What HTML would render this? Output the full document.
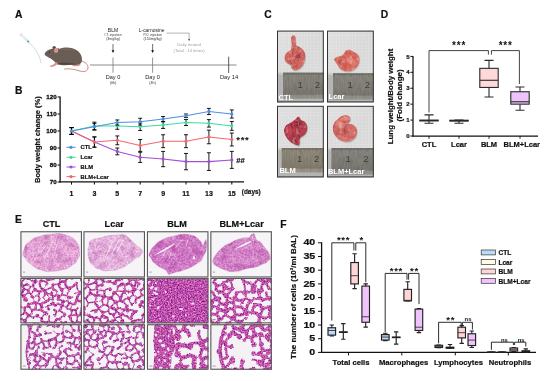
<!DOCTYPE html>
<html><head><meta charset="utf-8"><title>Figure</title>
<style>
html,body{margin:0;padding:0;background:#fff;}
svg{display:block;}
text{font-family:"Liberation Sans",Arial,sans-serif;}
.b{font-weight:bold;stroke:#111;stroke-width:.2px;}
.w{font-weight:bold;}
</style></head><body>
<svg width="550" height="381" viewBox="0 0 550 381">
<rect width="550" height="381" fill="#fff"/>

<text class="b" x="15.0" y="18.1" font-size="10.3" fill="#111" stroke="#111" stroke-width="0.3">A</text>
<text class="b" x="14.9" y="93.9" font-size="10.3" fill="#111" stroke="#111" stroke-width="0.3">B</text>
<text class="b" x="264.3" y="18.2" font-size="10.3" fill="#111" stroke="#111" stroke-width="0.3">C</text>
<text class="b" x="380.8" y="18.2" font-size="10.3" fill="#111" stroke="#111" stroke-width="0.3">D</text>
<text class="b" x="15.0" y="222.8" font-size="10.3" fill="#111" stroke="#111" stroke-width="0.3">E</text>
<text class="b" x="280.3" y="227.5" font-size="10.3" fill="#111" stroke="#111" stroke-width="0.3">F</text>
<g id="panelA">
<line x1="90" y1="65" x2="236.6" y2="65" stroke="#808080" stroke-width="0.9"/>
<line x1="113" y1="57.5" x2="113" y2="72.8" stroke="#7a7a7a" stroke-width="0.8"/>
<line x1="152.6" y1="57.5" x2="152.6" y2="72.8" stroke="#7a7a7a" stroke-width="0.8"/>
<line x1="228.7" y1="56.7" x2="228.7" y2="73" stroke="#333" stroke-width="0.8"/>
<line x1="113" y1="44" x2="113" y2="51" stroke="#111" stroke-width="0.6"/>
<path d="M111.6 50.2 L114.4 50.2 L113 53 Z" fill="#111"/>
<line x1="152.6" y1="44" x2="152.6" y2="51" stroke="#111" stroke-width="0.6"/>
<path d="M151.2 50.2 L154.0 50.2 L152.6 53 Z" fill="#111"/>
<text x="113" y="31.8" font-size="5.0" text-anchor="middle" fill="#222">BLM</text>
<text x="113" y="35.9" font-size="3.2" text-anchor="middle" fill="#333">I.T. injection</text>
<text x="113" y="39.8" font-size="3.45" text-anchor="middle" fill="#333">(3mg/kg)</text>
<text x="151.6" y="31.8" font-size="4.9" text-anchor="middle" fill="#222">L-carnosine</text>
<text x="152.6" y="35.9" font-size="3.15" text-anchor="middle" fill="#333">P.O. injection</text>
<text x="152.6" y="39.8" font-size="3.6" text-anchor="middle" fill="#333">(150mg/kg)</text>
<path d="M166.5 33.1 H189.1 V39.5" fill="none" stroke="#666" stroke-width="0.5"/>
<path d="M188 39 L190.2 39 L189.1 41.2 Z" fill="#555"/>
<text x="189.1" y="46.4" font-size="4.2" text-anchor="middle" fill="#a0a0a0">Daily treated</text>
<text x="189.1" y="51.7" font-size="4.2" text-anchor="middle" fill="#a0a0a0">(Total : 14 times)</text>
<text x="113" y="79" font-size="5.6" text-anchor="middle" fill="#222">Day 0</text>
<text x="113" y="83.8" font-size="3.7" text-anchor="middle" fill="#333">(0h)</text>
<text x="152.6" y="79" font-size="5.6" text-anchor="middle" fill="#222">Day 0</text>
<text x="152.6" y="83.8" font-size="3.7" text-anchor="middle" fill="#333">(4h)</text>
<text x="229" y="79" font-size="5.75" text-anchor="middle" fill="#222">Day 14</text>
<g transform="translate(21.4,35) rotate(44)">
<rect x="0" y="-0.85" width="10.2" height="1.7" fill="#f4f6f7" stroke="#c4cbcf" stroke-width="0.35"/>
<rect x="-1.0" y="-1.4" width="1.0" height="2.8" fill="#dfe3e6" stroke="#c0c6ca" stroke-width="0.3"/>
<rect x="1.5" y="-0.45" width="4" height="0.9" fill="#e3e8ea"/>
<rect x="5.4" y="-0.6" width="3.2" height="1.2" fill="#d4e6ee"/>
<rect x="8.5" y="-0.75" width="1.8" height="1.5" fill="#4a93b4"/>
</g>
<path d="M28.8 42.4 C33.6 46.4 39.2 53.5 41.2 63" fill="none" stroke="#bcc7cc" stroke-width="0.65"/>
<g>
<path d="M80.8 61 C85 61.2 88.2 64.6 88 68 C87.8 71.6 83.6 72.2 79 70.8 C74.6 69.4 68.6 68.2 64.6 69" fill="none" stroke="#c9827c" stroke-width="0.95" stroke-linecap="round"/>
<path d="M71.5 65.4 C74 66.6 78 66.4 80.6 65.2 L80 63.6 Z" fill="#d9908a"/>
<ellipse cx="54.2" cy="47.6" rx="1.7" ry="1.6" fill="#5a4f49"/>
<path d="M44.6 53.6 C45.6 51.4 48.6 49.4 52 48.8 C54.6 47.8 57.6 47.8 59.6 48.8 C64.6 46.6 72.6 47 77.2 50.4 C81.6 53.6 83 59.2 81.4 62.6 C80 65 75.6 65.2 71.4 64.8 C66.4 65.6 60.4 65.4 56.8 64.2 C54.8 61.6 52.2 58.8 48.6 57.4 C46.4 56.6 44.4 55.4 44.6 53.6 Z" fill="#6a5d56"/>
<path d="M60 49.6 C65 47.8 72 48.2 76.4 51.2 C72 49.8 65 49.6 60 49.6 Z" fill="#7b6e66" opacity="0.8"/>
<path d="M57 63.6 C62 65.2 70 65 76.4 64.2 C72 62.6 62 62.2 57 63.6 Z" fill="#51463f"/>
<path d="M55.6 62 C54.6 64 52.6 65.4 50 65.8 L50.4 66.9 C53.6 66.9 57 65.4 58 63 Z" fill="#d9908a"/>
<ellipse cx="56.2" cy="50.3" rx="2.0" ry="2.5" fill="#e3a29c" transform="rotate(18 56.2 50.3)"/>
<ellipse cx="56.3" cy="50.5" rx="1.1" ry="1.6" fill="#d48a84" transform="rotate(18 56.3 50.5)"/>
<circle cx="49.4" cy="52.3" r="0.55" fill="#1a1412"/>
</g>
</g>
</g>
<g id="panelB">
<line x1="60.1" y1="96.5" x2="60.1" y2="182.6" stroke="#111" stroke-width="1.3"/>
<line x1="59.5" y1="181.9" x2="244" y2="181.9" stroke="#111" stroke-width="1.3"/>
<line x1="57.6" y1="182.0" x2="60" y2="182.0" stroke="#111" stroke-width="1.05"/>
<text class="b" x="56.6" y="184.2" font-size="6.2" style="stroke-width:.3px" text-anchor="end" fill="#111">70</text>
<line x1="57.6" y1="165.0" x2="60" y2="165.0" stroke="#111" stroke-width="1.05"/>
<text class="b" x="56.6" y="167.2" font-size="6.2" style="stroke-width:.3px" text-anchor="end" fill="#111">80</text>
<line x1="57.6" y1="148.0" x2="60" y2="148.0" stroke="#111" stroke-width="1.05"/>
<text class="b" x="56.6" y="150.2" font-size="6.2" style="stroke-width:.3px" text-anchor="end" fill="#111">90</text>
<line x1="57.6" y1="131.0" x2="60" y2="131.0" stroke="#111" stroke-width="1.05"/>
<text class="b" x="56.6" y="133.2" font-size="6.2" style="stroke-width:.3px" text-anchor="end" fill="#111">100</text>
<line x1="57.6" y1="114.0" x2="60" y2="114.0" stroke="#111" stroke-width="1.05"/>
<text class="b" x="56.6" y="116.2" font-size="6.2" style="stroke-width:.3px" text-anchor="end" fill="#111">110</text>
<line x1="57.6" y1="97.0" x2="60" y2="97.0" stroke="#111" stroke-width="1.05"/>
<text class="b" x="56.6" y="99.2" font-size="6.2" style="stroke-width:.3px" text-anchor="end" fill="#111">120</text>
<line x1="71.5" y1="182.0" x2="71.5" y2="184.6" stroke="#111" stroke-width="1.05"/>
<text class="b" x="71.5" y="195.8" font-size="7" text-anchor="middle" fill="#111">1</text>
<line x1="94.4" y1="182.0" x2="94.4" y2="184.6" stroke="#111" stroke-width="1.05"/>
<text class="b" x="94.4" y="195.8" font-size="7" text-anchor="middle" fill="#111">3</text>
<line x1="117.3" y1="182.0" x2="117.3" y2="184.6" stroke="#111" stroke-width="1.05"/>
<text class="b" x="117.3" y="195.8" font-size="7" text-anchor="middle" fill="#111">5</text>
<line x1="140.2" y1="182.0" x2="140.2" y2="184.6" stroke="#111" stroke-width="1.05"/>
<text class="b" x="140.2" y="195.8" font-size="7" text-anchor="middle" fill="#111">7</text>
<line x1="163.1" y1="182.0" x2="163.1" y2="184.6" stroke="#111" stroke-width="1.05"/>
<text class="b" x="163.1" y="195.8" font-size="7" text-anchor="middle" fill="#111">9</text>
<line x1="186.0" y1="182.0" x2="186.0" y2="184.6" stroke="#111" stroke-width="1.05"/>
<text class="b" x="186.0" y="195.8" font-size="7" text-anchor="middle" fill="#111">11</text>
<line x1="208.89999999999998" y1="182.0" x2="208.89999999999998" y2="184.6" stroke="#111" stroke-width="1.05"/>
<text class="b" x="208.89999999999998" y="195.8" font-size="7" text-anchor="middle" fill="#111">13</text>
<line x1="231.79999999999998" y1="182.0" x2="231.79999999999998" y2="184.6" stroke="#111" stroke-width="1.05"/>
<text class="b" x="231.79999999999998" y="195.8" font-size="7" text-anchor="middle" fill="#111">15</text>
<text class="b" x="241.8" y="194.2" font-size="6.4" fill="#222">(days)</text>
<text class="b" transform="translate(39.8,139.6) rotate(-90)" font-size="7.5" text-anchor="middle" fill="#111">Body weight change (%)</text>
<path d="M71.5 127.60 V134.40 M69.5 127.60 H73.5 M69.5 134.40 H73.5" stroke="#000" stroke-width="0.9" fill="none"/>
<path d="M94.4 136.95 V147.15 M92.4 136.95 H96.4 M92.4 147.15 H96.4" stroke="#000" stroke-width="0.9" fill="none"/>
<path d="M117.3 148.00 V154.80 M115.3 148.00 H119.3 M115.3 154.80 H119.3" stroke="#000" stroke-width="0.9" fill="none"/>
<path d="M140.2 152.25 V162.45 M138.2 152.25 H142.2 M138.2 162.45 H142.2" stroke="#000" stroke-width="0.9" fill="none"/>
<path d="M163.1 151.40 V166.70 M161.1 151.40 H165.1 M161.1 166.70 H165.1" stroke="#000" stroke-width="0.9" fill="none"/>
<path d="M186.0 153.44 V169.76 M184.0 153.44 H188.0 M184.0 169.76 H188.0" stroke="#000" stroke-width="0.9" fill="none"/>
<path d="M208.89999999999998 152.76 V170.44 M206.89999999999998 152.76 H210.89999999999998 M206.89999999999998 170.44 H210.89999999999998" stroke="#000" stroke-width="0.9" fill="none"/>
<path d="M231.79999999999998 151.40 V168.40 M229.79999999999998 151.40 H233.79999999999998 M229.79999999999998 168.40 H233.79999999999998" stroke="#000" stroke-width="0.9" fill="none"/>
<polyline points="71.50,131.00 94.40,142.05 117.30,151.40 140.20,157.35 163.10,159.05 186.00,161.60 208.90,161.60 231.80,159.90" fill="none" stroke="#a24fd8" stroke-width="1.05"/>
<circle cx="71.50" cy="131.00" r="1.6" fill="#a24fd8"/>
<circle cx="94.40" cy="142.05" r="1.6" fill="#a24fd8"/>
<circle cx="117.30" cy="151.40" r="1.6" fill="#a24fd8"/>
<circle cx="140.20" cy="157.35" r="1.6" fill="#a24fd8"/>
<circle cx="163.10" cy="159.05" r="1.6" fill="#a24fd8"/>
<circle cx="186.00" cy="161.60" r="1.6" fill="#a24fd8"/>
<circle cx="208.90" cy="161.60" r="1.6" fill="#a24fd8"/>
<circle cx="231.80" cy="159.90" r="1.6" fill="#a24fd8"/>
<path d="M71.5 127.60 V134.40 M69.5 127.60 H73.5 M69.5 134.40 H73.5" stroke="#000" stroke-width="0.9" fill="none"/>
<path d="M94.4 136.95 V147.15 M92.4 136.95 H96.4 M92.4 147.15 H96.4" stroke="#000" stroke-width="0.9" fill="none"/>
<path d="M117.3 135.93 V144.77 M115.3 135.93 H119.3 M115.3 144.77 H119.3" stroke="#000" stroke-width="0.9" fill="none"/>
<path d="M140.2 139.50 V151.40 M138.2 139.50 H142.2 M138.2 151.40 H142.2" stroke="#000" stroke-width="0.9" fill="none"/>
<path d="M163.1 134.74 V147.66 M161.1 134.74 H165.1 M161.1 147.66 H165.1" stroke="#000" stroke-width="0.9" fill="none"/>
<path d="M186.0 134.74 V147.66 M184.0 134.74 H188.0 M184.0 147.66 H188.0" stroke="#000" stroke-width="0.9" fill="none"/>
<path d="M208.89999999999998 130.15 V143.75 M206.89999999999998 130.15 H210.89999999999998 M206.89999999999998 143.75 H210.89999999999998" stroke="#000" stroke-width="0.9" fill="none"/>
<path d="M231.79999999999998 133.04 V145.96 M229.79999999999998 133.04 H233.79999999999998 M229.79999999999998 145.96 H233.79999999999998" stroke="#000" stroke-width="0.9" fill="none"/>
<polyline points="71.50,131.00 94.40,142.05 117.30,140.35 140.20,145.45 163.10,141.20 186.00,141.20 208.90,136.95 231.80,139.50" fill="none" stroke="#f0686e" stroke-width="1.05"/>
<circle cx="71.50" cy="131.00" r="1.6" fill="#f0686e"/>
<circle cx="94.40" cy="142.05" r="1.6" fill="#f0686e"/>
<circle cx="117.30" cy="140.35" r="1.6" fill="#f0686e"/>
<circle cx="140.20" cy="145.45" r="1.6" fill="#f0686e"/>
<circle cx="163.10" cy="141.20" r="1.6" fill="#f0686e"/>
<circle cx="186.00" cy="141.20" r="1.6" fill="#f0686e"/>
<circle cx="208.90" cy="136.95" r="1.6" fill="#f0686e"/>
<circle cx="231.80" cy="139.50" r="1.6" fill="#f0686e"/>
<path d="M71.5 127.60 V134.40 M69.5 127.60 H73.5 M69.5 134.40 H73.5" stroke="#000" stroke-width="0.9" fill="none"/>
<path d="M94.4 122.16 V129.64 M92.4 122.16 H96.4 M92.4 129.64 H96.4" stroke="#000" stroke-width="0.9" fill="none"/>
<path d="M117.3 122.50 V129.30 M115.3 122.50 H119.3 M115.3 129.30 H119.3" stroke="#000" stroke-width="0.9" fill="none"/>
<path d="M140.2 123.01 V130.49 M138.2 123.01 H142.2 M138.2 130.49 H142.2" stroke="#000" stroke-width="0.9" fill="none"/>
<path d="M163.1 121.65 V128.45 M161.1 121.65 H165.1 M161.1 128.45 H165.1" stroke="#000" stroke-width="0.9" fill="none"/>
<path d="M186.0 119.44 V125.56 M184.0 119.44 H188.0 M184.0 125.56 H188.0" stroke="#000" stroke-width="0.9" fill="none"/>
<path d="M208.89999999999998 119.61 V127.09 M206.89999999999998 119.61 H210.89999999999998 M206.89999999999998 127.09 H210.89999999999998" stroke="#000" stroke-width="0.9" fill="none"/>
<path d="M231.79999999999998 121.48 V130.32 M229.79999999999998 121.48 H233.79999999999998 M229.79999999999998 130.32 H233.79999999999998" stroke="#000" stroke-width="0.9" fill="none"/>
<polyline points="71.50,131.00 94.40,125.90 117.30,125.90 140.20,126.75 163.10,125.05 186.00,122.50 208.90,123.35 231.80,125.90" fill="none" stroke="#3ddba0" stroke-width="1.05"/>
<circle cx="71.50" cy="131.00" r="1.6" fill="#3ddba0"/>
<circle cx="94.40" cy="125.90" r="1.6" fill="#3ddba0"/>
<circle cx="117.30" cy="125.90" r="1.6" fill="#3ddba0"/>
<circle cx="140.20" cy="126.75" r="1.6" fill="#3ddba0"/>
<circle cx="163.10" cy="125.05" r="1.6" fill="#3ddba0"/>
<circle cx="186.00" cy="122.50" r="1.6" fill="#3ddba0"/>
<circle cx="208.90" cy="123.35" r="1.6" fill="#3ddba0"/>
<circle cx="231.80" cy="125.90" r="1.6" fill="#3ddba0"/>
<path d="M71.5 127.60 V134.40 M69.5 127.60 H73.5 M69.5 134.40 H73.5" stroke="#000" stroke-width="0.9" fill="none"/>
<path d="M94.4 123.35 V130.15 M92.4 123.35 H96.4 M92.4 130.15 H96.4" stroke="#000" stroke-width="0.9" fill="none"/>
<path d="M117.3 119.95 V125.05 M115.3 119.95 H119.3 M115.3 125.05 H119.3" stroke="#000" stroke-width="0.9" fill="none"/>
<path d="M140.2 118.25 V125.05 M138.2 118.25 H142.2 M138.2 125.05 H142.2" stroke="#000" stroke-width="0.9" fill="none"/>
<path d="M163.1 116.55 V121.65 M161.1 116.55 H165.1 M161.1 121.65 H165.1" stroke="#000" stroke-width="0.9" fill="none"/>
<path d="M186.0 114.00 V117.40 M184.0 114.00 H188.0 M184.0 117.40 H188.0" stroke="#000" stroke-width="0.9" fill="none"/>
<path d="M208.89999999999998 108.39 V114.51 M206.89999999999998 108.39 H210.89999999999998 M206.89999999999998 114.51 H210.89999999999998" stroke="#000" stroke-width="0.9" fill="none"/>
<path d="M231.79999999999998 109.92 V118.08 M229.79999999999998 109.92 H233.79999999999998 M229.79999999999998 118.08 H233.79999999999998" stroke="#000" stroke-width="0.9" fill="none"/>
<polyline points="71.50,131.00 94.40,126.75 117.30,122.50 140.20,121.65 163.10,119.10 186.00,115.70 208.90,111.45 231.80,114.00" fill="none" stroke="#4a90e8" stroke-width="1.05"/>
<circle cx="71.50" cy="131.00" r="1.6" fill="#4a90e8"/>
<circle cx="94.40" cy="126.75" r="1.6" fill="#4a90e8"/>
<circle cx="117.30" cy="122.50" r="1.6" fill="#4a90e8"/>
<circle cx="140.20" cy="121.65" r="1.6" fill="#4a90e8"/>
<circle cx="163.10" cy="119.10" r="1.6" fill="#4a90e8"/>
<circle cx="186.00" cy="115.70" r="1.6" fill="#4a90e8"/>
<circle cx="208.90" cy="111.45" r="1.6" fill="#4a90e8"/>
<circle cx="231.80" cy="114.00" r="1.6" fill="#4a90e8"/>
<line x1="66.5" y1="147.3" x2="75.5" y2="147.3" stroke="#4a90e8" stroke-width="1.05"/>
<circle cx="71" cy="147.3" r="1.6" fill="#4a90e8"/>
<text class="b" x="80.5" y="149.4" font-size="5.8" fill="#111">CTL</text>
<line x1="66.5" y1="157.3" x2="75.5" y2="157.3" stroke="#3ddba0" stroke-width="1.05"/>
<circle cx="71" cy="157.3" r="1.6" fill="#3ddba0"/>
<text class="b" x="80.5" y="159.4" font-size="5.8" fill="#111">Lcar</text>
<line x1="66.5" y1="167" x2="75.5" y2="167" stroke="#a24fd8" stroke-width="1.05"/>
<circle cx="71" cy="167" r="1.6" fill="#a24fd8"/>
<text class="b" x="80.5" y="169.1" font-size="5.8" fill="#111">BLM</text>
<line x1="66.5" y1="176.6" x2="75.5" y2="176.6" stroke="#f0686e" stroke-width="1.05"/>
<circle cx="71" cy="176.6" r="1.6" fill="#f0686e"/>
<text class="b" x="80.5" y="178.7" font-size="5.8" fill="#111">BLM+Lcar</text>
<text class="w" x="236.3" y="142.9" font-size="9.6" letter-spacing="0.6" fill="#111">***</text>
<text class="b" x="236.2" y="162.6" font-size="7.6" fill="#111">##</text>
</g>
<g id="panelC">
<defs>
<pattern id="gridp" width="3.2" height="3.2" patternUnits="userSpaceOnUse">
<rect width="3.2" height="3.2" fill="#d9d8d8"/>
<path d="M0 0.3 H3.2 M0.3 0 V3.2" stroke="#e3e3e4" stroke-width="0.5"/>
</pattern>
<filter id="tissue" x="-5%" y="-5%" width="110%" height="110%">
<feTurbulence type="fractalNoise" baseFrequency="0.28" numOctaves="2" seed="3" result="n"/>
<feColorMatrix in="n" type="matrix" values="0 0 0 0 0.98  0 0 0 0 0.74  0 0 0 0 0.7  1.0 0 0 0 -0.54" result="hl"/>
<feComposite in="hl" in2="SourceGraphic" operator="in" result="hl2"/>
<feColorMatrix in="n" type="matrix" values="0 0 0 0 0.45  0 0 0 0 0.05  0 0 0 0 0.08  0 1.2 0 0 -0.52" result="dk"/>
<feComposite in="dk" in2="SourceGraphic" operator="in" result="dk2"/>
<feMerge><feMergeNode in="SourceGraphic"/><feMergeNode in="dk2"/><feMergeNode in="hl2"/></feMerge>
<feGaussianBlur stdDeviation="0.3"/>
</filter>
<filter id="metal" x="0" y="0" width="100%" height="100%">
<feTurbulence type="fractalNoise" baseFrequency="0.7 0.12" numOctaves="2" seed="5" result="n"/>
<feColorMatrix in="n" type="matrix" values="0 0 0 0 0  0 0 0 0 0  0 0 0 0 0  0.45 0 0 0 -0.12" result="d"/>
<feComposite in="d" in2="SourceGraphic" operator="in" result="d2"/>
<feMerge><feMergeNode in="SourceGraphic"/><feMergeNode in="d2"/></feMerge>
</filter>
<filter id="soft" x="-20%" y="-20%" width="140%" height="140%"><feGaussianBlur stdDeviation="0.7"/></filter>
<filter id="soft03c" x="-20%" y="-20%" width="140%" height="140%"><feGaussianBlur stdDeviation="0.3"/></filter>
<filter id="soft2" x="-20%" y="-20%" width="140%" height="140%"><feGaussianBlur stdDeviation="1.1"/></filter>
<linearGradient id="rul" x1="0" y1="0" x2="0" y2="1"><stop offset="0" stop-color="#000" stop-opacity="0.10"/><stop offset="0.12" stop-color="#fff" stop-opacity="0.04"/><stop offset="0.8" stop-color="#000" stop-opacity="0.06"/><stop offset="0.88" stop-color="#fff" stop-opacity="0.12"/><stop offset="1" stop-color="#fff" stop-opacity="0.16"/></linearGradient>
<linearGradient id="pshade" x1="0" y1="0" x2="1" y2="1"><stop offset="0" stop-color="#fff" stop-opacity="0.18"/><stop offset="0.5" stop-color="#fff" stop-opacity="0"/><stop offset="1" stop-color="#fff" stop-opacity="0.12"/></linearGradient>
</defs>
<clipPath id="clip277_30"><rect x="277" y="30.6" width="46.8" height="71.8"/></clipPath>
<clipPath id="lc277_30"><path d="M291.4 36.6 C292.2 34.8 294.8 34.6 295.4 36.6 C296 39 295.4 42.6 296.2 45.4 C297.6 45.8 299.6 46.4 301 47.8 C303.6 49.4 305.4 52.6 305.4 56.2 C305.4 60.4 303.8 64.6 301 67.6 C298.8 70 295.6 71 293.4 70 C291.4 69 290.6 66.6 290.2 64.6 C287.8 64.2 285.4 62.4 284.6 59.8 C283.8 57 284.8 54.2 286.8 52.4 C288.2 51.2 290 50.8 291 49.6 C291.6 46 291.4 42.8 291 40 C290.6 38.8 290.8 37.6 291.4 36.6 Z"/></clipPath>
<g clip-path="url(#clip277_30)">
<rect x="277" y="30.6" width="46.8" height="71.8" fill="url(#gridp)"/>
<rect x="277" y="30.6" width="46.8" height="71.8" fill="url(#pshade)"/>
<rect x="277" y="73.6" width="7.0" height="29.80000000000001" fill="#9a9a9a" opacity="0.6" filter="url(#soft2)"/>
<rect x="277" y="98.3" width="46.8" height="4.6000000000000085" fill="#b4b4b4"/>
<path d="M291.4 36.6 C292.2 34.8 294.8 34.6 295.4 36.6 C296 39 295.4 42.6 296.2 45.4 C297.6 45.8 299.6 46.4 301 47.8 C303.6 49.4 305.4 52.6 305.4 56.2 C305.4 60.4 303.8 64.6 301 67.6 C298.8 70 295.6 71 293.4 70 C291.4 69 290.6 66.6 290.2 64.6 C287.8 64.2 285.4 62.4 284.6 59.8 C283.8 57 284.8 54.2 286.8 52.4 C288.2 51.2 290 50.8 291 49.6 C291.6 46 291.4 42.8 291 40 C290.6 38.8 290.8 37.6 291.4 36.6 Z" fill="#8a8080" opacity="0.4" transform="translate(0.6,1.0)" filter="url(#soft)"/>
<g filter="url(#tissue)"><g clip-path="url(#lc277_30)">
<path d="M291.4 36.6 C292.2 34.8 294.8 34.6 295.4 36.6 C296 39 295.4 42.6 296.2 45.4 C297.6 45.8 299.6 46.4 301 47.8 C303.6 49.4 305.4 52.6 305.4 56.2 C305.4 60.4 303.8 64.6 301 67.6 C298.8 70 295.6 71 293.4 70 C291.4 69 290.6 66.6 290.2 64.6 C287.8 64.2 285.4 62.4 284.6 59.8 C283.8 57 284.8 54.2 286.8 52.4 C288.2 51.2 290 50.8 291 49.6 C291.6 46 291.4 42.8 291 40 C290.6 38.8 290.8 37.6 291.4 36.6 Z" fill="#cf6a62"/>
<ellipse cx="298" cy="56.5" rx="2.2" ry="2.8" fill="#8c2a2a" opacity="0.8" filter="url(#soft2)"/>
<ellipse cx="288.5" cy="57" rx="2.6" ry="3.2" fill="#e8726a" opacity="0.7" filter="url(#soft2)"/>
<ellipse cx="301.5" cy="62" rx="2.2" ry="3.5" fill="#e87a70" opacity="0.6" filter="url(#soft2)"/>
<ellipse cx="293.4" cy="40" rx="1.2" ry="4" fill="#e06a60" opacity="0.6" filter="url(#soft2)"/>
<ellipse cx="295" cy="66" rx="2.5" ry="2.5" fill="#b84040" opacity="0.5" filter="url(#soft2)"/>
<path d="M293.6 46.5 C292 52 292.5 58 295 62.5 M297 51.5 C300 54 300.4 58 298 61.5 M290 55 C288.6 58 289.6 61.6 291.4 63.4" fill="none" stroke="#8a2a2a" stroke-width="0.7" opacity="0.55" stroke-linecap="round" filter="url(#soft03c)"/>
</g></g>
<g filter="url(#metal)"><rect x="283.0" y="72.6" width="41.80000000000001" height="26.200000000000003" fill="#85837a"/></g>
<rect x="283.0" y="72.6" width="41.80000000000001" height="26.200000000000003" fill="url(#rul)"/>
<path d="M284.20 72.89999999999999 v3.4 M285.92 72.89999999999999 v1.6 M287.64 72.89999999999999 v1.6 M289.36 72.89999999999999 v1.6 M291.08 72.89999999999999 v1.6 M292.80 72.89999999999999 v2.5 M294.52 72.89999999999999 v1.6 M296.24 72.89999999999999 v1.6 M297.96 72.89999999999999 v1.6 M299.68 72.89999999999999 v1.6 M301.40 72.89999999999999 v3.4 M303.12 72.89999999999999 v1.6 M304.84 72.89999999999999 v1.6 M306.56 72.89999999999999 v1.6 M308.28 72.89999999999999 v1.6 M310.00 72.89999999999999 v2.5 M311.72 72.89999999999999 v1.6 M313.44 72.89999999999999 v1.6 M315.16 72.89999999999999 v1.6 M316.88 72.89999999999999 v1.6 M318.60 72.89999999999999 v3.4 M320.32 72.89999999999999 v1.6 M322.04 72.89999999999999 v1.6 M323.76 72.89999999999999 v1.6" stroke="#35332e" stroke-width="0.4" opacity="0.65"/>
<text x="300.2" y="87.5" font-size="9.6" text-anchor="middle" fill="#35332e" opacity="0.85">1</text>
<text x="317.4" y="87.5" font-size="9.6" text-anchor="middle" fill="#35332e" opacity="0.85">2</text>
</g>
<rect x="277.5" y="31.1" width="45.8" height="70.8" fill="none" stroke="#333" stroke-width="1"/>
<text class="w" x="278.6" y="99.6" font-size="7.5" fill="#fff">CTL</text>
<clipPath id="clip327_30"><rect x="327" y="30.6" width="46.8" height="71.8"/></clipPath>
<clipPath id="lc327_30"><path d="M334.2 58.8 C335.4 56.8 338.6 56.6 341.2 55.6 C342.6 55 343.6 53.6 344.6 52.2 C346 50 348.6 48.8 350.6 50 C352.4 51 354 52 355.8 52.8 C358.6 54.2 360 57.4 359.6 60.8 C359.2 64.6 357 67.8 353.8 69.8 C350.4 72 346.2 72 343 70.6 C340.6 69.6 338.8 67.6 337.6 65.4 C336.6 63.4 335.6 62.2 334.6 61 C334 60.4 333.8 59.6 334.2 58.8 Z"/></clipPath>
<g clip-path="url(#clip327_30)">
<rect x="327" y="30.6" width="46.8" height="71.8" fill="url(#gridp)"/>
<rect x="327" y="30.6" width="46.8" height="71.8" fill="url(#pshade)"/>
<rect x="327" y="74.2" width="7.0" height="29.200000000000003" fill="#9a9a9a" opacity="0.6" filter="url(#soft2)"/>
<rect x="327" y="99.1" width="46.8" height="3.8000000000000114" fill="#b4b4b4"/>
<path d="M334.2 58.8 C335.4 56.8 338.6 56.6 341.2 55.6 C342.6 55 343.6 53.6 344.6 52.2 C346 50 348.6 48.8 350.6 50 C352.4 51 354 52 355.8 52.8 C358.6 54.2 360 57.4 359.6 60.8 C359.2 64.6 357 67.8 353.8 69.8 C350.4 72 346.2 72 343 70.6 C340.6 69.6 338.8 67.6 337.6 65.4 C336.6 63.4 335.6 62.2 334.6 61 C334 60.4 333.8 59.6 334.2 58.8 Z" fill="#8a8080" opacity="0.4" transform="translate(0.6,1.0)" filter="url(#soft)"/>
<g filter="url(#tissue)"><g clip-path="url(#lc327_30)">
<path d="M334.2 58.8 C335.4 56.8 338.6 56.6 341.2 55.6 C342.6 55 343.6 53.6 344.6 52.2 C346 50 348.6 48.8 350.6 50 C352.4 51 354 52 355.8 52.8 C358.6 54.2 360 57.4 359.6 60.8 C359.2 64.6 357 67.8 353.8 69.8 C350.4 72 346.2 72 343 70.6 C340.6 69.6 338.8 67.6 337.6 65.4 C336.6 63.4 335.6 62.2 334.6 61 C334 60.4 333.8 59.6 334.2 58.8 Z" fill="#d96f60"/>
<ellipse cx="350" cy="60" rx="3" ry="3" fill="#f2958c" opacity="0.8" filter="url(#soft2)"/>
<ellipse cx="341" cy="62" rx="3" ry="2.5" fill="#c84848" opacity="0.5" filter="url(#soft2)"/>
<ellipse cx="354" cy="63" rx="2.5" ry="4" fill="#ec857c" opacity="0.6" filter="url(#soft2)"/>
<ellipse cx="347" cy="54" rx="2" ry="3" fill="#d05050" opacity="0.5" filter="url(#soft2)"/>
<ellipse cx="347" cy="68" rx="4" ry="2" fill="#d85850" opacity="0.5" filter="url(#soft2)"/>
<path d="M342.6 56 C346 58 347 62.6 345 67.6 M350 52.6 C351 57 354 59.4 357.4 58 M338 60 C340 62 340.6 65 340 67" fill="none" stroke="#9a3030" stroke-width="0.7" opacity="0.55" stroke-linecap="round" filter="url(#soft03c)"/>
</g></g>
<g filter="url(#metal)"><rect x="333.0" y="73.2" width="41.80000000000001" height="26.39999999999999" fill="#86847c"/></g>
<rect x="333.0" y="73.2" width="41.80000000000001" height="26.39999999999999" fill="url(#rul)"/>
<path d="M334.20 73.5 v3.4 M335.92 73.5 v1.6 M337.64 73.5 v1.6 M339.36 73.5 v1.6 M341.08 73.5 v1.6 M342.80 73.5 v2.5 M344.52 73.5 v1.6 M346.24 73.5 v1.6 M347.96 73.5 v1.6 M349.68 73.5 v1.6 M351.40 73.5 v3.4 M353.12 73.5 v1.6 M354.84 73.5 v1.6 M356.56 73.5 v1.6 M358.28 73.5 v1.6 M360.00 73.5 v2.5 M361.72 73.5 v1.6 M363.44 73.5 v1.6 M365.16 73.5 v1.6 M366.88 73.5 v1.6 M368.60 73.5 v3.4 M370.32 73.5 v1.6 M372.04 73.5 v1.6 M373.76 73.5 v1.6" stroke="#35332e" stroke-width="0.4" opacity="0.65"/>
<text x="350.2" y="87.5" font-size="9.6" text-anchor="middle" fill="#35332e" opacity="0.85">1</text>
<text x="367.4" y="87.5" font-size="9.6" text-anchor="middle" fill="#35332e" opacity="0.85">2</text>
</g>
<rect x="327.5" y="31.1" width="45.8" height="70.8" fill="none" stroke="#333" stroke-width="1"/>
<text class="w" x="328.6" y="99.4" font-size="7.5" fill="#fff">Lcar</text>
<clipPath id="clip277_105"><rect x="277" y="105.8" width="46.8" height="71.6"/></clipPath>
<clipPath id="lc277_105"><path d="M297.2 117 C298.4 115.8 299.8 117 300.2 118.6 C300.6 119.8 301.4 120.4 302.6 120.6 C305.2 121.2 307 123.6 307.4 126.6 C307.8 130 306.6 133.4 304 135.4 C302.4 136.6 300.6 137 300 138.6 C299.6 140.6 300.2 143.2 299.4 145 C298.6 146.2 296.8 145.6 295.2 144.8 C291.6 143.2 288.4 140.6 286.2 137.2 C284.2 134.2 283.2 130.4 284.6 127.4 C286 124.4 289.4 123.2 292.2 121.6 C294.2 120.4 295.8 118.6 297.2 117 Z"/></clipPath>
<g clip-path="url(#clip277_105)">
<rect x="277" y="105.8" width="46.8" height="71.6" fill="url(#gridp)"/>
<rect x="277" y="105.8" width="46.8" height="71.6" fill="url(#pshade)"/>
<rect x="277" y="149" width="5.600000000000023" height="29.399999999999977" fill="#9a9a9a" opacity="0.6" filter="url(#soft2)"/>
<rect x="277" y="171.9" width="46.8" height="5.999999999999972" fill="#b4b4b4"/>
<path d="M297.2 117 C298.4 115.8 299.8 117 300.2 118.6 C300.6 119.8 301.4 120.4 302.6 120.6 C305.2 121.2 307 123.6 307.4 126.6 C307.8 130 306.6 133.4 304 135.4 C302.4 136.6 300.6 137 300 138.6 C299.6 140.6 300.2 143.2 299.4 145 C298.6 146.2 296.8 145.6 295.2 144.8 C291.6 143.2 288.4 140.6 286.2 137.2 C284.2 134.2 283.2 130.4 284.6 127.4 C286 124.4 289.4 123.2 292.2 121.6 C294.2 120.4 295.8 118.6 297.2 117 Z" fill="#8a8080" opacity="0.4" transform="translate(0.6,1.0)" filter="url(#soft)"/>
<g filter="url(#tissue)"><g clip-path="url(#lc277_105)">
<path d="M297.2 117 C298.4 115.8 299.8 117 300.2 118.6 C300.6 119.8 301.4 120.4 302.6 120.6 C305.2 121.2 307 123.6 307.4 126.6 C307.8 130 306.6 133.4 304 135.4 C302.4 136.6 300.6 137 300 138.6 C299.6 140.6 300.2 143.2 299.4 145 C298.6 146.2 296.8 145.6 295.2 144.8 C291.6 143.2 288.4 140.6 286.2 137.2 C284.2 134.2 283.2 130.4 284.6 127.4 C286 124.4 289.4 123.2 292.2 121.6 C294.2 120.4 295.8 118.6 297.2 117 Z" fill="#ad3c4c"/>
<ellipse cx="298" cy="124" rx="4" ry="3" fill="#8a2034" opacity="0.7" filter="url(#soft2)"/>
<ellipse cx="290" cy="131" rx="3.5" ry="4" fill="#cc4c5a" opacity="0.7" filter="url(#soft2)"/>
<ellipse cx="302" cy="130" rx="3" ry="3.5" fill="#c84656" opacity="0.6" filter="url(#soft2)"/>
<ellipse cx="294" cy="140" rx="3" ry="3" fill="#a02c3c" opacity="0.6" filter="url(#soft2)"/>
<ellipse cx="297.6" cy="119" rx="1.2" ry="2" fill="#d8606a" opacity="0.6" filter="url(#soft2)"/>
<path d="M297.4 119 C296 124 298 128 302.6 129 M291 124 C293.4 130 292 137 296.4 142.6 M300 131 C298 134 298.6 137 300 138.6" fill="none" stroke="#5e1020" stroke-width="0.7" opacity="0.55" stroke-linecap="round" filter="url(#soft03c)"/>
</g></g>
<g filter="url(#metal)"><rect x="281.6" y="148" width="43.19999999999999" height="24.400000000000006" fill="#8e8777"/></g>
<rect x="281.6" y="148" width="43.19999999999999" height="24.400000000000006" fill="url(#rul)"/>
<path d="M282.80 148.3 v3.4 M284.52 148.3 v1.6 M286.24 148.3 v1.6 M287.96 148.3 v1.6 M289.68 148.3 v1.6 M291.40 148.3 v2.5 M293.12 148.3 v1.6 M294.84 148.3 v1.6 M296.56 148.3 v1.6 M298.28 148.3 v1.6 M300.00 148.3 v3.4 M301.72 148.3 v1.6 M303.44 148.3 v1.6 M305.16 148.3 v1.6 M306.88 148.3 v1.6 M308.60 148.3 v2.5 M310.32 148.3 v1.6 M312.04 148.3 v1.6 M313.76 148.3 v1.6 M315.48 148.3 v1.6 M317.20 148.3 v3.4 M318.92 148.3 v1.6 M320.64 148.3 v1.6 M322.36 148.3 v1.6" stroke="#35332e" stroke-width="0.4" opacity="0.65"/>
<text x="299.6" y="161.5" font-size="9.6" text-anchor="middle" fill="#35332e" opacity="0.85">1</text>
<text x="316.6" y="161.5" font-size="9.6" text-anchor="middle" fill="#35332e" opacity="0.85">2</text>
</g>
<rect x="277.5" y="106.3" width="45.8" height="70.6" fill="none" stroke="#333" stroke-width="1"/>
<text class="w" x="279.4" y="173.2" font-size="7.5" fill="#fff">BLM</text>
<clipPath id="clip327_105"><rect x="327" y="105.8" width="46.8" height="71.6"/></clipPath>
<clipPath id="lc327_105"><path d="M339 117.8 C341.4 115.4 345.4 114.4 348.2 115.6 C350.4 116.6 351 118.8 350 120.8 C349.4 122 348.4 123 348.4 124 C350.4 123.4 353 124 354.8 125.8 C357.4 128.4 357.8 132.8 356 136.2 C354 140 349.8 142.2 345.6 141.8 C341.2 141.4 337 138.8 334.6 135 C332.4 131.4 332 126.8 333.8 123.2 C335 120.8 337.2 119.4 339 117.8 Z"/></clipPath>
<g clip-path="url(#clip327_105)">
<rect x="327" y="105.8" width="46.8" height="71.6" fill="url(#gridp)"/>
<rect x="327" y="105.8" width="46.8" height="71.6" fill="url(#pshade)"/>
<rect x="327" y="149" width="5.399999999999977" height="29.399999999999977" fill="#9a9a9a" opacity="0.6" filter="url(#soft2)"/>
<rect x="327" y="174.1" width="46.8" height="3.799999999999983" fill="#b4b4b4"/>
<path d="M339 117.8 C341.4 115.4 345.4 114.4 348.2 115.6 C350.4 116.6 351 118.8 350 120.8 C349.4 122 348.4 123 348.4 124 C350.4 123.4 353 124 354.8 125.8 C357.4 128.4 357.8 132.8 356 136.2 C354 140 349.8 142.2 345.6 141.8 C341.2 141.4 337 138.8 334.6 135 C332.4 131.4 332 126.8 333.8 123.2 C335 120.8 337.2 119.4 339 117.8 Z" fill="#8a8080" opacity="0.4" transform="translate(0.6,1.0)" filter="url(#soft)"/>
<g filter="url(#tissue)"><g clip-path="url(#lc327_105)">
<path d="M339 117.8 C341.4 115.4 345.4 114.4 348.2 115.6 C350.4 116.6 351 118.8 350 120.8 C349.4 122 348.4 123 348.4 124 C350.4 123.4 353 124 354.8 125.8 C357.4 128.4 357.8 132.8 356 136.2 C354 140 349.8 142.2 345.6 141.8 C341.2 141.4 337 138.8 334.6 135 C332.4 131.4 332 126.8 333.8 123.2 C335 120.8 337.2 119.4 339 117.8 Z" fill="#d2706a"/>
<ellipse cx="340" cy="124" rx="3.5" ry="4" fill="#ee968e" opacity="0.8" filter="url(#soft2)"/>
<ellipse cx="346" cy="118" rx="2.5" ry="2" fill="#f4b0a8" opacity="0.7" filter="url(#soft2)"/>
<ellipse cx="352" cy="132" rx="3" ry="4" fill="#e4766e" opacity="0.6" filter="url(#soft2)"/>
<ellipse cx="345" cy="131" rx="2" ry="3" fill="#a83838" opacity="0.6" filter="url(#soft2)"/>
<ellipse cx="344" cy="138" rx="4" ry="2.5" fill="#e88078" opacity="0.6" filter="url(#soft2)"/>
<ellipse cx="337" cy="132" rx="2" ry="3" fill="#c85050" opacity="0.5" filter="url(#soft2)"/>
<path d="M348.6 124 C345 126 343 130 345.4 134.6 M339.6 120 C342 123 346 122.4 349.4 121 M338 128 C339 132 342 136 346 137" fill="none" stroke="#943434" stroke-width="0.7" opacity="0.55" stroke-linecap="round" filter="url(#soft03c)"/>
</g></g>
<g filter="url(#metal)"><rect x="331.4" y="148" width="43.400000000000034" height="26.599999999999994" fill="#84827b"/></g>
<rect x="331.4" y="148" width="43.400000000000034" height="26.599999999999994" fill="url(#rul)"/>
<path d="M332.60 148.3 v3.4 M334.32 148.3 v1.6 M336.04 148.3 v1.6 M337.76 148.3 v1.6 M339.48 148.3 v1.6 M341.20 148.3 v2.5 M342.92 148.3 v1.6 M344.64 148.3 v1.6 M346.36 148.3 v1.6 M348.08 148.3 v1.6 M349.80 148.3 v3.4 M351.52 148.3 v1.6 M353.24 148.3 v1.6 M354.96 148.3 v1.6 M356.68 148.3 v1.6 M358.40 148.3 v2.5 M360.12 148.3 v1.6 M361.84 148.3 v1.6 M363.56 148.3 v1.6 M365.28 148.3 v1.6 M367.00 148.3 v3.4 M368.72 148.3 v1.6 M370.44 148.3 v1.6 M372.16 148.3 v1.6" stroke="#35332e" stroke-width="0.4" opacity="0.65"/>
<text x="348.2" y="162.1" font-size="9.6" text-anchor="middle" fill="#35332e" opacity="0.85">1</text>
<text x="366" y="162.1" font-size="9.6" text-anchor="middle" fill="#35332e" opacity="0.85">2</text>
</g>
<rect x="327.5" y="106.3" width="45.8" height="70.6" fill="none" stroke="#333" stroke-width="1"/>
<text class="w" x="327.9" y="173.6" font-size="7.5" fill="#fff">BLM+Lcar</text>
</g>
<g id="panelD">
<line x1="413" y1="55.900000000000006" x2="413" y2="136.6" stroke="#111" stroke-width="1.25"/>
<line x1="412.4" y1="136.0" x2="538" y2="136.0" stroke="#111" stroke-width="1.25"/>
<line x1="429" y1="136.0" x2="429" y2="138.8" stroke="#111" stroke-width="0.9"/>
<line x1="459" y1="136.0" x2="459" y2="138.8" stroke="#111" stroke-width="0.9"/>
<line x1="489" y1="136.0" x2="489" y2="138.8" stroke="#111" stroke-width="0.9"/>
<line x1="520" y1="136.0" x2="520" y2="138.8" stroke="#111" stroke-width="0.9"/>
<line x1="410.4" y1="136.00" x2="413" y2="136.00" stroke="#111" stroke-width="1"/>
<text class="b" x="409.6" y="138.10" font-size="6" text-anchor="end" fill="#111">0</text>
<line x1="410.4" y1="120.08" x2="413" y2="120.08" stroke="#111" stroke-width="1"/>
<text class="b" x="409.6" y="122.18" font-size="6" text-anchor="end" fill="#111">1</text>
<line x1="410.4" y1="104.16" x2="413" y2="104.16" stroke="#111" stroke-width="1"/>
<text class="b" x="409.6" y="106.26" font-size="6" text-anchor="end" fill="#111">2</text>
<line x1="410.4" y1="88.24" x2="413" y2="88.24" stroke="#111" stroke-width="1"/>
<text class="b" x="409.6" y="90.34" font-size="6" text-anchor="end" fill="#111">3</text>
<line x1="410.4" y1="72.32" x2="413" y2="72.32" stroke="#111" stroke-width="1"/>
<text class="b" x="409.6" y="74.42" font-size="6" text-anchor="end" fill="#111">4</text>
<line x1="410.4" y1="56.40" x2="413" y2="56.40" stroke="#111" stroke-width="1"/>
<text class="b" x="409.6" y="58.50" font-size="6" text-anchor="end" fill="#111">5</text>
<text class="b" transform="translate(393.0,96.5) rotate(-90)" font-size="7.9" text-anchor="middle" fill="#111">Lung weight/Body weight</text>
<text class="b" transform="translate(401.8,95.4) rotate(-90)" font-size="7.95" text-anchor="middle" fill="#111">(Fold change)</text>
<path d="M429 114.83 V120.08 M429 120.88 V123.26 M424.5 114.83 H433.5 M424.5 123.26 H433.5" stroke="#2a2a2a" stroke-width="1.1" fill="none"/>
<rect x="419.8" y="120.08" width="18.4" height="0.80" fill="#cfe2ff" stroke="#2a2a2a" stroke-width="1.1"/>
<line x1="419.8" y1="120.56" x2="438.2" y2="120.56" stroke="#2a2a2a" stroke-width="1.1"/>
<text class="b" x="429" y="147.2" font-size="7.5" text-anchor="middle" fill="#111">CTL</text>
<path d="M459 120.08 V120.24 M459 121.04 V123.26 M454.5 120.08 H463.5 M454.5 123.26 H463.5" stroke="#2a2a2a" stroke-width="1.1" fill="none"/>
<rect x="449.8" y="120.24" width="18.4" height="0.80" fill="#ffffe0" stroke="#2a2a2a" stroke-width="1.1"/>
<line x1="449.8" y1="120.72" x2="468.2" y2="120.72" stroke="#2a2a2a" stroke-width="1.1"/>
<text class="b" x="459" y="147.2" font-size="7.5" text-anchor="middle" fill="#111">Lcar</text>
<path d="M489 60.38 V68.34 M489 87.44 V97.00 M484.5 60.38 H493.5 M484.5 97.00 H493.5" stroke="#2a2a2a" stroke-width="1.1" fill="none"/>
<rect x="479.8" y="68.34" width="18.4" height="19.10" fill="#ffd9d9" stroke="#2a2a2a" stroke-width="1.1"/>
<line x1="479.8" y1="80.28" x2="498.2" y2="80.28" stroke="#2a2a2a" stroke-width="1.1"/>
<text class="b" x="489" y="147.2" font-size="7.5" text-anchor="middle" fill="#111">BLM</text>
<path d="M520 86.97 V91.74 M520 104.16 V110.21 M515.5 86.97 H524.5 M515.5 110.21 H524.5" stroke="#2a2a2a" stroke-width="1.1" fill="none"/>
<rect x="510.8" y="91.74" width="18.4" height="12.42" fill="#ecc4fb" stroke="#2a2a2a" stroke-width="1.1"/>
<line x1="510.8" y1="101.77" x2="529.2" y2="101.77" stroke="#2a2a2a" stroke-width="1.1"/>
<text class="b" x="521.8" y="147.2" font-size="7.5" text-anchor="middle" fill="#111">BLM+Lcar</text>
<path d="M429 112.5 V50.6 H488.4 V54.6" fill="none" stroke="#222" stroke-width="0.85"/>
<path d="M491.4 54.6 V50.6 H519.4 V84" fill="none" stroke="#222" stroke-width="0.85"/>
<text class="w" x="459.1" y="48.7" font-size="10" letter-spacing="0.8" text-anchor="middle" fill="#111">***</text>
<text class="w" x="505.7" y="48.7" font-size="10" letter-spacing="0.8" text-anchor="middle" fill="#111">***</text>
</g>
<g id="panelE">
<text class="b" x="51.6" y="227.2" font-size="9.1" text-anchor="middle" fill="#111">CTL</text>
<text class="b" x="114.2" y="227.2" font-size="9.1" text-anchor="middle" fill="#111">Lcar</text>
<text class="b" x="177" y="227.2" font-size="9.1" text-anchor="middle" fill="#111">BLM</text>
<text class="b" x="241.6" y="227.2" font-size="9.1" text-anchor="middle" fill="#111">BLM+Lcar</text>
<defs>
<filter id="soft03" x="-10%" y="-10%" width="120%" height="120%"><feGaussianBlur stdDeviation="0.35"/></filter>
<filter id="sec1" x="-2%" y="-2%" width="104%" height="104%" color-interpolation-filters="sRGB">
<feTurbulence type="fractalNoise" baseFrequency="0.55" numOctaves="2" seed="3" result="n"/>
<feColorMatrix in="n" type="matrix" values="-0.179 0 0 0 0.984  -0.527 0 0 0 0.910  -0.246 0 0 0 0.962  0 0 0 0 1" result="c"/>
<feTurbulence type="fractalNoise" baseFrequency="0.14" numOctaves="2" seed="43" result="lo"/>
<feColorMatrix in="lo" type="matrix" values="0 0 0 0 0.6  0 0 0 0 0.15  0 0 0 0 0.55  1.1 0 0 0 -0.5" result="dk"/>
<feColorMatrix in="lo" type="matrix" values="0 0 0 0 1  0 0 0 0 0.92  0 0 0 0 0.98  0 0.77 0 0 -0.36" result="lt"/>
<feMerge result="m"><feMergeNode in="c"/><feMergeNode in="dk"/><feMergeNode in="lt"/></feMerge>
<feComposite in="m" in2="SourceGraphic" operator="in" result="t"/>
<feGaussianBlur in="t" stdDeviation="0.45"/>
</filter>
<filter id="sec2" x="-2%" y="-2%" width="104%" height="104%" color-interpolation-filters="sRGB">
<feTurbulence type="fractalNoise" baseFrequency="0.55" numOctaves="2" seed="5" result="n"/>
<feColorMatrix in="n" type="matrix" values="-0.174 0 0 0 0.987  -0.459 0 0 0 0.932  -0.213 0 0 0 0.973  0 0 0 0 1" result="c"/>
<feTurbulence type="fractalNoise" baseFrequency="0.14" numOctaves="2" seed="45" result="lo"/>
<feColorMatrix in="lo" type="matrix" values="0 0 0 0 0.6  0 0 0 0 0.15  0 0 0 0 0.55  1.1 0 0 0 -0.5" result="dk"/>
<feColorMatrix in="lo" type="matrix" values="0 0 0 0 1  0 0 0 0 0.92  0 0 0 0 0.98  0 0.77 0 0 -0.36" result="lt"/>
<feMerge result="m"><feMergeNode in="c"/><feMergeNode in="dk"/><feMergeNode in="lt"/></feMerge>
<feComposite in="m" in2="SourceGraphic" operator="in" result="t"/>
<feGaussianBlur in="t" stdDeviation="0.45"/>
</filter>
<filter id="sec3" x="-2%" y="-2%" width="104%" height="104%" color-interpolation-filters="sRGB">
<feTurbulence type="fractalNoise" baseFrequency="0.55" numOctaves="2" seed="7" result="n"/>
<feColorMatrix in="n" type="matrix" values="-0.280 0 0 0 0.952  -0.504 0 0 0 0.719  -0.291 0 0 0 0.914  0 0 0 0 1" result="c"/>
<feTurbulence type="fractalNoise" baseFrequency="0.14" numOctaves="2" seed="47" result="lo"/>
<feColorMatrix in="lo" type="matrix" values="0 0 0 0 0.6  0 0 0 0 0.15  0 0 0 0 0.55  1.1 0 0 0 -0.5" result="dk"/>
<feColorMatrix in="lo" type="matrix" values="0 0 0 0 1  0 0 0 0 0.92  0 0 0 0 0.98  0 0.77 0 0 -0.36" result="lt"/>
<feMerge result="m"><feMergeNode in="c"/><feMergeNode in="dk"/><feMergeNode in="lt"/></feMerge>
<feComposite in="m" in2="SourceGraphic" operator="in" result="t"/>
<feGaussianBlur in="t" stdDeviation="0.45"/>
</filter>
<filter id="sec4" x="-2%" y="-2%" width="104%" height="104%" color-interpolation-filters="sRGB">
<feTurbulence type="fractalNoise" baseFrequency="0.55" numOctaves="2" seed="8" result="n"/>
<feColorMatrix in="n" type="matrix" values="-0.258 0 0 0 0.956  -0.482 0 0 0 0.755  -0.280 0 0 0 0.920  0 0 0 0 1" result="c"/>
<feTurbulence type="fractalNoise" baseFrequency="0.14" numOctaves="2" seed="48" result="lo"/>
<feColorMatrix in="lo" type="matrix" values="0 0 0 0 0.6  0 0 0 0 0.15  0 0 0 0 0.55  1.1 0 0 0 -0.5" result="dk"/>
<feColorMatrix in="lo" type="matrix" values="0 0 0 0 1  0 0 0 0 0.92  0 0 0 0 0.98  0 0.77 0 0 -0.36" result="lt"/>
<feMerge result="m"><feMergeNode in="c"/><feMergeNode in="dk"/><feMergeNode in="lt"/></feMerge>
<feComposite in="m" in2="SourceGraphic" operator="in" result="t"/>
<feGaussianBlur in="t" stdDeviation="0.45"/>
</filter>
</defs>
<rect x="20.4" y="231.2" width="61.6" height="46.3" fill="#f6f4f6"/>
<path d="M22.6 254.6 C22.4 253.5 23.4 251.3 23.8 250.0 C24.3 248.8 25.1 245.8 25.9 244.7 C26.7 243.6 29.1 242.0 30.1 241.2 C31.1 240.4 32.6 238.8 33.7 238.2 C34.8 237.6 37.6 236.9 38.9 236.5 C40.3 236.1 42.8 235.1 44.2 234.9 C45.6 234.7 48.8 234.7 50.3 234.6 C51.8 234.4 54.9 233.7 56.1 233.6 C57.3 233.5 58.6 233.3 59.6 233.4 C60.5 233.5 62.7 233.9 63.9 234.2 C65.1 234.5 67.7 235.6 68.9 236.1 C70.0 236.6 72.2 237.5 73.1 238.2 C74.0 238.9 75.6 240.6 76.3 241.6 C77.1 242.6 78.6 244.9 79.0 246.1 C79.4 247.3 79.2 249.8 79.3 250.9 C79.4 252.0 79.9 254.1 79.7 255.2 C79.5 256.3 77.9 258.7 77.4 259.6 C76.9 260.6 76.3 262.4 75.7 263.1 C75.1 263.8 73.2 264.6 72.2 265.2 C71.3 265.9 69.2 267.8 67.9 268.4 C66.6 269.0 63.4 269.4 62.1 269.7 C60.8 270.1 58.6 270.8 57.4 271.0 C56.2 271.2 53.9 271.1 52.6 271.2 C51.3 271.3 48.3 271.9 46.9 271.7 C45.5 271.5 42.7 270.4 41.3 270.0 C40.0 269.6 37.6 269.0 36.4 268.4 C35.2 267.8 32.9 265.9 31.9 265.1 C30.9 264.4 29.3 263.3 28.5 262.5 C27.7 261.7 26.2 259.5 25.5 258.5 C24.7 257.6 22.8 255.7 22.6 254.6 Z" fill="#000" filter="url(#sec1)"/>
<path d="M22.6 254.6 C22.4 253.5 23.4 251.3 23.8 250.0 C24.3 248.8 25.1 245.8 25.9 244.7 C26.7 243.6 29.1 242.0 30.1 241.2 C31.1 240.4 32.6 238.8 33.7 238.2 C34.8 237.6 37.6 236.9 38.9 236.5 C40.3 236.1 42.8 235.1 44.2 234.9 C45.6 234.7 48.8 234.7 50.3 234.6 C51.8 234.4 54.9 233.7 56.1 233.6 C57.3 233.5 58.6 233.3 59.6 233.4 C60.5 233.5 62.7 233.9 63.9 234.2 C65.1 234.5 67.7 235.6 68.9 236.1 C70.0 236.6 72.2 237.5 73.1 238.2 C74.0 238.9 75.6 240.6 76.3 241.6 C77.1 242.6 78.6 244.9 79.0 246.1 C79.4 247.3 79.2 249.8 79.3 250.9 C79.4 252.0 79.9 254.1 79.7 255.2 C79.5 256.3 77.9 258.7 77.4 259.6 C76.9 260.6 76.3 262.4 75.7 263.1 C75.1 263.8 73.2 264.6 72.2 265.2 C71.3 265.9 69.2 267.8 67.9 268.4 C66.6 269.0 63.4 269.4 62.1 269.7 C60.8 270.1 58.6 270.8 57.4 271.0 C56.2 271.2 53.9 271.1 52.6 271.2 C51.3 271.3 48.3 271.9 46.9 271.7 C45.5 271.5 42.7 270.4 41.3 270.0 C40.0 269.6 37.6 269.0 36.4 268.4 C35.2 267.8 32.9 265.9 31.9 265.1 C30.9 264.4 29.3 263.3 28.5 262.5 C27.7 261.7 26.2 259.5 25.5 258.5 C24.7 257.6 22.8 255.7 22.6 254.6 Z" fill="none" stroke="#c58cc0" stroke-width="0.5" opacity="0.6"/>
<rect x="83.4" y="231.2" width="61.6" height="46.3" fill="#f6f4f6"/>
<path d="M87.9 248.7 C88.0 248.0 88.9 246.7 89.1 245.9 C89.2 245.1 88.9 242.8 89.2 242.1 C89.5 241.4 90.9 240.4 91.7 240.0 C92.4 239.6 94.0 239.1 95.1 238.8 C96.2 238.5 99.4 238.1 100.7 237.8 C102.0 237.4 104.3 236.5 105.6 236.2 C106.9 235.9 109.7 235.5 111.0 235.3 C112.3 235.2 115.0 235.0 116.1 234.9 C117.2 234.8 118.7 234.8 119.5 234.7 C120.3 234.6 122.0 234.1 122.7 234.2 C123.4 234.3 124.7 234.8 125.4 235.2 C126.0 235.5 127.2 236.3 127.9 236.9 C128.6 237.5 130.3 239.2 131.1 240.0 C131.9 240.8 133.7 242.7 134.5 243.4 C135.3 244.1 136.7 245.4 137.3 245.9 C138.0 246.4 139.1 246.9 139.7 247.4 C140.3 247.9 141.4 249.2 141.8 249.7 C142.3 250.3 143.1 251.5 143.0 252.0 C142.9 252.5 141.7 253.5 141.3 254.0 C140.9 254.6 140.4 256.0 139.7 256.6 C139.0 257.2 136.3 258.0 135.3 258.7 C134.3 259.3 132.8 261.1 131.9 261.8 C131.0 262.5 128.9 263.6 127.9 264.3 C126.9 264.9 125.1 266.5 124.0 267.1 C122.9 267.7 120.4 268.7 119.3 269.1 C118.1 269.5 116.0 270.1 114.8 270.3 C113.6 270.5 110.9 270.6 109.6 270.7 C108.3 270.8 105.5 271.2 104.3 271.0 C103.1 270.8 101.0 269.5 100.1 269.2 C99.1 268.9 97.3 268.9 96.4 268.4 C95.5 267.9 94.0 266.0 93.3 265.4 C92.5 264.7 91.0 263.8 90.5 263.1 C90.0 262.4 89.5 260.7 89.2 259.7 C88.9 258.7 88.0 256.2 87.9 255.2 C87.8 254.2 88.1 252.4 88.1 251.6 C88.1 250.8 87.8 249.4 87.9 248.7 Z" fill="#000" filter="url(#sec2)"/>
<path d="M87.9 248.7 C88.0 248.0 88.9 246.7 89.1 245.9 C89.2 245.1 88.9 242.8 89.2 242.1 C89.5 241.4 90.9 240.4 91.7 240.0 C92.4 239.6 94.0 239.1 95.1 238.8 C96.2 238.5 99.4 238.1 100.7 237.8 C102.0 237.4 104.3 236.5 105.6 236.2 C106.9 235.9 109.7 235.5 111.0 235.3 C112.3 235.2 115.0 235.0 116.1 234.9 C117.2 234.8 118.7 234.8 119.5 234.7 C120.3 234.6 122.0 234.1 122.7 234.2 C123.4 234.3 124.7 234.8 125.4 235.2 C126.0 235.5 127.2 236.3 127.9 236.9 C128.6 237.5 130.3 239.2 131.1 240.0 C131.9 240.8 133.7 242.7 134.5 243.4 C135.3 244.1 136.7 245.4 137.3 245.9 C138.0 246.4 139.1 246.9 139.7 247.4 C140.3 247.9 141.4 249.2 141.8 249.7 C142.3 250.3 143.1 251.5 143.0 252.0 C142.9 252.5 141.7 253.5 141.3 254.0 C140.9 254.6 140.4 256.0 139.7 256.6 C139.0 257.2 136.3 258.0 135.3 258.7 C134.3 259.3 132.8 261.1 131.9 261.8 C131.0 262.5 128.9 263.6 127.9 264.3 C126.9 264.9 125.1 266.5 124.0 267.1 C122.9 267.7 120.4 268.7 119.3 269.1 C118.1 269.5 116.0 270.1 114.8 270.3 C113.6 270.5 110.9 270.6 109.6 270.7 C108.3 270.8 105.5 271.2 104.3 271.0 C103.1 270.8 101.0 269.5 100.1 269.2 C99.1 268.9 97.3 268.9 96.4 268.4 C95.5 267.9 94.0 266.0 93.3 265.4 C92.5 264.7 91.0 263.8 90.5 263.1 C90.0 262.4 89.5 260.7 89.2 259.7 C88.9 258.7 88.0 256.2 87.9 255.2 C87.8 254.2 88.1 252.4 88.1 251.6 C88.1 250.8 87.8 249.4 87.9 248.7 Z" fill="none" stroke="#c795c6" stroke-width="0.5" opacity="0.6"/>
<rect x="146.9" y="231.2" width="61.6" height="46.3" fill="#f6f4f6"/>
<path d="M148.9 255.2 C148.7 254.4 149.7 252.8 150.0 252.0 C150.4 251.2 151.0 249.5 151.6 248.7 C152.2 247.9 153.9 246.3 154.7 245.5 C155.6 244.7 157.1 242.9 158.1 242.1 C159.1 241.3 161.7 240.0 162.8 239.5 C164.0 238.9 166.1 237.9 167.3 237.5 C168.5 237.1 170.8 236.8 172.2 236.5 C173.5 236.1 176.5 235.2 177.8 234.9 C179.1 234.6 181.1 234.4 182.2 234.3 C183.4 234.2 185.9 234.1 187.0 234.2 C188.1 234.3 190.4 234.9 191.3 235.2 C192.3 235.4 194.1 235.8 194.9 236.2 C195.7 236.6 197.1 237.9 197.8 238.5 C198.4 239.1 199.6 240.2 200.1 240.8 C200.6 241.4 201.3 242.3 201.6 242.9 C202.0 243.5 202.6 245.5 202.9 245.6 C203.2 245.7 203.7 244.4 203.9 243.9 C204.1 243.4 204.5 242.0 204.7 241.6 C204.9 241.2 205.2 241.0 205.4 240.7 C205.5 240.5 205.9 239.4 206.0 239.5 C206.1 239.6 206.4 241.1 206.5 241.8 C206.6 242.4 206.7 243.8 206.7 244.7 C206.7 245.6 206.4 247.7 206.3 248.7 C206.1 249.7 205.8 251.7 205.4 252.6 C205.0 253.5 203.7 255.2 203.2 256.2 C202.7 257.2 202.1 259.6 201.4 260.5 C200.7 261.4 198.8 262.4 197.8 263.1 C196.8 263.7 194.7 265.1 193.6 265.7 C192.5 266.3 190.3 267.5 189.2 268.0 C188.0 268.5 185.6 269.3 184.4 269.7 C183.2 270.1 181.1 271.0 180.0 271.3 C178.8 271.7 176.2 272.0 175.2 272.3 C174.2 272.6 172.6 273.3 171.8 273.5 C171.0 273.8 169.1 274.4 168.6 274.3 C168.1 274.2 167.9 273.4 167.7 273.0 C167.4 272.6 167.3 271.5 166.8 271.0 C166.3 270.5 164.3 269.2 163.4 268.7 C162.5 268.2 160.3 267.7 159.4 267.1 C158.5 266.5 156.7 264.9 155.9 264.2 C155.0 263.6 153.5 262.5 152.9 261.8 C152.3 261.1 151.8 259.3 151.3 258.4 C150.8 257.6 149.1 256.0 148.9 255.2 Z" fill="#000" filter="url(#sec3)"/>
<path d="M148.9 255.2 C148.7 254.4 149.7 252.8 150.0 252.0 C150.4 251.2 151.0 249.5 151.6 248.7 C152.2 247.9 153.9 246.3 154.7 245.5 C155.6 244.7 157.1 242.9 158.1 242.1 C159.1 241.3 161.7 240.0 162.8 239.5 C164.0 238.9 166.1 237.9 167.3 237.5 C168.5 237.1 170.8 236.8 172.2 236.5 C173.5 236.1 176.5 235.2 177.8 234.9 C179.1 234.6 181.1 234.4 182.2 234.3 C183.4 234.2 185.9 234.1 187.0 234.2 C188.1 234.3 190.4 234.9 191.3 235.2 C192.3 235.4 194.1 235.8 194.9 236.2 C195.7 236.6 197.1 237.9 197.8 238.5 C198.4 239.1 199.6 240.2 200.1 240.8 C200.6 241.4 201.3 242.3 201.6 242.9 C202.0 243.5 202.6 245.5 202.9 245.6 C203.2 245.7 203.7 244.4 203.9 243.9 C204.1 243.4 204.5 242.0 204.7 241.6 C204.9 241.2 205.2 241.0 205.4 240.7 C205.5 240.5 205.9 239.4 206.0 239.5 C206.1 239.6 206.4 241.1 206.5 241.8 C206.6 242.4 206.7 243.8 206.7 244.7 C206.7 245.6 206.4 247.7 206.3 248.7 C206.1 249.7 205.8 251.7 205.4 252.6 C205.0 253.5 203.7 255.2 203.2 256.2 C202.7 257.2 202.1 259.6 201.4 260.5 C200.7 261.4 198.8 262.4 197.8 263.1 C196.8 263.7 194.7 265.1 193.6 265.7 C192.5 266.3 190.3 267.5 189.2 268.0 C188.0 268.5 185.6 269.3 184.4 269.7 C183.2 270.1 181.1 271.0 180.0 271.3 C178.8 271.7 176.2 272.0 175.2 272.3 C174.2 272.6 172.6 273.3 171.8 273.5 C171.0 273.8 169.1 274.4 168.6 274.3 C168.1 274.2 167.9 273.4 167.7 273.0 C167.4 272.6 167.3 271.5 166.8 271.0 C166.3 270.5 164.3 269.2 163.4 268.7 C162.5 268.2 160.3 267.7 159.4 267.1 C158.5 266.5 156.7 264.9 155.9 264.2 C155.0 263.6 153.5 262.5 152.9 261.8 C152.3 261.1 151.8 259.3 151.3 258.4 C150.8 257.6 149.1 256.0 148.9 255.2 Z" fill="none" stroke="#b465b0" stroke-width="0.5" opacity="0.6"/>
<rect x="210.3" y="231.2" width="61.6" height="46.3" fill="#f6f4f6"/>
<path d="M212.6 261.8 C212.6 261.2 213.1 259.5 213.4 258.9 C213.6 258.2 214.1 257.3 214.6 256.6 C215.1 255.9 216.5 253.8 217.1 253.0 C217.8 252.2 219.1 250.7 219.8 250.0 C220.5 249.3 221.9 247.9 222.8 247.3 C223.6 246.6 225.4 245.2 226.4 244.7 C227.4 244.2 229.7 243.5 230.6 243.0 C231.6 242.5 233.2 241.3 234.2 240.8 C235.2 240.3 237.4 239.6 238.4 239.3 C239.3 239.0 241.2 238.4 242.1 238.2 C243.0 238.0 244.9 237.8 245.9 237.7 C246.8 237.6 249.0 237.8 249.6 237.5 C250.2 237.2 250.2 236.0 250.4 235.6 C250.7 235.2 251.5 234.6 251.8 234.4 C252.1 234.2 252.4 234.4 252.6 234.3 C252.9 234.2 253.6 233.5 253.9 233.6 C254.2 233.7 254.7 235.1 254.8 235.5 C255.0 235.9 255.1 236.6 255.2 236.9 C255.3 237.2 255.8 237.7 255.9 238.1 C256.1 238.4 255.9 239.3 256.2 239.7 C256.5 240.1 257.7 240.7 258.2 241.0 C258.7 241.3 259.9 241.5 260.5 242.1 C261.1 242.7 262.6 244.9 263.3 245.7 C263.9 246.5 265.1 248.0 265.7 248.7 C266.3 249.4 267.5 250.8 268.0 251.6 C268.5 252.4 269.4 254.5 269.7 255.2 C270.0 255.9 270.0 256.8 270.1 257.3 C270.2 257.8 270.6 258.8 270.3 259.2 C270.0 259.6 268.6 260.4 268.0 260.9 C267.4 261.4 266.5 262.7 265.7 263.1 C264.9 263.5 262.8 264.0 261.8 264.4 C260.8 264.8 259.0 266.0 257.9 266.4 C256.8 266.8 254.3 267.4 253.0 267.7 C251.7 267.9 248.6 268.2 247.4 268.4 C246.2 268.6 244.5 269.2 243.5 269.5 C242.5 269.9 240.5 270.8 239.5 271.0 C238.5 271.2 236.4 271.3 235.2 271.4 C234.1 271.5 231.5 271.8 230.3 271.7 C229.1 271.6 227.2 270.7 226.0 270.3 C224.9 269.9 222.1 268.9 221.1 268.4 C220.1 267.9 218.7 267.1 217.9 266.7 C217.0 266.3 215.1 265.5 214.6 265.1 C214.1 264.7 213.9 263.8 213.7 263.4 C213.4 263.0 212.6 262.4 212.6 261.8 Z" fill="#000" filter="url(#sec4)"/>
<path d="M212.6 261.8 C212.6 261.2 213.1 259.5 213.4 258.9 C213.6 258.2 214.1 257.3 214.6 256.6 C215.1 255.9 216.5 253.8 217.1 253.0 C217.8 252.2 219.1 250.7 219.8 250.0 C220.5 249.3 221.9 247.9 222.8 247.3 C223.6 246.6 225.4 245.2 226.4 244.7 C227.4 244.2 229.7 243.5 230.6 243.0 C231.6 242.5 233.2 241.3 234.2 240.8 C235.2 240.3 237.4 239.6 238.4 239.3 C239.3 239.0 241.2 238.4 242.1 238.2 C243.0 238.0 244.9 237.8 245.9 237.7 C246.8 237.6 249.0 237.8 249.6 237.5 C250.2 237.2 250.2 236.0 250.4 235.6 C250.7 235.2 251.5 234.6 251.8 234.4 C252.1 234.2 252.4 234.4 252.6 234.3 C252.9 234.2 253.6 233.5 253.9 233.6 C254.2 233.7 254.7 235.1 254.8 235.5 C255.0 235.9 255.1 236.6 255.2 236.9 C255.3 237.2 255.8 237.7 255.9 238.1 C256.1 238.4 255.9 239.3 256.2 239.7 C256.5 240.1 257.7 240.7 258.2 241.0 C258.7 241.3 259.9 241.5 260.5 242.1 C261.1 242.7 262.6 244.9 263.3 245.7 C263.9 246.5 265.1 248.0 265.7 248.7 C266.3 249.4 267.5 250.8 268.0 251.6 C268.5 252.4 269.4 254.5 269.7 255.2 C270.0 255.9 270.0 256.8 270.1 257.3 C270.2 257.8 270.6 258.8 270.3 259.2 C270.0 259.6 268.6 260.4 268.0 260.9 C267.4 261.4 266.5 262.7 265.7 263.1 C264.9 263.5 262.8 264.0 261.8 264.4 C260.8 264.8 259.0 266.0 257.9 266.4 C256.8 266.8 254.3 267.4 253.0 267.7 C251.7 267.9 248.6 268.2 247.4 268.4 C246.2 268.6 244.5 269.2 243.5 269.5 C242.5 269.9 240.5 270.8 239.5 271.0 C238.5 271.2 236.4 271.3 235.2 271.4 C234.1 271.5 231.5 271.8 230.3 271.7 C229.1 271.6 227.2 270.7 226.0 270.3 C224.9 269.9 222.1 268.9 221.1 268.4 C220.1 267.9 218.7 267.1 217.9 266.7 C217.0 266.3 215.1 265.5 214.6 265.1 C214.1 264.7 213.9 263.8 213.7 263.4 C213.4 263.0 212.6 262.4 212.6 261.8 Z" fill="none" stroke="#b870b4" stroke-width="0.5" opacity="0.6"/>
<path d="M41 252 L47 244 M49 249 L53 241 M55 250 L58 243 M44 258 L49 250" fill="none" stroke="#f6f2f6" stroke-linecap="round" stroke-width="0.7" opacity="0.85"/>
<path d="M105 258 L113 241 M112 254 L119 240 M117 252 L123 240" fill="none" stroke="#f6f2f6" stroke-linecap="round" stroke-width="0.9" opacity="0.9"/>
<path d="M154.2 255.4 C160 251 168 246.5 174.8 243.2 L173 245.6 C167 249.5 160 253.6 154.2 255.4 Z" fill="#f8f4f8"/>
<path d="M162 258 L165 252 M169 259 L171 253 M176 247 L182 240 M186 246 L188 240" fill="none" stroke="#f6f2f6" stroke-linecap="round" stroke-width="0.7" opacity="0.85"/>
<path d="M192.6 259 L194 255 L195.4 259.4 Z" fill="#f8f4f8"/>
<path d="M234.2 249.6 C240 245.5 246 242.5 251.4 240.6 L250.4 242.6 C245 245.2 239.6 248 234.2 249.6 Z" fill="#f8f4f8"/>
<path d="M252.2 236 L253.4 241" fill="none" stroke="#f6f2f6" stroke-linecap="round" stroke-width="0.8"/>
<rect x="23.0" y="271.8" width="2.2" height="0.5" fill="#555"/>
<rect x="86.0" y="271.8" width="2.2" height="0.5" fill="#555"/>
<rect x="149.5" y="271.8" width="2.2" height="0.5" fill="#555"/>
<rect x="212.9" y="271.8" width="2.2" height="0.5" fill="#555"/>
<defs>
<filter id="tMag" x="0" y="0" width="100%" height="100%" color-interpolation-filters="sRGB">
<feTurbulence type="fractalNoise" baseFrequency="0.3" numOctaves="2" seed="6" result="dn"/>
<feDisplacementMap in="SourceGraphic" in2="dn" scale="2.2" xChannelSelector="R" yChannelSelector="G" result="sd"/>
<feTurbulence type="fractalNoise" baseFrequency="0.6" numOctaves="2" seed="3" result="n2"/>
<feColorMatrix in="n2" type="matrix" values="-0.902 0 0 0 1.165  -0.627 0 0 0 0.596  -0.412 0 0 0 0.837  0 0 0 0 1" result="c"/>
<feComposite in="c" in2="sd" operator="in" result="t"/>
<feGaussianBlur in="t" stdDeviation="0.4"/>
</filter>
<filter id="tMag2" x="0" y="0" width="100%" height="100%" color-interpolation-filters="sRGB">
<feTurbulence type="fractalNoise" baseFrequency="0.3" numOctaves="2" seed="11" result="dn"/>
<feDisplacementMap in="SourceGraphic" in2="dn" scale="2.2" xChannelSelector="R" yChannelSelector="G" result="sd"/>
<feTurbulence type="fractalNoise" baseFrequency="0.6" numOctaves="2" seed="8" result="n2"/>
<feColorMatrix in="n2" type="matrix" values="-0.902 0 0 0 1.165  -0.627 0 0 0 0.596  -0.412 0 0 0 0.837  0 0 0 0 1" result="c"/>
<feComposite in="c" in2="sd" operator="in" result="t"/>
<feGaussianBlur in="t" stdDeviation="0.4"/>
</filter>
<filter id="tDns" x="0" y="0" width="100%" height="100%" color-interpolation-filters="sRGB">
<feTurbulence type="fractalNoise" baseFrequency="0.3" numOctaves="2" seed="8" result="dn"/>
<feDisplacementMap in="SourceGraphic" in2="dn" scale="2.2" xChannelSelector="R" yChannelSelector="G" result="sd"/>
<feTurbulence type="fractalNoise" baseFrequency="0.7" numOctaves="2" seed="5" result="n2"/>
<feColorMatrix in="n2" type="matrix" values="-0.963 0 0 0 1.219  -0.838 0 0 0 0.737  -0.499 0 0 0 0.924  0 0 0 0 1" result="c"/>
<feComposite in="c" in2="sd" operator="in" result="t"/>
<feGaussianBlur in="t" stdDeviation="0.35"/>
</filter>
<filter id="tPnk" x="0" y="0" width="100%" height="100%" color-interpolation-filters="sRGB">
<feTurbulence type="fractalNoise" baseFrequency="0.3" numOctaves="2" seed="18" result="dn"/>
<feDisplacementMap in="SourceGraphic" in2="dn" scale="2.4" xChannelSelector="R" yChannelSelector="G" result="sd"/>
<feTurbulence type="fractalNoise" baseFrequency="0.7" numOctaves="2" seed="15" result="n2"/>
<feColorMatrix in="n2" type="matrix" values="-0.891 0 0 0 1.183  -0.731 0 0 0 0.683  -0.410 0 0 0 0.868  0 0 0 0 1" result="c"/>
<feComposite in="c" in2="sd" operator="in" result="t"/>
<feGaussianBlur in="t" stdDeviation="0.4"/>
</filter>
<filter id="tLil" x="0" y="0" width="100%" height="100%" color-interpolation-filters="sRGB">
<feTurbulence type="fractalNoise" baseFrequency="0.3" numOctaves="2" seed="10" result="dn"/>
<feDisplacementMap in="SourceGraphic" in2="dn" scale="2.2" xChannelSelector="R" yChannelSelector="G" result="sd"/>
<feTurbulence type="fractalNoise" baseFrequency="0.6" numOctaves="2" seed="7" result="n2"/>
<feColorMatrix in="n2" type="matrix" values="-0.902 0 0 0 1.149  -0.588 0 0 0 0.600  -0.392 0 0 0 0.847  0 0 0 0 1" result="c"/>
<feComposite in="c" in2="sd" operator="in" result="t"/>
<feGaussianBlur in="t" stdDeviation="0.4"/>
</filter>
</defs>
<rect x="20.4" y="277.9" width="61.6" height="45.5" fill="#f4f2f4"/>
<clipPath id="ec01"><rect x="20.4" y="277.9" width="61.6" height="45.5"/></clipPath>
<g clip-path="url(#ec01)"><g filter="url(#tMag)"><rect x="20.4" y="277.9" width="61.6" height="45.6" fill="none"/><g fill="none" stroke="#000" stroke-linecap="round"><path stroke-width="1.0" d="M81.3 280.7Q81.5 280.5 81.5 280.2M82.0 293.0Q81.1 292.8 80.1 292.6M81.6 301.5Q83.2 303.8 83.5 306.5M79.3 292.1Q76.8 292.7 74.4 293.4M54.9 322.8Q54.8 324.1 55.3 325.4M47.4 283.6Q46.9 283.3 46.9 282.7M52.6 287.2Q52.8 286.1 52.9 285.0M47.4 283.6Q44.7 286.3 43.0 289.8M33.3 317.6Q34.9 315.7 37.4 315.7M37.4 315.7Q38.7 318.1 41.5 318.3M42.4 303.1Q42.2 304.2 41.3 304.9M41.5 307.4Q44.8 307.8 47.9 306.6M46.1 301.2Q43.9 300.0 43.7 297.5M46.1 301.2Q45.8 301.4 45.9 301.8M43.7 297.5Q41.6 297.0 39.7 298.0M72.7 304.3Q70.8 306.4 70.5 309.3M67.0 308.8Q66.9 307.9 66.3 307.2M67.7 316.8Q68.5 316.9 69.4 316.8M62.0 305.4Q64.5 305.6 66.3 307.2M67.4 287.4Q64.3 287.8 61.7 289.7M62.6 294.8Q62.6 294.9 62.4 294.9M34.5 302.7Q33.6 300.0 33.1 297.2M19.1 285.2Q17.7 287.9 15.3 289.9M56.7 291.3Q57.2 293.1 56.5 295.0M18.6 277.2Q21.4 279.6 21.1 283.3M21.1 283.3Q21.1 284.0 20.9 284.7M33.0 286.0Q34.8 287.5 35.0 289.7M26.7 284.3Q28.1 286.6 30.8 286.6"/><path stroke-width="2.0" d="M81.5 280.2Q86.6 279.0 88.4 274.1M83.3 299.4Q85.4 300.1 87.7 300.4M82.0 293.0Q82.8 293.8 83.2 294.9M19.8 306.1Q17.9 307.7 15.6 308.6M17.9 318.5Q21.7 318.9 25.0 320.8M58.4 271.0Q57.2 273.4 57.5 276.2M44.3 275.6Q45.8 277.8 47.8 279.4M55.3 325.4Q53.8 328.3 50.6 329.0M28.0 306.2Q31.0 307.4 32.2 310.3M34.4 324.3Q36.0 325.3 37.8 324.9M81.5 308.5Q80.4 311.7 80.4 315.1M76.3 300.8Q75.7 302.4 74.8 303.8M60.7 281.8Q60.5 278.7 58.2 276.6M60.7 281.8Q59.4 282.8 58.7 284.4M52.9 285.0Q53.1 284.7 53.3 284.5M44.6 290.9Q43.8 290.4 43.0 289.8M46.9 282.7Q44.5 280.2 41.1 280.9M43.0 289.8Q43.0 289.8 42.9 289.8M42.9 289.8Q39.1 286.7 39.6 281.8M32.2 310.3Q34.1 309.9 35.8 309.2M28.6 304.2Q31.6 303.6 34.5 302.7M35.1 303.0Q38.6 302.8 41.3 304.9M71.6 310.4Q73.6 309.4 75.7 310.2M75.7 310.2Q75.9 312.6 76.4 315.1M80.4 315.1Q78.9 315.1 77.6 316.0M77.6 316.0Q77.2 315.2 76.4 315.1M69.2 303.0Q71.3 302.7 72.7 304.3M69.2 303.0Q68.6 305.7 66.3 307.2M71.6 310.4Q71.2 309.8 70.5 309.3M56.7 291.3Q55.5 289.8 53.5 289.6M53.5 289.6Q53.1 288.4 52.6 287.2M62.0 305.4Q63.3 303.6 63.1 301.5M44.6 290.9Q45.5 291.7 45.6 292.8M45.6 292.8Q46.4 293.4 47.3 293.7M38.1 295.6Q39.7 293.8 39.0 291.5M36.4 281.4Q34.5 278.4 36.0 275.1M65.3 281.4Q65.7 279.4 67.3 278.1M77.0 321.7Q75.6 322.9 73.8 323.1M77.0 321.7Q79.2 321.6 80.7 323.1M45.5 313.5Q45.8 313.4 46.2 313.4M58.0 304.3Q60.1 304.3 61.6 305.6M58.9 296.6Q57.9 295.5 56.5 295.0M56.5 295.0Q55.0 295.7 53.4 296.3M53.4 296.3Q52.8 297.7 52.4 299.1M51.7 293.2Q51.7 295.2 53.4 296.3M34.7 282.3Q31.6 280.2 28.5 278.2M27.9 278.4Q26.8 277.9 25.6 278.2M25.2 299.4Q24.1 297.9 23.7 296.1M18.5 294.3Q19.8 293.9 21.3 294.1M39.0 291.5Q37.0 290.7 35.0 289.7M34.7 282.3Q33.1 283.8 33.0 286.0M22.4 285.7Q24.8 285.7 26.7 284.3"/><path stroke-width="1.5" d="M79.2 270.6Q81.2 275.2 81.5 280.2M83.3 299.4Q82.1 300.2 81.6 301.5M18.5 315.1Q16.2 312.2 15.6 308.6M18.5 315.1Q22.5 315.5 24.8 312.3M24.7 308.2Q22.1 307.5 19.8 306.1M25.0 320.8Q26.0 323.9 27.2 326.9M25.0 320.8Q26.5 318.1 28.6 315.6M80.1 292.6Q79.7 292.4 79.3 292.1M52.9 272.1Q53.7 274.5 55.2 276.6M79.3 292.1Q76.1 288.1 76.7 283.1M55.3 325.4Q57.4 326.6 59.2 328.3M65.8 322.1Q64.2 322.2 63.0 323.3M65.0 315.0Q61.5 316.1 59.6 319.2M59.6 319.2Q60.7 321.7 63.0 323.3M56.9 319.1Q58.2 319.5 59.6 319.2M28.0 306.2Q25.9 306.4 24.7 308.2M29.9 315.4Q32.1 313.3 32.2 310.3M29.9 315.4Q31.2 317.2 33.3 317.6M82.5 308.0Q82.0 308.2 81.5 308.5M82.5 308.0Q85.2 309.3 85.8 312.3M85.8 312.3Q84.5 314.3 83.4 316.4M83.4 316.4Q82.2 315.1 80.4 315.1M83.5 306.5Q82.6 307.0 82.5 308.0M85.5 319.8Q85.1 317.7 83.4 316.4M57.5 276.2Q57.8 276.5 58.2 276.6M58.7 284.4Q56.0 284.1 53.3 284.5M52.6 287.2Q48.2 288.2 44.6 290.9M41.1 280.9Q40.1 281.0 39.6 281.8M28.0 306.2Q28.0 305.1 28.6 304.2M26.4 299.9Q25.8 299.6 25.2 299.4M38.0 310.3Q36.7 310.3 35.8 309.2M34.5 302.7Q34.8 302.8 35.1 303.0M38.0 310.3Q39.1 309.7 40.4 309.7M45.5 313.5Q42.8 315.3 41.5 318.3M54.9 322.8Q51.6 322.2 48.4 321.4M48.4 321.4Q47.6 321.7 47.0 322.5M41.3 304.9Q41.3 306.2 41.5 307.4M48.1 305.5Q47.8 306.0 47.9 306.6M39.4 299.6Q39.6 298.8 39.7 298.0M39.4 299.6Q37.9 302.1 35.1 303.0M35.1 303.0Q35.1 303.0 35.1 303.0M71.6 310.4Q72.1 313.3 70.5 315.8M70.5 315.8Q73.4 315.0 76.4 315.1M70.5 309.3Q68.8 308.9 67.0 308.8M72.5 297.1Q70.8 298.1 68.9 297.4M67.8 300.2Q67.7 302.0 69.2 303.0M74.8 303.8Q73.8 304.4 72.7 304.3M65.0 315.0Q64.6 314.6 64.6 314.0M69.4 316.8Q69.9 316.2 70.5 315.8M62.0 305.4Q61.9 305.6 61.6 305.6M64.6 314.0Q62.3 312.1 59.6 310.8M67.7 295.7Q65.1 295.6 62.6 294.8M67.7 295.7Q66.9 291.7 69.4 288.5M62.6 294.8Q62.8 292.1 61.6 289.8M69.4 288.5Q69.3 288.3 69.3 288.2M67.8 300.2Q65.8 301.9 63.2 301.4M47.3 293.7Q49.5 294.0 51.7 293.2M45.6 292.8Q45.0 295.3 43.7 297.5M47.3 293.7Q47.5 296.6 49.5 298.8M39.7 298.0Q38.9 296.8 38.1 295.6M38.1 295.6Q35.2 295.1 33.1 297.2M14.6 282.0Q17.7 282.3 19.1 285.2M17.7 299.9Q19.1 297.2 18.5 294.3M68.0 277.8Q67.9 274.7 67.4 271.7M58.2 276.6Q60.7 276.5 62.8 275.2M80.7 323.1Q79.9 326.5 81.9 329.3M77.6 316.0Q77.0 318.8 77.0 321.7M55.0 315.4Q56.3 313.8 56.0 311.8M48.4 321.4Q49.4 318.8 49.2 316.1M47.9 306.6Q47.9 308.0 48.7 309.2M53.0 303.4Q54.1 304.1 54.8 305.3M53.0 303.4Q51.0 305.7 48.1 305.5M58.9 296.6Q58.9 298.0 58.4 299.3M57.7 299.9Q58.1 299.6 58.4 299.3M53.0 299.9Q52.6 299.6 52.4 299.1M62.4 294.9Q60.8 295.9 58.9 296.6M63.1 301.5Q61.2 299.6 58.4 299.3M17.1 276.8Q17.8 277.2 18.6 277.2M18.6 277.2Q20.9 277.1 22.5 275.6M22.5 275.6Q23.5 277.6 25.6 278.2M25.6 278.2Q22.8 280.3 21.1 283.3M19.1 285.2Q20.0 285.1 20.9 284.7M35.0 289.7Q32.3 291.3 31.2 294.3M23.7 296.1Q26.0 294.1 28.7 292.7M31.2 294.3Q30.4 292.9 28.7 292.7M23.6 289.4Q25.9 289.1 27.9 290.2M30.8 286.6Q30.0 288.9 27.9 290.2M20.9 284.7Q21.9 284.8 22.4 285.7"/><path stroke-width="2.5" d="M86.9 288.6Q83.4 289.7 82.0 293.0M80.1 292.6Q76.8 296.0 76.7 300.7M81.6 301.5Q79.2 301.0 76.7 300.7M24.8 312.3Q25.0 310.3 24.7 308.2M17.9 318.5Q18.1 316.8 18.5 315.1M24.8 312.3Q27.2 313.4 28.6 315.6M83.5 306.5Q84.4 306.1 85.3 306.2M47.7 273.7Q49.9 276.5 52.9 278.4M47.8 279.4Q50.5 279.9 52.9 278.4M55.2 276.6Q53.7 277.0 53.0 278.4M54.9 322.8Q55.4 320.7 56.9 319.1M34.4 324.3Q31.4 325.4 28.9 327.5M37.8 324.9Q39.0 326.2 39.8 327.9M35.8 309.2Q35.7 306.1 35.1 303.0M40.4 309.7Q43.5 310.8 45.5 313.5M47.0 322.5Q43.9 322.9 41.7 320.5M41.5 318.3Q42.0 319.4 41.7 320.5M42.4 303.1Q44.3 302.9 45.9 301.8M40.4 309.7Q41.2 308.7 41.5 307.4M77.3 308.1Q76.0 308.7 75.7 310.2M61.6 305.6Q61.3 308.5 59.6 310.8M60.7 281.8Q62.9 280.9 65.3 281.4M65.3 281.4Q64.6 285.0 67.4 287.4M58.7 284.4Q59.2 287.6 61.7 289.7M76.7 283.1Q73.9 286.9 69.3 288.2M63.1 301.5Q63.2 301.4 63.2 301.4M46.1 301.2Q48.4 300.9 49.5 298.8M42.9 289.8Q41.5 291.8 39.0 291.5M33.1 297.2Q32.3 297.1 31.7 296.4M18.5 294.3Q16.8 293.9 15.6 292.8M67.3 278.1Q67.7 278.1 68.0 277.8M72.0 277.9Q70.0 277.5 68.0 277.8M69.4 316.8Q70.7 320.5 73.8 323.1M54.5 309.8Q55.8 310.4 56.0 311.8M58.0 304.3Q56.7 305.6 54.8 305.3M49.5 298.8Q50.9 299.1 52.4 299.1M36.4 281.4Q35.4 281.6 34.7 282.3M22.4 285.7Q23.8 287.3 23.6 289.4M21.3 294.1Q22.8 291.9 23.6 289.4M28.7 292.7Q29.0 291.2 27.9 290.2"/></g><g fill="#000"><circle cx="79.2" cy="270.6" r="1.6"/><circle cx="82.0" cy="293.0" r="1.6"/><circle cx="81.5" cy="280.2" r="1.4"/><circle cx="88.4" cy="274.1" r="1.4"/><circle cx="17.9" cy="318.5" r="2.0"/><circle cx="28.0" cy="306.2" r="1.7"/><circle cx="28.6" cy="304.2" r="1.7"/><circle cx="34.5" cy="302.7" r="1.2"/><circle cx="53.0" cy="303.4" r="1.9"/><circle cx="80.1" cy="292.6" r="2.1"/><circle cx="83.2" cy="294.9" r="1.5"/><circle cx="83.3" cy="299.4" r="2.1"/><circle cx="87.7" cy="300.4" r="1.5"/><circle cx="81.6" cy="301.5" r="1.9"/><circle cx="58.4" cy="271.0" r="1.9"/><circle cx="44.3" cy="275.6" r="1.2"/><circle cx="57.5" cy="276.2" r="2.1"/><circle cx="18.5" cy="315.1" r="1.0"/><circle cx="24.7" cy="308.2" r="1.7"/><circle cx="19.8" cy="306.1" r="1.1"/><circle cx="15.6" cy="308.6" r="1.5"/><circle cx="65.0" cy="315.0" r="1.3"/><circle cx="54.9" cy="322.8" r="1.4"/><circle cx="59.6" cy="319.2" r="1.6"/><circle cx="25.0" cy="320.8" r="2.0"/><circle cx="28.6" cy="315.6" r="1.9"/><circle cx="27.2" cy="326.9" r="1.2"/><circle cx="76.3" cy="300.8" r="1.6"/><circle cx="68.9" cy="297.4" r="1.9"/><circle cx="47.7" cy="273.7" r="1.5"/><circle cx="76.7" cy="283.1" r="1.0"/><circle cx="60.7" cy="281.8" r="1.5"/><circle cx="58.2" cy="276.6" r="1.2"/><circle cx="47.8" cy="279.4" r="2.0"/><circle cx="52.9" cy="278.4" r="1.9"/><circle cx="53.0" cy="278.4" r="1.8"/><circle cx="58.0" cy="304.3" r="1.8"/><circle cx="54.8" cy="305.3" r="1.4"/><circle cx="39.4" cy="299.6" r="1.0"/><circle cx="46.1" cy="301.2" r="1.1"/><circle cx="85.5" cy="319.8" r="1.4"/><circle cx="55.3" cy="325.4" r="1.0"/><circle cx="59.2" cy="328.3" r="1.8"/><circle cx="50.6" cy="329.0" r="2.0"/><circle cx="65.8" cy="322.1" r="1.4"/><circle cx="63.0" cy="323.3" r="1.6"/><circle cx="29.9" cy="315.4" r="1.4"/><circle cx="33.3" cy="317.6" r="1.2"/><circle cx="37.4" cy="315.7" r="2.0"/><circle cx="32.2" cy="310.3" r="1.4"/><circle cx="34.4" cy="324.3" r="2.0"/><circle cx="37.8" cy="324.9" r="2.1"/><circle cx="28.9" cy="327.5" r="1.5"/><circle cx="74.8" cy="303.8" r="1.7"/><circle cx="82.5" cy="308.0" r="1.9"/><circle cx="83.4" cy="316.4" r="1.7"/><circle cx="80.4" cy="315.1" r="1.3"/><circle cx="58.7" cy="284.4" r="1.2"/><circle cx="53.5" cy="289.6" r="1.4"/><circle cx="52.6" cy="287.2" r="1.2"/><circle cx="52.9" cy="285.0" r="1.6"/><circle cx="47.4" cy="283.6" r="1.1"/><circle cx="44.6" cy="290.9" r="1.8"/><circle cx="45.6" cy="292.8" r="1.9"/><circle cx="43.0" cy="289.8" r="1.3"/><circle cx="42.9" cy="289.8" r="0.9"/><circle cx="39.7" cy="298.0" r="1.3"/><circle cx="41.1" cy="280.9" r="1.7"/><circle cx="26.4" cy="299.9" r="1.8"/><circle cx="25.2" cy="299.4" r="2.1"/><circle cx="72.0" cy="277.9" r="1.8"/><circle cx="62.0" cy="305.4" r="1.9"/><circle cx="61.6" cy="305.6" r="1.3"/><circle cx="64.6" cy="314.0" r="1.6"/><circle cx="59.6" cy="310.8" r="1.2"/><circle cx="77.6" cy="316.0" r="1.1"/><circle cx="69.4" cy="316.8" r="1.7"/><circle cx="35.8" cy="309.2" r="1.0"/><circle cx="35.1" cy="303.0" r="0.9"/><circle cx="35.1" cy="303.0" r="1.9"/><circle cx="45.5" cy="313.5" r="1.2"/><circle cx="48.4" cy="321.4" r="1.1"/><circle cx="47.0" cy="322.5" r="1.1"/><circle cx="41.7" cy="320.5" r="1.4"/><circle cx="42.4" cy="303.1" r="1.2"/><circle cx="41.3" cy="304.9" r="1.8"/><circle cx="41.5" cy="307.4" r="1.2"/><circle cx="45.9" cy="301.8" r="1.2"/><circle cx="71.6" cy="310.4" r="1.5"/><circle cx="75.7" cy="310.2" r="1.4"/><circle cx="70.5" cy="315.8" r="1.4"/><circle cx="69.2" cy="303.0" r="1.1"/><circle cx="66.3" cy="307.2" r="1.1"/><circle cx="61.7" cy="289.7" r="1.9"/><circle cx="61.6" cy="289.8" r="1.4"/><circle cx="69.4" cy="288.5" r="2.0"/><circle cx="62.4" cy="294.9" r="1.0"/><circle cx="63.1" cy="301.5" r="1.4"/><circle cx="63.2" cy="301.4" r="1.8"/><circle cx="51.7" cy="293.2" r="1.7"/><circle cx="39.0" cy="291.5" r="1.6"/><circle cx="33.1" cy="297.2" r="1.3"/><circle cx="31.7" cy="296.4" r="1.5"/><circle cx="18.6" cy="277.2" r="2.0"/><circle cx="34.7" cy="282.3" r="1.8"/><circle cx="36.0" cy="275.1" r="1.1"/><circle cx="19.1" cy="285.2" r="2.0"/><circle cx="18.5" cy="294.3" r="1.0"/><circle cx="15.3" cy="289.9" r="1.3"/><circle cx="67.3" cy="278.1" r="1.5"/><circle cx="62.8" cy="275.2" r="1.2"/><circle cx="67.4" cy="271.7" r="1.5"/><circle cx="80.7" cy="323.1" r="1.5"/><circle cx="81.9" cy="329.3" r="1.4"/><circle cx="49.2" cy="316.1" r="1.0"/><circle cx="46.2" cy="313.4" r="2.1"/><circle cx="48.7" cy="309.2" r="1.4"/><circle cx="55.0" cy="315.4" r="1.3"/><circle cx="56.0" cy="311.8" r="1.4"/><circle cx="58.9" cy="296.6" r="2.0"/><circle cx="58.4" cy="299.3" r="1.8"/><circle cx="53.4" cy="296.3" r="1.3"/><circle cx="52.4" cy="299.1" r="1.1"/><circle cx="22.5" cy="275.6" r="1.1"/><circle cx="28.5" cy="278.2" r="1.9"/><circle cx="27.9" cy="278.4" r="1.5"/><circle cx="21.1" cy="283.3" r="1.4"/><circle cx="20.9" cy="284.7" r="2.0"/><circle cx="23.7" cy="296.1" r="2.1"/><circle cx="21.3" cy="294.1" r="1.7"/><circle cx="33.0" cy="286.0" r="1.6"/><circle cx="35.0" cy="289.7" r="2.0"/><circle cx="31.2" cy="294.3" r="1.1"/><circle cx="28.7" cy="292.7" r="1.0"/><circle cx="22.4" cy="285.7" r="1.8"/><circle cx="23.6" cy="289.4" r="1.8"/><circle cx="26.7" cy="284.3" r="1.6"/><circle cx="27.9" cy="290.2" r="1.0"/></g></g></g>
<rect x="83.4" y="277.9" width="61.6" height="45.5" fill="#f4f2f4"/>
<clipPath id="ec11"><rect x="83.4" y="277.9" width="61.6" height="45.5"/></clipPath>
<g clip-path="url(#ec11)"><g filter="url(#tMag2)"><rect x="83.4" y="277.9" width="61.6" height="45.6" fill="none"/><g fill="none" stroke="#000" stroke-linecap="round"><path stroke-width="1.5" d="M152.3 296.5Q149.8 298.4 146.7 297.7M142.0 295.1Q143.9 295.2 145.4 296.3M142.0 295.1Q140.4 293.1 140.7 290.5M144.2 287.4Q146.0 288.5 148.0 289.2M120.5 299.3Q119.0 295.2 115.3 292.8M117.5 290.7Q115.9 291.2 115.3 292.8M117.5 290.7Q120.8 291.4 124.2 291.7M94.9 325.1Q97.5 323.9 100.4 324.6M98.8 308.1Q101.1 306.8 103.1 305.1M103.1 305.1Q102.5 302.7 102.2 300.2M82.9 289.7Q79.4 290.0 76.5 287.8M144.2 287.4Q143.8 286.0 143.8 284.7M145.2 280.7Q144.0 282.5 143.8 284.7M102.8 312.4Q105.9 312.4 108.6 310.6M107.5 305.6Q108.7 306.4 109.4 307.7M109.4 307.7Q108.2 308.9 108.6 310.6M100.4 324.6Q100.8 323.9 101.4 323.3M105.8 323.2Q105.7 326.9 108.8 329.1M124.9 285.2Q123.9 284.8 122.8 284.2M124.9 285.2Q124.7 288.0 125.1 290.7M117.5 290.7Q117.4 288.6 117.8 286.5M96.5 279.7Q96.2 278.6 95.2 277.9M141.5 274.4Q141.1 276.5 142.3 278.2M138.8 283.9Q136.8 282.8 136.6 280.5M138.8 283.9Q137.9 287.5 134.9 289.6M142.3 278.2Q139.9 280.4 136.6 280.5M141.4 320.4Q143.8 322.2 143.9 325.2M141.4 320.4Q143.0 318.2 143.2 315.5M104.2 296.6Q107.0 296.1 108.8 298.3M104.6 290.4Q105.9 289.1 107.7 289.0M107.7 289.0Q108.8 288.9 109.8 289.3M107.5 305.6Q107.1 301.8 108.8 298.3M103.7 296.9Q104.0 296.9 104.2 296.6M115.0 302.2Q113.2 305.1 110.7 307.4M104.6 290.3Q104.6 290.4 104.6 290.4M111.1 276.1Q109.3 273.9 109.5 271.1M107.4 317.9Q107.5 319.3 107.8 320.7M102.8 312.4Q102.7 314.1 102.7 315.7M108.6 310.6Q108.6 312.7 110.1 314.1M107.8 320.7Q110.0 322.2 112.5 321.4M113.4 326.6Q111.6 324.2 112.5 321.4M89.3 277.8Q88.4 281.6 87.1 285.3M135.7 280.2Q135.8 277.6 135.9 275.0M135.7 280.2Q132.6 279.9 129.5 279.7M148.6 305.6Q146.9 303.7 145.9 301.3M145.4 308.5Q143.5 305.6 140.0 305.4M142.0 295.1Q140.3 296.1 139.2 297.7M120.7 300.5Q118.4 301.8 115.8 302.3M115.8 302.3Q118.1 305.0 117.6 308.5M117.6 308.5Q119.1 308.7 120.4 307.9M120.5 299.3Q120.4 299.9 120.7 300.5M116.3 309.7Q117.2 309.3 117.6 308.5M96.5 279.7Q95.7 280.8 95.8 282.2M87.2 286.4Q87.1 286.0 87.2 285.5M87.4 320.2Q85.5 321.6 83.2 321.3M94.9 325.1Q94.3 323.9 93.2 323.1M93.2 323.1Q91.8 323.5 90.3 323.3M80.1 318.0Q80.7 320.5 83.2 321.3M114.9 318.2Q113.1 317.0 113.2 315.0M114.9 318.2Q117.5 317.0 120.4 316.2M116.4 311.7Q119.4 312.1 120.8 314.9M114.6 319.6Q113.8 320.8 112.5 321.4M114.6 319.6Q115.0 318.9 114.9 318.2M123.4 310.1Q121.4 309.6 120.4 307.9M122.0 314.0Q121.6 314.8 120.8 314.9M126.2 326.7Q124.7 323.8 121.8 322.3M121.8 322.3Q120.6 322.2 119.9 323.2M119.9 323.2Q118.9 325.1 117.9 326.9M132.4 323.8Q130.0 326.9 126.2 326.7M114.6 319.6Q116.8 322.0 119.9 323.2M132.7 322.3Q132.5 320.3 130.9 319.0M136.8 311.8Q135.8 312.2 134.9 311.8M127.6 316.4Q128.1 317.5 128.9 318.3M130.9 319.0Q130.1 318.3 128.9 318.3M126.0 309.1Q126.5 310.2 127.6 310.6M135.7 302.7Q133.8 303.2 132.3 304.4M139.2 297.7Q137.9 297.4 136.8 298.1M133.2 294.8Q135.5 295.9 136.8 298.1M96.5 288.5Q93.6 290.9 90.1 289.6M95.7 296.4Q96.5 295.9 97.3 295.4M90.3 293.5Q89.8 291.5 90.1 289.6M104.6 290.3Q101.2 290.6 97.9 290.3M97.2 286.2Q96.4 287.2 96.5 288.5M87.2 286.4Q89.4 287.3 90.1 289.6M85.6 298.8Q87.5 300.6 88.0 303.1M88.0 303.1Q91.4 302.6 94.8 302.0M94.9 301.9Q96.4 299.3 95.7 296.4M84.3 314.6Q86.6 315.5 89.0 315.5M95.7 311.1Q93.4 309.7 91.0 311.0M88.0 303.1Q88.0 304.8 87.1 306.3M80.1 318.0Q82.0 316.0 84.3 314.6M126.9 306.3Q125.3 303.6 122.9 301.4M131.9 304.2Q129.5 301.7 128.8 298.3M122.9 301.4Q124.9 298.1 128.8 298.3M126.0 309.1Q125.8 307.5 126.9 306.3M133.2 294.8Q130.9 296.4 128.8 298.3"/><path stroke-width="2.0" d="M148.0 289.2Q146.0 292.5 145.4 296.3M144.2 287.4Q142.9 289.4 140.7 290.5M98.8 308.1Q95.9 305.6 94.8 302.0M80.5 297.5Q81.0 297.2 81.6 297.3M81.6 297.3Q83.4 293.7 82.9 289.7M102.8 312.4Q100.6 310.6 98.7 308.6M107.5 305.6Q105.4 304.4 103.1 305.1M106.8 282.0Q107.8 281.9 108.7 281.2M103.6 275.1Q106.9 275.6 109.9 277.2M125.1 290.7Q129.2 292.7 133.3 290.9M133.3 290.9Q133.5 290.2 134.1 289.7M143.9 325.2Q142.8 326.9 142.2 328.9M151.3 316.3Q148.0 313.9 144.1 315.0M104.2 296.6Q104.6 293.5 104.6 290.4M111.0 297.7Q113.2 295.9 114.0 293.0M115.0 302.2Q113.1 299.9 111.0 297.7M113.3 283.5Q114.0 283.0 114.9 283.2M113.3 283.5Q110.9 282.4 108.7 281.2M114.2 276.4Q116.8 274.9 118.1 272.3M121.3 279.4Q121.8 278.3 122.4 277.3M99.6 318.6Q100.6 320.9 101.4 323.3M105.8 323.2Q107.0 322.1 107.8 320.7M89.3 277.8Q87.4 276.4 86.7 274.1M87.1 285.3Q83.8 281.8 79.3 280.3M95.2 277.9Q92.3 278.0 89.3 277.8M129.5 279.7Q129.4 279.5 129.4 279.3M128.6 283.3Q129.6 281.6 129.5 279.7M125.2 276.7Q127.3 277.9 129.4 279.3M132.7 322.3Q132.3 323.0 132.4 323.8M148.6 305.6Q146.4 306.4 145.4 308.5M146.7 297.7Q145.3 299.3 145.9 301.3M120.7 300.5Q121.3 300.8 121.8 301.2M95.8 282.2Q91.6 284.1 87.2 285.5M102.0 285.1Q99.5 285.1 97.2 286.2M95.8 282.2Q97.0 284.0 97.2 286.2M82.9 289.7Q85.5 288.5 87.2 286.4M90.3 323.3Q88.9 321.7 87.4 320.2M93.2 323.1Q94.6 321.2 94.3 318.8M96.6 317.5Q95.0 317.5 94.3 318.8M98.7 308.6Q97.3 310.0 95.7 311.1M120.4 316.2Q120.8 315.6 120.8 314.9M110.1 314.1Q111.8 314.1 113.2 315.0M122.3 321.2Q122.0 321.7 121.8 322.3M122.0 314.0Q124.5 316.0 127.6 316.4M134.4 311.3Q131.2 309.2 127.6 310.6M135.7 302.7Q134.9 300.1 136.8 298.1M133.3 290.9Q132.4 292.9 133.2 294.8M97.9 290.3Q96.9 289.7 96.5 288.5M97.9 290.3Q96.8 292.7 97.3 295.4M95.7 296.4Q93.6 293.9 90.3 293.5M85.6 298.8Q87.7 295.9 90.3 293.5M81.6 297.3Q84.0 297.2 85.6 298.8M84.0 308.0Q84.8 311.3 84.3 314.6M89.4 316.6Q89.5 316.0 89.0 315.5M128.8 298.3Q128.8 298.3 128.8 298.3"/><path stroke-width="2.5" d="M146.7 297.7Q146.2 296.8 145.4 296.3M120.5 299.3Q120.7 295.0 124.3 292.7M102.2 279.6Q104.2 277.8 103.6 275.1M101.4 323.3Q103.6 323.6 105.8 323.2M116.0 280.7Q118.8 280.6 121.3 279.4M117.8 286.5Q120.2 285.1 122.8 284.2M145.2 280.7Q143.4 279.9 142.3 278.2M133.4 287.9Q134.0 288.7 134.1 289.7M133.4 287.9Q136.3 284.7 135.9 280.4M134.1 289.7Q134.5 289.9 134.9 289.6M124.9 285.2Q127.0 284.7 128.6 283.3M128.6 283.3Q132.2 284.3 133.4 287.9M111.0 297.7Q110.0 298.6 108.8 298.3M102.2 300.2Q103.2 298.6 103.7 296.9M114.2 276.4Q112.8 275.3 111.1 276.1M122.4 277.3Q120.0 275.0 118.1 272.3M102.7 315.7Q104.9 317.0 107.4 317.9M102.7 315.7Q101.1 317.1 99.6 318.6M132.7 322.3Q136.5 318.9 141.4 320.4M142.2 302.1Q141.1 303.6 139.9 305.1M139.9 305.1Q140.1 305.2 140.0 305.4M144.1 315.0Q146.0 312.0 145.4 308.5M110.7 307.4Q113.0 309.7 116.3 309.7M94.3 318.8Q92.4 316.5 89.4 316.6M113.2 315.0Q114.7 313.2 116.4 311.7M116.3 309.7Q115.9 310.7 116.4 311.7M122.3 321.2Q120.4 319.0 120.4 316.2M134.9 311.8Q131.5 314.6 130.9 319.0M134.9 311.8Q134.6 311.6 134.4 311.3M103.7 296.9Q100.8 294.9 97.3 295.4M132.3 304.4Q132.1 304.4 131.9 304.2M121.8 301.2Q122.4 301.0 122.9 301.4"/><path stroke-width="1.0" d="M94.9 325.1Q94.7 327.9 93.4 330.3M101.1 331.5Q100.8 328.0 100.4 324.6M94.9 301.9Q98.8 302.1 102.2 300.2M150.5 279.1Q147.8 279.9 145.2 280.7M103.5 281.3Q103.3 280.1 102.2 279.6M102.2 279.6Q99.4 279.8 96.5 279.7M140.7 290.5Q137.8 290.1 134.9 289.6M149.8 325.1Q146.8 324.1 143.9 325.2M115.3 292.8Q114.6 292.9 114.0 293.0M134.5 329.0Q132.9 326.6 132.4 323.8M115.0 302.2Q115.3 302.4 115.8 302.3M87.1 285.3Q87.1 285.4 87.2 285.5M87.4 320.2Q88.3 318.3 89.4 316.6M124.3 292.7Q127.9 294.4 128.8 298.3"/></g><g fill="#000"><circle cx="80.5" cy="297.5" r="1.1"/><circle cx="102.8" cy="312.4" r="1.9"/><circle cx="98.7" cy="308.6" r="1.3"/><circle cx="102.7" cy="315.7" r="1.5"/><circle cx="82.9" cy="289.7" r="1.7"/><circle cx="142.0" cy="295.1" r="1.5"/><circle cx="152.3" cy="296.5" r="1.7"/><circle cx="146.7" cy="297.7" r="0.9"/><circle cx="145.4" cy="296.3" r="1.0"/><circle cx="103.5" cy="281.3" r="2.0"/><circle cx="102.2" cy="279.6" r="0.9"/><circle cx="125.1" cy="290.7" r="1.2"/><circle cx="124.2" cy="291.7" r="2.0"/><circle cx="133.3" cy="290.9" r="2.0"/><circle cx="99.6" cy="318.6" r="1.3"/><circle cx="94.9" cy="325.1" r="1.3"/><circle cx="101.1" cy="331.5" r="1.3"/><circle cx="100.4" cy="324.6" r="1.7"/><circle cx="101.4" cy="323.3" r="1.3"/><circle cx="93.4" cy="330.3" r="1.2"/><circle cx="107.5" cy="305.6" r="1.0"/><circle cx="94.8" cy="302.0" r="1.1"/><circle cx="94.9" cy="301.9" r="1.0"/><circle cx="139.2" cy="297.7" r="1.2"/><circle cx="108.7" cy="281.2" r="1.3"/><circle cx="151.3" cy="316.3" r="1.7"/><circle cx="108.6" cy="310.6" r="0.9"/><circle cx="109.9" cy="277.2" r="1.4"/><circle cx="105.8" cy="323.2" r="1.5"/><circle cx="108.8" cy="329.1" r="2.0"/><circle cx="114.9" cy="283.2" r="2.1"/><circle cx="116.0" cy="280.7" r="1.3"/><circle cx="122.8" cy="284.2" r="2.0"/><circle cx="121.3" cy="279.4" r="1.7"/><circle cx="122.4" cy="277.3" r="1.6"/><circle cx="125.2" cy="276.7" r="1.2"/><circle cx="95.2" cy="277.9" r="2.0"/><circle cx="141.5" cy="274.4" r="1.8"/><circle cx="142.3" cy="278.2" r="1.8"/><circle cx="138.8" cy="283.9" r="1.7"/><circle cx="133.4" cy="287.9" r="1.7"/><circle cx="135.9" cy="280.4" r="1.1"/><circle cx="134.9" cy="289.6" r="0.9"/><circle cx="132.7" cy="322.3" r="2.1"/><circle cx="143.9" cy="325.2" r="1.5"/><circle cx="142.2" cy="328.9" r="1.0"/><circle cx="143.2" cy="315.5" r="1.9"/><circle cx="144.1" cy="315.0" r="1.3"/><circle cx="123.4" cy="310.1" r="1.8"/><circle cx="122.3" cy="321.2" r="2.1"/><circle cx="122.0" cy="314.0" r="1.7"/><circle cx="102.0" cy="285.1" r="1.8"/><circle cx="104.2" cy="296.6" r="2.0"/><circle cx="111.0" cy="297.7" r="1.6"/><circle cx="108.8" cy="298.3" r="2.0"/><circle cx="114.0" cy="293.0" r="2.0"/><circle cx="104.6" cy="290.4" r="0.9"/><circle cx="107.7" cy="289.0" r="1.0"/><circle cx="109.8" cy="289.3" r="2.0"/><circle cx="114.2" cy="276.4" r="1.3"/><circle cx="111.1" cy="276.1" r="1.1"/><circle cx="118.1" cy="272.3" r="1.0"/><circle cx="109.5" cy="271.1" r="1.9"/><circle cx="93.2" cy="323.1" r="1.4"/><circle cx="107.4" cy="317.9" r="1.1"/><circle cx="113.4" cy="326.6" r="1.4"/><circle cx="114.6" cy="319.6" r="1.1"/><circle cx="112.5" cy="321.4" r="2.1"/><circle cx="89.3" cy="277.8" r="1.5"/><circle cx="86.7" cy="274.1" r="1.6"/><circle cx="79.3" cy="280.3" r="1.3"/><circle cx="135.7" cy="280.2" r="1.2"/><circle cx="129.4" cy="279.3" r="1.4"/><circle cx="135.9" cy="275.0" r="1.0"/><circle cx="134.5" cy="329.0" r="1.4"/><circle cx="136.8" cy="311.8" r="1.1"/><circle cx="148.6" cy="305.6" r="1.0"/><circle cx="145.4" cy="308.5" r="1.7"/><circle cx="145.9" cy="301.3" r="1.9"/><circle cx="142.2" cy="302.1" r="2.1"/><circle cx="139.9" cy="305.1" r="1.3"/><circle cx="140.0" cy="305.4" r="1.8"/><circle cx="120.7" cy="300.5" r="1.8"/><circle cx="115.8" cy="302.3" r="2.0"/><circle cx="117.6" cy="308.5" r="1.2"/><circle cx="95.8" cy="282.2" r="1.9"/><circle cx="97.2" cy="286.2" r="1.6"/><circle cx="87.4" cy="320.2" r="1.0"/><circle cx="96.6" cy="317.5" r="1.5"/><circle cx="94.3" cy="318.8" r="1.0"/><circle cx="95.7" cy="311.1" r="2.0"/><circle cx="113.2" cy="315.0" r="1.3"/><circle cx="120.4" cy="316.2" r="1.2"/><circle cx="120.8" cy="314.9" r="1.8"/><circle cx="126.2" cy="326.7" r="1.8"/><circle cx="121.8" cy="322.3" r="1.4"/><circle cx="119.9" cy="323.2" r="1.2"/><circle cx="117.9" cy="326.9" r="0.9"/><circle cx="134.9" cy="311.8" r="1.8"/><circle cx="128.9" cy="318.3" r="1.1"/><circle cx="134.4" cy="311.3" r="1.0"/><circle cx="126.0" cy="309.1" r="1.8"/><circle cx="127.6" cy="310.6" r="1.9"/><circle cx="136.8" cy="298.1" r="1.4"/><circle cx="132.3" cy="304.4" r="1.0"/><circle cx="96.5" cy="288.5" r="1.2"/><circle cx="95.7" cy="296.4" r="1.0"/><circle cx="90.3" cy="293.5" r="2.1"/><circle cx="90.1" cy="289.6" r="1.1"/><circle cx="91.0" cy="311.0" r="1.0"/><circle cx="84.0" cy="308.0" r="2.1"/><circle cx="89.0" cy="315.5" r="1.8"/><circle cx="126.9" cy="306.3" r="1.7"/><circle cx="131.9" cy="304.2" r="1.3"/><circle cx="122.9" cy="301.4" r="1.5"/><circle cx="128.8" cy="298.3" r="1.6"/><circle cx="128.8" cy="298.3" r="1.5"/></g></g></g>
<rect x="146.9" y="277.9" width="61.6" height="45.5" fill="#f4f2f4"/>
<clipPath id="ec21"><rect x="146.9" y="277.9" width="61.6" height="45.5"/></clipPath>
<g clip-path="url(#ec21)"><g filter="url(#tDns)"><rect x="146.9" y="277.9" width="61.6" height="45.6" fill="none"/><rect x="146.9" y="277.9" width="61.6" height="45.6" fill="#000"/></g><g filter="url(#soft03)"><g fill="#f3e6f2"><ellipse cx="185.8" cy="315.2" rx="0.8" ry="1.1" transform="rotate(10 185.8 315.2)"/><ellipse cx="158.4" cy="307.6" rx="1.2" ry="1.6" transform="rotate(37 158.4 307.6)"/><ellipse cx="177.9" cy="322.0" rx="0.8" ry="1.3" transform="rotate(118 177.9 322.0)"/><ellipse cx="165.5" cy="292.0" rx="1.0" ry="1.0" transform="rotate(85 165.5 292.0)"/><ellipse cx="150.1" cy="305.6" rx="0.8" ry="0.9" transform="rotate(97 150.1 305.6)"/><ellipse cx="173.2" cy="316.5" rx="1.4" ry="0.9" transform="rotate(55 173.2 316.5)"/><ellipse cx="181.1" cy="309.0" rx="1.0" ry="2.0" transform="rotate(87 181.1 309.0)"/><ellipse cx="150.4" cy="322.6" rx="0.5" ry="0.6" transform="rotate(140 150.4 322.6)"/><ellipse cx="160.0" cy="318.8" rx="0.5" ry="0.9" transform="rotate(157 160.0 318.8)"/><ellipse cx="154.5" cy="292.6" rx="0.8" ry="1.7" transform="rotate(98 154.5 292.6)"/><ellipse cx="163.7" cy="278.2" rx="0.6" ry="0.6" transform="rotate(57 163.7 278.2)"/><ellipse cx="153.7" cy="279.4" rx="0.7" ry="0.5" transform="rotate(126 153.7 279.4)"/><ellipse cx="192.9" cy="303.4" rx="1.0" ry="1.7" transform="rotate(89 192.9 303.4)"/><ellipse cx="156.1" cy="283.4" rx="0.6" ry="0.5" transform="rotate(6 156.1 283.4)"/><ellipse cx="153.2" cy="299.5" rx="1.2" ry="0.9" transform="rotate(176 153.2 299.5)"/><ellipse cx="155.8" cy="288.9" rx="1.5" ry="1.7" transform="rotate(83 155.8 288.9)"/><ellipse cx="151.7" cy="287.6" rx="1.3" ry="2.3" transform="rotate(50 151.7 287.6)"/><ellipse cx="152.5" cy="284.3" rx="0.5" ry="0.8" transform="rotate(53 152.5 284.3)"/><ellipse cx="148.7" cy="282.2" rx="1.0" ry="2.0" transform="rotate(54 148.7 282.2)"/><ellipse cx="156.3" cy="293.9" rx="1.1" ry="2.0" transform="rotate(94 156.3 293.9)"/><ellipse cx="152.7" cy="294.3" rx="0.7" ry="0.8" transform="rotate(41 152.7 294.3)"/><ellipse cx="150.4" cy="300.9" rx="0.8" ry="0.5" transform="rotate(56 150.4 300.9)"/><ellipse cx="155.7" cy="282.9" rx="0.9" ry="0.8" transform="rotate(161 155.7 282.9)"/></g></g></g>
<rect x="210.3" y="277.9" width="61.6" height="45.5" fill="#f4f2f4"/>
<clipPath id="ec31"><rect x="210.3" y="277.9" width="61.6" height="45.5"/></clipPath>
<g clip-path="url(#ec31)"><g filter="url(#tPnk)"><rect x="210.3" y="277.9" width="61.6" height="45.6" fill="none"/><g fill="none" stroke="#000" stroke-linecap="round"><path stroke-width="2.5" d="M272.3 280.7Q273.1 277.9 274.2 275.3M261.9 279.6Q259.7 279.0 257.9 280.4M264.3 282.0Q260.6 285.4 261.5 290.3M257.9 280.4Q254.4 282.0 254.2 285.9M272.5 324.8Q274.0 322.4 273.3 319.7M267.9 298.0Q266.2 295.5 266.2 292.4M269.0 288.6Q271.9 290.0 274.7 288.4M232.6 327.6Q229.9 326.4 229.6 323.4M254.6 289.6Q253.9 290.2 253.3 290.9M254.2 285.9Q249.7 282.3 244.1 281.7M253.3 290.9Q249.4 292.7 245.1 292.3M270.2 298.9Q271.8 298.7 273.2 297.9M269.7 308.0Q269.9 307.8 270.0 307.7M233.0 318.1Q228.7 317.8 225.7 314.6M222.2 318.7Q223.0 315.9 225.7 314.6M223.8 282.3Q226.5 282.3 228.1 280.2M216.8 286.0Q219.9 284.9 223.1 284.3M230.5 280.9Q233.9 278.2 238.0 276.8M228.1 280.2Q229.3 280.8 230.5 280.9M224.9 287.3Q224.4 289.6 223.2 291.5M231.5 289.4Q229.4 293.1 226.3 296.0M269.7 308.0Q265.9 307.3 262.3 308.5M262.3 308.5Q260.6 307.1 260.5 304.9M233.6 317.9Q235.0 321.0 238.4 321.8M218.3 309.0Q218.4 308.3 217.9 307.9M217.9 307.9Q218.3 305.1 220.5 303.3M211.7 323.0Q211.4 318.3 208.8 314.2M219.5 329.8Q217.0 326.9 217.2 323.2M209.7 324.5Q210.3 323.2 211.7 323.0M222.2 318.7Q221.0 319.5 219.6 319.3M225.7 314.6Q225.9 313.3 225.7 311.9M209.7 324.5Q207.7 324.9 205.9 324.2M226.7 303.1Q225.9 303.2 225.6 304.0M226.7 303.1Q227.0 299.9 226.8 296.7M220.5 303.3Q218.5 301.7 218.6 299.1M226.7 303.1Q230.1 301.5 233.4 303.3M253.6 298.2Q253.0 300.0 251.3 300.9M217.9 307.9Q215.6 306.3 212.8 306.6M208.8 314.2Q207.8 313.8 207.1 313.0M252.2 312.3Q249.2 312.4 246.3 313.0M212.1 291.9Q214.3 295.2 216.3 298.7M218.6 299.1Q217.5 298.9 216.3 298.7M242.2 301.2Q243.6 299.2 245.9 298.6M245.9 298.6Q248.6 298.8 250.2 301.0M235.2 298.2Q238.3 300.7 242.2 301.2"/><path stroke-width="2.0" d="M272.3 280.7Q274.9 283.4 276.4 286.9M261.9 279.6Q263.4 280.5 264.3 282.0M278.2 316.8Q275.1 317.1 273.3 319.7M259.1 291.0Q257.5 294.9 260.0 298.2M260.0 298.2Q256.8 299.9 253.6 298.2M244.1 281.7Q245.1 287.0 245.1 292.3M260.2 316.9Q259.7 319.9 258.9 322.8M233.0 318.1Q230.0 319.9 229.6 323.4M228.1 280.2Q229.7 276.2 227.4 272.5M216.8 276.1Q218.1 276.0 219.4 275.7M230.5 280.9Q231.9 285.0 233.2 289.1M242.6 278.2Q243.1 279.0 242.8 279.9M236.6 293.1Q240.6 290.7 244.7 292.9M245.1 292.3Q245.1 292.7 244.7 292.9M259.5 315.3Q262.7 312.7 262.3 308.5M258.9 322.8Q254.8 323.2 251.2 325.3M251.0 325.9Q251.1 325.6 251.2 325.3M245.8 318.4Q243.3 320.4 240.4 321.9M210.3 332.5Q209.7 328.5 209.7 324.5M215.8 289.2Q217.0 291.7 219.8 292.0M219.1 298.6Q218.8 298.8 218.6 299.1M226.8 296.7Q230.5 299.3 234.9 298.5M212.8 306.6Q211.8 311.5 207.1 313.0M233.4 303.3Q234.6 304.8 234.8 306.7M205.3 291.8Q208.8 290.2 212.1 291.9M212.8 306.6Q211.6 304.5 211.2 302.2M244.7 292.9Q246.3 295.5 245.9 298.6"/><path stroke-width="3.5" d="M261.5 290.3Q260.3 290.7 259.1 291.0M272.3 280.7Q268.2 279.4 265.0 282.2M264.2 271.6Q260.7 274.9 261.9 279.6M222.8 330.2Q227.0 328.0 227.2 323.4M267.9 298.0Q269.3 297.9 270.2 298.9M269.7 308.0Q269.8 312.4 269.4 316.7M261.5 325.6Q259.6 324.8 258.9 322.8M223.2 291.5Q223.7 294.2 225.8 295.9M238.4 321.8Q239.4 322.4 240.4 321.9M218.3 309.0Q222.1 310.1 225.7 311.9M236.6 293.1Q235.2 295.4 235.2 298.2M259.5 315.3Q256.4 312.6 252.2 312.3M246.2 313.3Q246.2 313.1 246.3 313.0M233.6 309.2Q233.8 307.7 234.8 306.7M246.3 313.0Q245.5 312.2 245.7 311.2M251.3 300.9Q250.7 301.1 250.2 301.0"/><path stroke-width="4.0" d="M262.1 300.0Q261.5 298.6 260.0 298.2M224.9 287.3Q228.2 288.3 231.5 289.4M226.3 296.0Q226.1 295.9 225.8 295.9"/><path stroke-width="3.0" d="M262.1 300.0Q265.3 299.7 267.9 298.0M265.0 282.2Q267.9 284.9 269.0 288.6M227.2 323.4Q228.4 323.5 229.6 323.4M216.8 276.1Q215.2 279.2 214.2 282.4M270.0 307.7Q273.6 306.5 276.5 309.0M269.4 316.7Q271.8 317.7 273.3 319.7M269.4 316.7Q264.8 319.4 260.2 316.9M214.2 282.4Q215.7 284.1 216.8 286.0M238.0 276.8Q240.5 276.9 242.6 278.2M260.2 316.9Q259.6 316.2 259.5 315.3M242.2 329.4Q241.5 325.6 240.4 321.9M233.0 318.1Q233.3 317.9 233.6 317.9M226.7 310.5Q225.7 307.3 225.6 304.0M225.6 304.0Q222.9 305.1 220.5 303.3M211.7 323.0Q214.4 323.8 217.2 323.2M208.8 314.2Q212.6 313.5 216.3 314.7M216.3 314.7Q218.8 316.3 219.6 319.3M219.6 319.3Q218.8 321.4 217.2 323.2M218.3 309.0Q218.2 312.1 216.3 314.7M216.8 286.0Q216.3 287.6 215.8 289.2M233.4 303.3Q233.5 300.7 234.9 298.5M234.9 298.5Q235.1 298.3 235.2 298.2M260.5 304.9Q257.8 304.9 255.1 304.8M252.2 312.3Q252.3 308.0 255.1 304.8M233.6 317.9Q234.7 316.3 235.3 314.4M246.2 313.3Q241.0 316.0 235.3 314.4M226.7 310.5Q229.8 308.0 233.6 309.2M235.3 314.4Q234.7 311.7 233.6 309.2M216.3 298.7Q213.0 299.4 211.2 302.2M241.3 306.9Q243.0 309.5 245.7 311.2M245.7 311.2Q246.4 305.4 250.2 301.0M234.8 306.7Q238.1 306.5 241.3 306.9"/></g><g fill="#000"><circle cx="272.3" cy="280.7" r="2.9"/><circle cx="274.2" cy="275.3" r="2.1"/><circle cx="265.0" cy="282.2" r="2.2"/><circle cx="264.2" cy="271.6" r="1.5"/><circle cx="272.5" cy="324.8" r="2.8"/><circle cx="216.8" cy="276.1" r="2.0"/><circle cx="261.9" cy="279.6" r="2.9"/><circle cx="264.3" cy="282.0" r="2.2"/><circle cx="257.9" cy="280.4" r="1.4"/><circle cx="254.2" cy="285.9" r="2.6"/><circle cx="261.5" cy="290.3" r="2.4"/><circle cx="259.1" cy="291.0" r="2.6"/><circle cx="244.1" cy="281.7" r="2.1"/><circle cx="262.1" cy="300.0" r="1.6"/><circle cx="260.0" cy="298.2" r="1.8"/><circle cx="269.7" cy="308.0" r="1.8"/><circle cx="269.4" cy="316.7" r="1.6"/><circle cx="273.3" cy="319.7" r="1.4"/><circle cx="267.9" cy="298.0" r="1.4"/><circle cx="274.7" cy="288.4" r="2.3"/><circle cx="261.5" cy="325.6" r="2.0"/><circle cx="233.0" cy="318.1" r="2.1"/><circle cx="232.6" cy="327.6" r="1.5"/><circle cx="222.8" cy="330.2" r="2.8"/><circle cx="227.2" cy="323.4" r="2.1"/><circle cx="229.6" cy="323.4" r="2.0"/><circle cx="214.2" cy="282.4" r="1.8"/><circle cx="216.8" cy="286.0" r="2.0"/><circle cx="223.1" cy="284.3" r="1.9"/><circle cx="224.9" cy="287.3" r="2.9"/><circle cx="236.6" cy="293.1" r="1.9"/><circle cx="226.3" cy="296.0" r="2.6"/><circle cx="253.3" cy="290.9" r="2.9"/><circle cx="245.1" cy="292.3" r="2.3"/><circle cx="244.7" cy="292.9" r="2.5"/><circle cx="270.2" cy="298.9" r="2.3"/><circle cx="273.2" cy="297.9" r="3.0"/><circle cx="270.0" cy="307.7" r="2.7"/><circle cx="276.5" cy="309.0" r="2.7"/><circle cx="260.2" cy="316.9" r="1.9"/><circle cx="258.9" cy="322.8" r="2.7"/><circle cx="226.7" cy="310.5" r="2.6"/><circle cx="225.6" cy="304.0" r="2.2"/><circle cx="218.3" cy="309.0" r="1.4"/><circle cx="225.7" cy="314.6" r="1.6"/><circle cx="225.7" cy="311.9" r="1.5"/><circle cx="219.5" cy="329.8" r="2.8"/><circle cx="223.8" cy="282.3" r="1.5"/><circle cx="228.1" cy="280.2" r="2.0"/><circle cx="219.4" cy="275.7" r="2.9"/><circle cx="230.5" cy="280.9" r="1.5"/><circle cx="242.6" cy="278.2" r="2.1"/><circle cx="242.8" cy="279.9" r="1.4"/><circle cx="223.2" cy="291.5" r="1.4"/><circle cx="225.8" cy="295.9" r="1.7"/><circle cx="259.5" cy="315.3" r="2.6"/><circle cx="262.3" cy="308.5" r="2.7"/><circle cx="251.0" cy="325.9" r="2.8"/><circle cx="251.2" cy="325.3" r="2.6"/><circle cx="242.2" cy="329.4" r="2.8"/><circle cx="245.8" cy="318.4" r="1.5"/><circle cx="233.6" cy="317.9" r="2.7"/><circle cx="238.4" cy="321.8" r="2.4"/><circle cx="240.4" cy="321.9" r="1.5"/><circle cx="217.9" cy="307.9" r="1.8"/><circle cx="210.3" cy="332.5" r="2.3"/><circle cx="209.7" cy="324.5" r="2.5"/><circle cx="208.8" cy="314.2" r="2.8"/><circle cx="219.6" cy="319.3" r="2.3"/><circle cx="217.2" cy="323.2" r="2.4"/><circle cx="205.9" cy="324.2" r="2.1"/><circle cx="215.8" cy="289.2" r="1.6"/><circle cx="219.8" cy="292.0" r="2.2"/><circle cx="219.1" cy="298.6" r="2.2"/><circle cx="218.6" cy="299.1" r="1.8"/><circle cx="233.4" cy="303.3" r="1.7"/><circle cx="234.9" cy="298.5" r="2.5"/><circle cx="235.2" cy="298.2" r="2.3"/><circle cx="252.2" cy="312.3" r="1.6"/><circle cx="255.1" cy="304.8" r="2.0"/><circle cx="212.8" cy="306.6" r="1.6"/><circle cx="207.1" cy="313.0" r="1.9"/><circle cx="246.2" cy="313.3" r="2.7"/><circle cx="246.3" cy="313.0" r="2.1"/><circle cx="233.6" cy="309.2" r="1.4"/><circle cx="234.8" cy="306.7" r="1.5"/><circle cx="205.3" cy="291.8" r="2.3"/><circle cx="216.3" cy="298.7" r="2.8"/><circle cx="211.2" cy="302.2" r="3.0"/><circle cx="245.7" cy="311.2" r="2.9"/><circle cx="242.2" cy="301.2" r="2.7"/><circle cx="245.9" cy="298.6" r="1.5"/><circle cx="250.2" cy="301.0" r="2.0"/></g></g></g>
<rect x="20.4" y="324.2" width="61.6" height="45.6" fill="#f4f2f4"/>
<clipPath id="ec02"><rect x="20.4" y="324.2" width="61.6" height="45.6"/></clipPath>
<g clip-path="url(#ec02)"><g filter="url(#tLil)"><rect x="20.4" y="324.2" width="61.6" height="45.6" fill="none"/><polyline points="27.1,320.9 27.9,324.2 28.7,327.5 29.2,330.7 29.4,334.0 29.1,337.2 28.5,340.5 27.7,343.7 27.0,347.0 26.5,350.3 26.4,353.5 26.8,356.8 27.4,360.0 28.2,363.3 28.9,366.5 29.4,369.8 29.3,373.1" fill="none" stroke="#000" stroke-width="1.7"/><g fill="none" stroke="#000" stroke-linecap="round"><path stroke-width="1.5" d="M73.5 367.6Q76.6 367.4 79.5 368.5M71.9 370.2Q73.3 372.2 73.2 374.7M51.3 354.5Q52.1 355.3 52.4 356.4M69.9 348.9Q71.3 346.0 70.4 343.0M69.9 348.9Q71.1 349.2 72.0 350.2M73.6 343.6Q74.9 344.4 75.7 345.7M66.3 348.6Q68.1 349.2 69.9 348.9M81.0 339.9Q79.3 343.7 75.7 345.7M81.0 339.9Q80.8 338.6 79.9 337.8M79.9 337.8Q77.8 337.7 75.7 337.9M26.7 323.8Q29.2 325.3 31.2 327.4M37.4 329.0Q38.1 327.9 39.3 327.1M61.6 359.3Q62.9 358.7 64.0 358.0M68.2 356.4Q67.4 357.4 66.5 358.4M65.7 367.1Q63.6 369.3 60.5 369.7M51.2 332.9Q48.7 333.2 46.2 333.4M39.8 371.2Q38.4 372.0 36.7 371.8M30.5 371.7Q33.3 371.3 35.9 372.7M40.9 366.4Q38.8 366.2 38.0 364.2M40.9 366.4Q38.9 368.5 39.8 371.2M34.7 366.9Q36.8 368.9 36.7 371.8M80.1 367.0Q79.4 365.9 79.7 364.6M42.4 341.4Q45.6 340.7 48.9 341.2M43.7 348.6Q44.2 348.3 44.5 347.8M78.9 348.6Q79.0 348.7 79.0 348.8M75.9 346.9Q77.5 347.6 78.9 348.6M87.2 333.1Q84.2 334.3 81.0 334.6M73.1 355.7Q75.4 357.5 75.1 360.4M81.3 357.9Q81.3 356.7 81.5 355.5M75.1 360.4Q75.8 360.8 76.7 360.8M79.7 364.6Q78.9 362.1 76.7 360.8M62.2 345.7Q59.4 346.6 58.7 349.6M60.6 352.0Q60.3 350.3 58.7 349.6M55.4 339.4Q56.5 340.5 56.8 342.0M52.7 348.4Q53.6 348.3 54.3 347.8M70.6 337.6Q67.3 337.9 64.0 337.1M70.1 342.7Q68.7 342.4 67.4 343.0M47.2 326.2Q49.7 324.3 52.7 325.2M62.5 333.5Q62.8 333.1 62.9 332.7M45.2 331.6Q45.6 332.3 45.5 333.1M46.2 333.4Q45.8 333.4 45.5 333.1M56.6 365.1Q55.2 365.7 53.7 366.2M40.9 366.4Q43.2 365.0 45.8 365.8M42.3 358.1Q42.6 358.2 42.7 358.0M41.5 372.8Q43.9 371.2 46.8 371.3M46.8 371.3Q48.1 372.7 49.6 373.9M53.7 366.2Q51.7 369.6 51.9 373.6M60.5 369.7Q60.6 370.2 60.4 370.7M27.5 351.5Q26.9 351.6 26.3 351.7M36.0 352.3Q36.3 352.3 36.5 352.0M36.5 352.0Q37.0 349.3 38.7 347.1M33.0 348.4Q33.7 346.0 35.8 344.4M33.8 366.9Q33.0 370.0 30.1 371.0M30.5 371.7Q30.2 371.4 30.1 371.0M52.8 322.7Q56.6 321.6 59.2 318.6M62.9 332.7Q63.2 332.6 63.3 332.3M72.1 333.4Q69.5 332.2 66.8 331.2M34.2 338.2Q35.1 337.0 35.4 335.5M34.1 342.3Q34.7 343.6 35.8 344.4M29.4 348.2Q29.8 346.1 28.2 344.9M28.7 343.5Q28.9 342.3 28.1 341.4M71.0 323.9Q74.6 324.1 78.1 323.3M70.8 324.0Q70.9 323.9 71.0 323.9M30.2 329.3Q30.4 330.9 31.5 332.0"/><path stroke-width="1.0" d="M80.4 372.4Q80.3 372.0 80.5 371.6M65.7 367.1Q65.4 365.4 66.5 364.2M28.1 359.3Q28.9 356.9 30.3 354.8M30.2 375.8Q30.7 373.8 30.5 371.7M44.1 354.5Q42.9 353.7 43.0 352.3M86.0 353.1Q83.1 353.2 81.5 355.5M52.7 325.2Q52.3 323.9 52.8 322.7M58.7 334.2Q55.4 333.9 53.6 331.0M38.7 347.1Q37.7 346.0 37.4 344.7M34.7 366.9Q34.3 367.1 33.8 366.9M34.2 338.2Q34.3 338.6 34.5 338.8M37.2 330.5Q39.5 332.1 40.6 334.7M34.8 333.1Q34.7 334.4 35.4 335.5M65.4 318.6Q66.8 320.6 67.6 323.0M63.3 332.3Q62.1 328.4 63.9 324.8"/><path stroke-width="2.0" d="M45.6 319.4Q44.1 320.7 44.3 322.8M51.3 354.5Q47.7 352.9 44.1 354.5M47.4 363.4Q46.4 359.6 42.7 358.0M35.1 355.5Q35.8 358.0 34.6 360.3M42.3 358.1Q39.8 360.4 37.8 363.0M70.4 343.0Q71.9 343.8 73.6 343.6M68.2 356.4Q66.0 354.2 64.8 351.2M68.2 356.4Q70.3 356.0 72.4 355.3M64.8 351.2Q64.8 349.5 66.3 348.6M75.7 337.9Q74.2 340.6 73.6 343.6M30.3 319.6Q31.3 321.8 33.5 322.6M33.5 322.6Q31.4 324.5 31.2 327.4M37.3 321.8Q35.2 321.2 33.5 322.6M39.6 324.1Q40.2 325.7 39.3 327.1M31.2 327.5Q31.2 327.4 31.2 327.4M80.5 371.6Q83.6 372.4 86.0 370.4M67.0 363.7Q67.8 361.0 66.5 358.4M71.9 364.3Q69.5 363.1 67.0 363.7M65.7 367.1Q66.5 368.7 67.7 370.1M71.9 370.2Q69.8 370.3 67.7 370.1M55.7 357.9Q55.8 357.8 56.0 357.8M55.7 357.9Q56.2 361.2 56.8 364.6M56.8 364.6Q58.5 362.8 60.9 362.9M56.0 357.8Q58.8 358.5 61.6 359.3M34.8 354.9Q34.8 355.3 35.1 355.5M85.8 365.1Q82.7 365.3 80.1 367.0M42.4 341.4Q44.2 344.3 44.5 347.8M44.5 347.8Q47.4 348.0 50.2 346.8M78.9 348.6Q80.2 344.3 84.3 342.4M81.0 339.9Q83.3 340.2 84.3 342.4M78.3 353.7Q76.0 355.3 73.1 355.7M71.9 364.3Q74.3 362.9 75.1 360.4M61.3 342.0Q59.1 342.8 56.8 342.0M55.4 339.4Q54.4 339.2 53.5 338.8M55.7 357.9Q54.1 357.2 52.4 356.4M75.7 337.9Q73.7 337.6 72.3 336.2M72.3 336.2Q71.1 336.4 70.6 337.6M70.4 343.0Q70.2 342.9 70.1 342.7M61.3 342.0Q62.6 341.2 63.6 340.0M52.8 322.7Q51.4 320.8 50.4 318.7M55.4 339.4Q56.0 336.1 58.7 334.2M37.4 344.7Q36.5 345.0 35.8 344.4M29.4 348.2Q31.2 349.3 33.0 348.4M42.0 341.1Q40.0 343.3 37.4 344.7M28.2 364.8Q28.5 363.6 29.7 363.2M30.0 361.9Q29.5 362.5 29.7 363.2M72.3 336.2Q71.8 334.8 72.1 333.4M81.0 334.6Q80.8 332.0 78.9 330.3M34.1 342.3Q34.1 340.5 34.5 338.8M42.0 341.1Q41.3 340.4 41.5 339.4M37.4 329.0Q37.5 329.8 37.2 330.5M34.1 342.3Q31.6 343.8 28.7 343.5M74.3 330.5Q70.7 328.3 70.8 324.0M70.4 324.1Q70.6 324.0 70.8 324.0M84.0 327.4Q84.1 324.1 81.8 321.7M60.3 323.9Q60.2 321.3 59.5 318.8M58.0 326.3Q59.4 325.2 60.3 323.9M70.4 324.1Q68.8 323.9 67.6 323.0M71.0 323.9Q73.4 321.3 72.7 317.8M79.0 330.0Q79.1 326.6 78.1 323.3M34.8 333.1Q33.2 332.3 31.5 332.0M31.2 327.5Q30.8 328.5 30.2 329.3"/><path stroke-width="2.5" d="M52.4 356.4Q48.0 358.6 47.4 363.4M35.1 355.5Q39.4 354.9 42.3 358.1M34.6 360.3Q36.1 361.8 37.8 363.0M75.9 346.9Q75.5 346.3 75.7 345.7M56.0 357.8Q58.2 355.9 60.2 353.7M56.6 365.1Q59.0 367.0 60.5 369.7M53.5 338.8Q51.5 339.8 49.4 340.4M34.8 354.9Q32.6 353.9 30.3 354.8M38.0 364.2Q35.7 364.8 34.7 366.9M48.9 341.2Q48.3 344.3 50.2 346.8M83.6 360.5Q82.3 359.3 81.3 357.9M56.8 342.0Q56.1 345.2 54.3 347.8M52.7 325.2Q53.1 326.2 54.0 326.6M45.8 365.8Q46.8 364.9 47.4 363.7M35.4 335.5Q38.1 335.6 40.6 334.7M29.9 336.9Q29.8 337.0 29.6 337.0"/></g><g fill="#000"><circle cx="71.9" cy="364.3" r="1.3"/><circle cx="45.6" cy="319.4" r="0.9"/><circle cx="79.5" cy="368.5" r="1.7"/><circle cx="51.3" cy="354.5" r="1.6"/><circle cx="64.8" cy="351.2" r="1.9"/><circle cx="60.6" cy="352.0" r="1.5"/><circle cx="79.9" cy="337.8" r="2.0"/><circle cx="75.7" cy="337.9" r="1.3"/><circle cx="72.3" cy="336.2" r="0.9"/><circle cx="87.2" cy="333.1" r="1.7"/><circle cx="81.0" cy="334.6" r="1.0"/><circle cx="80.5" cy="371.6" r="1.2"/><circle cx="56.8" cy="364.6" r="1.1"/><circle cx="73.2" cy="374.7" r="1.6"/><circle cx="39.6" cy="324.1" r="1.3"/><circle cx="37.3" cy="321.8" r="1.8"/><circle cx="37.4" cy="329.0" r="1.5"/><circle cx="44.1" cy="354.5" r="1.6"/><circle cx="34.8" cy="354.9" r="2.0"/><circle cx="34.6" cy="360.3" r="1.8"/><circle cx="40.9" cy="366.4" r="1.0"/><circle cx="47.4" cy="363.4" r="1.5"/><circle cx="42.3" cy="358.1" r="1.1"/><circle cx="55.4" cy="339.4" r="1.5"/><circle cx="53.5" cy="338.8" r="1.0"/><circle cx="49.4" cy="340.4" r="1.8"/><circle cx="69.9" cy="348.9" r="0.9"/><circle cx="70.4" cy="343.0" r="1.3"/><circle cx="73.6" cy="343.6" r="1.1"/><circle cx="75.9" cy="346.9" r="1.4"/><circle cx="30.3" cy="319.6" r="1.1"/><circle cx="33.5" cy="322.6" r="1.5"/><circle cx="30.2" cy="375.8" r="2.0"/><circle cx="86.0" cy="370.4" r="1.1"/><circle cx="67.0" cy="363.7" r="0.9"/><circle cx="60.9" cy="362.9" r="1.3"/><circle cx="61.6" cy="359.3" r="1.7"/><circle cx="45.2" cy="331.6" r="1.0"/><circle cx="45.5" cy="333.1" r="1.6"/><circle cx="28.1" cy="359.3" r="1.3"/><circle cx="30.3" cy="354.8" r="1.2"/><circle cx="27.5" cy="351.5" r="1.3"/><circle cx="43.7" cy="348.6" r="1.4"/><circle cx="34.7" cy="366.9" r="1.0"/><circle cx="30.5" cy="371.7" r="1.3"/><circle cx="41.5" cy="372.8" r="2.0"/><circle cx="39.8" cy="371.2" r="1.9"/><circle cx="35.9" cy="372.7" r="1.2"/><circle cx="83.6" cy="360.5" r="1.1"/><circle cx="85.8" cy="365.1" r="1.3"/><circle cx="80.1" cy="367.0" r="1.9"/><circle cx="42.4" cy="341.4" r="1.4"/><circle cx="78.9" cy="348.6" r="1.0"/><circle cx="79.0" cy="348.8" r="1.9"/><circle cx="78.3" cy="353.7" r="1.7"/><circle cx="73.1" cy="355.7" r="0.9"/><circle cx="81.3" cy="357.9" r="1.9"/><circle cx="81.5" cy="355.5" r="2.0"/><circle cx="75.1" cy="360.4" r="1.0"/><circle cx="76.7" cy="360.8" r="1.3"/><circle cx="62.2" cy="345.7" r="1.0"/><circle cx="70.6" cy="337.6" r="1.7"/><circle cx="67.4" cy="343.0" r="0.8"/><circle cx="64.0" cy="337.1" r="2.0"/><circle cx="63.6" cy="340.0" r="1.4"/><circle cx="52.8" cy="322.7" r="1.0"/><circle cx="50.4" cy="318.7" r="0.8"/><circle cx="62.5" cy="333.5" r="1.8"/><circle cx="62.9" cy="332.7" r="1.1"/><circle cx="58.7" cy="334.2" r="1.3"/><circle cx="58.0" cy="326.3" r="1.8"/><circle cx="54.0" cy="326.6" r="1.6"/><circle cx="72.1" cy="333.4" r="0.9"/><circle cx="46.8" cy="371.3" r="2.0"/><circle cx="49.6" cy="373.9" r="1.3"/><circle cx="51.9" cy="373.6" r="2.0"/><circle cx="60.4" cy="370.7" r="1.3"/><circle cx="34.1" cy="342.3" r="1.5"/><circle cx="36.0" cy="352.3" r="1.4"/><circle cx="36.5" cy="352.0" r="1.3"/><circle cx="33.0" cy="348.4" r="1.1"/><circle cx="38.7" cy="347.1" r="1.0"/><circle cx="37.4" cy="344.7" r="1.3"/><circle cx="35.8" cy="344.4" r="1.1"/><circle cx="28.2" cy="364.8" r="1.2"/><circle cx="29.7" cy="363.2" r="1.2"/><circle cx="30.1" cy="371.0" r="0.8"/><circle cx="63.3" cy="332.3" r="0.9"/><circle cx="66.8" cy="331.2" r="1.8"/><circle cx="78.9" cy="330.3" r="1.6"/><circle cx="74.3" cy="330.5" r="1.5"/><circle cx="34.5" cy="338.8" r="1.7"/><circle cx="35.4" cy="335.5" r="1.9"/><circle cx="41.5" cy="339.4" r="1.1"/><circle cx="40.6" cy="334.7" r="1.5"/><circle cx="28.7" cy="343.5" r="0.9"/><circle cx="28.2" cy="344.9" r="1.9"/><circle cx="70.4" cy="324.1" r="1.4"/><circle cx="70.8" cy="324.0" r="1.8"/><circle cx="79.0" cy="330.0" r="1.0"/><circle cx="81.8" cy="321.7" r="0.9"/><circle cx="28.1" cy="341.4" r="1.7"/><circle cx="65.4" cy="318.6" r="1.2"/><circle cx="59.5" cy="318.8" r="1.2"/><circle cx="78.1" cy="323.3" r="1.1"/><circle cx="72.7" cy="317.8" r="1.7"/><circle cx="29.9" cy="336.9" r="1.3"/><circle cx="29.6" cy="337.0" r="1.3"/><circle cx="30.2" cy="329.3" r="1.2"/></g></g></g>
<rect x="83.4" y="324.2" width="61.6" height="45.6" fill="#f4f2f4"/>
<clipPath id="ec12"><rect x="83.4" y="324.2" width="61.6" height="45.6"/></clipPath>
<g clip-path="url(#ec12)"><g filter="url(#tLil)"><rect x="83.4" y="324.2" width="61.6" height="45.6" fill="none"/><g fill="none" stroke="#000" stroke-linecap="round"><path stroke-width="2.0" d="M145.9 328.5Q144.0 328.0 142.2 327.1M147.3 331.8Q145.1 332.5 143.3 334.0M142.8 338.0Q143.9 336.1 143.3 334.0M137.1 333.1Q137.4 335.1 136.9 337.1M110.4 353.4Q112.4 355.9 115.6 356.1M115.6 356.1Q116.9 354.2 119.0 353.7M145.4 339.7Q148.3 337.5 149.3 334.1M140.6 344.0Q138.2 344.6 136.2 343.2M115.8 372.9Q117.8 371.6 119.0 369.5M127.5 357.1Q127.0 357.9 126.2 358.4M110.9 370.9Q109.0 368.6 106.7 366.8M106.7 366.8Q107.1 363.8 108.9 361.3M110.9 370.9Q109.3 371.7 108.0 372.9M84.8 340.0Q82.6 342.3 80.0 344.0M83.4 336.9Q81.4 335.6 79.0 335.8M140.1 326.2Q139.5 323.8 139.2 321.3M119.0 369.5Q121.0 370.5 122.9 369.1M89.3 345.8Q91.1 347.6 93.5 346.9M93.5 346.9Q95.4 346.9 96.8 345.6M106.9 342.3Q105.6 342.4 104.3 342.0M98.6 359.3Q102.7 358.0 104.4 354.1M99.7 351.1Q101.3 352.5 103.4 352.2M104.5 348.8Q103.7 350.4 103.4 352.2M99.2 371.1Q99.9 369.5 101.0 368.2M99.2 371.1Q97.4 371.2 95.5 371.5M92.2 369.3Q92.7 367.3 91.9 365.4M91.9 365.4Q93.0 364.8 93.1 363.5M87.5 323.5Q85.6 322.8 85.3 320.8M85.7 327.2Q85.9 325.0 87.5 323.5M85.7 327.2Q83.8 326.3 81.8 326.3M87.1 330.0Q89.9 330.1 92.4 329.1M90.8 337.7Q92.2 334.4 94.6 331.9M94.6 331.9Q94.5 331.6 94.5 331.4M84.8 340.0Q87.0 339.5 89.1 340.4M136.1 320.8Q134.6 322.3 133.0 323.8M134.8 326.6Q133.7 328.3 133.9 330.4M121.7 332.2Q122.8 335.0 123.8 337.9M120.8 341.3Q121.9 339.2 123.8 337.9M117.9 348.6Q119.6 347.0 121.7 345.8M117.8 339.7Q115.6 340.3 113.8 341.7M121.8 344.2Q125.6 343.6 128.5 341.3M128.8 364.5Q128.1 367.2 129.6 369.6M147.0 355.1Q146.6 355.1 146.2 354.9M142.9 350.2Q143.9 353.0 146.2 354.9M91.9 365.4Q88.6 364.8 85.3 365.1M85.3 365.1Q84.7 364.7 84.2 364.1M100.5 325.4Q101.3 325.9 102.2 326.0M103.2 337.6Q100.1 338.4 97.0 339.6M105.6 335.6Q104.8 336.8 103.5 336.9M96.6 340.1Q96.7 339.8 97.0 339.6M101.0 332.3Q100.5 333.1 100.6 334.1M105.6 335.6Q105.5 333.4 106.5 331.5M133.0 323.8Q132.8 323.9 132.7 323.7M129.9 344.0Q127.3 345.7 125.7 348.2M134.2 346.7Q133.2 349.5 130.4 350.4M128.5 341.3Q129.4 342.6 129.9 344.0M132.9 361.4Q133.3 361.5 133.6 361.7M142.4 370.9Q144.5 371.3 146.7 371.5M142.4 370.9Q140.8 369.2 141.3 367.0M146.7 371.5Q148.2 370.8 148.5 369.3M147.6 375.6Q146.1 373.7 146.7 371.5M107.5 331.0Q110.8 331.4 113.5 333.3M113.8 333.2Q113.7 333.2 113.5 333.3M108.3 325.0Q107.8 324.4 107.1 324.3M110.3 338.0Q112.6 336.1 113.5 333.3M139.4 366.6Q138.4 366.6 137.7 367.3M134.3 377.1Q134.8 374.3 135.0 371.5M93.1 363.5Q90.0 361.8 89.8 358.3M84.2 364.1Q87.3 361.8 89.1 358.5M89.8 358.3Q89.9 357.5 90.4 357.0M120.6 329.3Q118.2 326.7 116.9 323.3M82.5 356.2Q82.1 355.9 82.0 355.5M82.4 353.5Q80.1 351.5 78.8 348.7"/><path stroke-width="1.5" d="M143.3 334.0Q142.1 332.3 140.2 331.5M140.2 331.5Q141.4 329.5 141.7 327.2M141.7 327.2Q142.0 327.1 142.2 327.1M142.2 327.1Q142.2 323.4 145.1 321.1M140.2 331.5Q138.3 331.7 137.1 333.1M147.8 344.8Q144.7 344.9 141.7 346.0M145.4 339.7Q146.7 341.3 148.5 342.4M136.9 337.1Q136.1 337.6 135.7 338.4M136.2 343.2Q135.0 340.9 135.7 338.4M112.8 362.5Q114.0 362.8 114.8 361.9M111.6 370.7Q114.1 371.0 115.8 372.9M114.8 361.9Q115.7 362.1 116.5 362.6M116.5 362.6Q116.0 366.7 119.0 369.5M115.6 356.1Q115.6 359.1 114.8 361.9M119.6 354.0Q122.6 355.2 125.1 353.2M125.1 353.2Q125.6 355.6 127.5 357.1M121.6 358.8Q123.8 357.6 126.2 358.4M110.9 370.9Q111.2 370.6 111.6 370.7M112.8 362.5Q110.8 362.0 108.9 361.3M110.4 353.4Q108.6 354.3 106.9 355.3M106.9 355.3Q106.6 358.2 108.1 360.6M108.9 361.3Q108.5 361.0 108.1 360.6M106.7 366.8Q104.3 367.8 101.7 368.3M120.0 361.7Q121.9 363.1 123.9 364.5M123.9 364.5Q124.9 364.0 125.8 363.5M89.1 340.4Q88.5 343.1 89.3 345.8M90.8 338.2Q93.2 340.7 96.6 340.1M96.6 340.1Q97.3 342.1 97.8 344.1M97.8 344.1Q97.3 344.8 96.8 345.6M104.3 342.0Q103.0 342.7 102.3 344.0M101.1 375.5Q100.6 373.1 99.2 371.1M101.7 368.3Q101.4 368.2 101.0 368.2M93.2 322.6Q90.4 323.8 87.5 323.5M81.8 326.3Q81.6 324.4 81.7 322.4M81.7 322.4Q83.7 322.2 85.3 320.8M86.7 333.3Q89.9 334.4 90.8 337.7M83.4 336.9Q84.9 335.0 86.7 333.3M80.1 332.2Q83.3 333.1 86.4 331.9M81.8 326.3Q81.1 326.8 80.4 327.2M93.5 322.7Q95.9 322.8 98.1 321.7M140.1 326.2Q137.4 325.6 134.8 326.6M129.1 332.3Q125.4 330.8 121.7 332.2M128.8 338.3Q126.2 338.8 123.8 337.9M135.7 338.4Q132.7 337.8 129.7 337.3M121.7 345.8Q122.2 345.0 121.8 344.2M126.4 371.8Q128.0 370.6 129.6 369.6M130.6 357.2Q132.0 359.2 132.9 361.4M140.2 357.8Q143.0 356.1 146.2 354.9M143.3 361.5Q145.6 358.8 149.1 359.5M138.3 352.1Q138.2 352.7 138.0 353.2M138.0 353.2Q139.9 355.1 140.2 357.8M86.3 371.1Q84.7 372.2 82.9 373.2M101.0 332.3Q103.0 331.9 104.4 330.3M101.0 332.3Q98.9 331.4 98.6 329.2M103.2 337.6Q103.5 337.3 103.5 336.9M103.5 336.9Q102.4 335.1 100.6 334.1M110.5 338.9Q110.1 338.5 110.3 338.0M129.3 332.0Q127.7 329.1 127.5 325.8M129.9 344.0Q131.8 345.4 134.2 345.6M134.2 345.6Q134.3 346.2 134.2 346.7M130.4 350.4Q128.2 350.8 126.3 349.6M126.3 349.6Q125.7 349.1 125.7 348.2M138.3 352.1Q136.6 349.1 134.2 346.7M132.1 355.0Q134.6 352.5 138.0 353.2M130.6 357.2Q131.1 356.0 132.1 355.0M137.6 360.8Q135.5 360.8 133.6 361.7M141.0 372.3Q141.3 371.2 142.4 370.9M139.4 366.6Q140.4 366.7 141.3 367.0M109.0 327.2Q109.2 329.5 107.5 331.0M106.5 331.5Q107.0 331.3 107.5 331.0M117.0 333.7Q115.4 333.6 113.8 333.2M127.5 325.8Q127.1 325.2 126.4 325.3M84.2 364.1Q84.2 364.1 84.2 364.1M93.7 354.3Q93.4 354.5 93.0 354.5M93.0 354.5Q92.2 356.3 90.4 357.0M84.2 364.1Q83.7 362.4 82.2 361.6M82.2 361.6Q79.8 361.6 77.4 361.6M125.6 323.4Q122.8 321.7 119.5 320.9M116.9 323.3Q117.9 321.8 119.5 320.9M87.8 347.1Q87.9 348.2 87.5 349.3M87.8 347.1Q84.0 345.2 79.8 344.9"/><path stroke-width="2.5" d="M110.4 353.4Q112.8 350.9 112.8 347.4M112.8 347.4Q113.0 347.4 113.1 347.3M148.5 348.3Q145.2 347.7 142.9 350.2M116.5 362.6Q118.2 361.8 120.0 361.7M84.8 340.0Q84.8 338.1 83.4 336.9M122.9 369.1Q124.9 370.2 126.4 371.8M109.3 346.4Q106.4 346.5 104.5 348.8M93.2 322.6Q93.3 322.6 93.5 322.7M93.5 322.7Q91.8 325.7 92.4 329.1M129.3 332.0Q129.1 332.1 129.1 332.3M120.5 331.5Q118.7 332.6 117.0 333.7M128.8 338.3Q128.9 339.8 128.5 341.3M140.1 358.8Q142.5 359.2 143.3 361.5M97.0 339.6Q98.5 337.3 97.8 334.6M136.2 343.2Q135.2 344.4 134.2 345.6M140.1 358.8Q139.0 360.0 137.6 360.8M143.7 364.6Q145.9 366.5 148.7 366.9M102.2 326.0Q104.6 325.0 107.1 324.3M108.3 325.0Q108.7 326.1 109.0 327.2M120.5 331.5Q120.0 330.4 120.6 329.3M141.0 372.3Q138.1 372.6 135.6 371.3M114.4 322.2Q115.2 323.3 116.5 323.3"/><path stroke-width="1.0" d="M122.9 369.1Q123.9 366.9 123.9 364.5M112.8 347.4Q111.2 346.3 109.3 346.4M102.3 344.0Q103.5 346.3 104.5 348.8M96.8 345.6Q98.9 348.1 99.7 351.1M106.9 355.3Q105.3 355.4 104.4 354.1M99.8 363.7Q98.9 363.4 98.5 362.5M91.5 380.9Q92.7 375.4 88.7 371.5M93.2 322.6Q91.2 319.3 89.6 315.8M86.4 331.9Q86.6 330.9 87.1 330.0M92.4 329.1Q93.8 329.9 94.5 331.4M98.6 329.2Q96.5 330.2 94.5 331.4M129.7 337.3Q129.5 338.0 128.8 338.3M117.8 339.7Q115.9 336.9 117.0 333.7M86.3 371.1Q84.9 368.2 85.3 365.1M104.4 330.3Q104.4 327.6 102.2 326.0M100.6 334.1Q99.2 334.3 97.8 334.6M143.3 361.5Q143.2 363.1 143.7 364.6M106.6 318.9Q106.5 321.6 107.1 324.3M109.0 327.2Q110.8 328.7 113.1 328.3M134.2 364.7Q133.4 367.3 132.0 369.6M132.0 369.6Q133.5 370.5 135.0 371.5M133.6 361.7Q133.9 363.2 134.2 364.7M82.2 361.6Q81.0 358.8 82.5 356.2M77.4 356.8Q80.1 357.4 82.0 355.5M85.6 352.0Q86.2 350.4 87.5 349.3M82.0 355.5Q82.8 354.6 82.4 353.5M93.0 354.5Q90.7 351.5 87.5 349.3"/></g><g fill="#000"><circle cx="140.6" cy="344.0" r="1.7"/><circle cx="110.9" cy="370.9" r="1.4"/><circle cx="84.8" cy="340.0" r="1.8"/><circle cx="89.1" cy="340.4" r="1.4"/><circle cx="148.5" cy="342.4" r="1.4"/><circle cx="145.9" cy="328.5" r="1.8"/><circle cx="147.3" cy="331.8" r="1.6"/><circle cx="143.3" cy="334.0" r="1.6"/><circle cx="145.1" cy="321.1" r="0.8"/><circle cx="136.9" cy="337.1" r="1.6"/><circle cx="112.8" cy="362.5" r="1.7"/><circle cx="111.6" cy="370.7" r="0.9"/><circle cx="114.8" cy="361.9" r="1.0"/><circle cx="116.5" cy="362.6" r="1.8"/><circle cx="119.6" cy="354.0" r="0.9"/><circle cx="127.5" cy="357.1" r="1.2"/><circle cx="130.6" cy="357.2" r="1.3"/><circle cx="106.9" cy="355.3" r="1.3"/><circle cx="117.9" cy="348.6" r="1.4"/><circle cx="113.1" cy="347.3" r="1.5"/><circle cx="117.8" cy="339.7" r="1.5"/><circle cx="113.8" cy="341.7" r="0.9"/><circle cx="96.6" cy="340.1" r="1.6"/><circle cx="147.8" cy="344.8" r="1.1"/><circle cx="148.5" cy="348.3" r="1.6"/><circle cx="142.9" cy="350.2" r="1.2"/><circle cx="136.2" cy="343.2" r="1.1"/><circle cx="115.8" cy="372.9" r="1.4"/><circle cx="132.1" cy="355.0" r="1.2"/><circle cx="138.3" cy="352.1" r="2.0"/><circle cx="106.7" cy="366.8" r="1.2"/><circle cx="101.7" cy="368.3" r="1.4"/><circle cx="108.0" cy="372.9" r="1.5"/><circle cx="110.5" cy="338.9" r="1.0"/><circle cx="79.0" cy="335.8" r="2.0"/><circle cx="80.1" cy="332.2" r="1.9"/><circle cx="85.7" cy="327.2" r="1.4"/><circle cx="140.1" cy="326.2" r="1.8"/><circle cx="126.4" cy="371.8" r="1.3"/><circle cx="123.9" cy="364.5" r="1.3"/><circle cx="125.8" cy="363.5" r="2.0"/><circle cx="134.3" cy="377.1" r="1.9"/><circle cx="141.0" cy="372.3" r="1.8"/><circle cx="104.3" cy="342.0" r="1.7"/><circle cx="97.8" cy="344.1" r="1.0"/><circle cx="96.8" cy="345.6" r="1.4"/><circle cx="98.6" cy="359.3" r="2.0"/><circle cx="99.7" cy="351.1" r="1.5"/><circle cx="104.4" cy="354.1" r="1.0"/><circle cx="103.4" cy="352.2" r="0.9"/><circle cx="101.0" cy="368.2" r="1.3"/><circle cx="95.5" cy="371.5" r="1.6"/><circle cx="99.8" cy="363.7" r="1.0"/><circle cx="92.2" cy="369.3" r="1.5"/><circle cx="91.9" cy="365.4" r="1.7"/><circle cx="93.1" cy="363.5" r="1.1"/><circle cx="101.0" cy="332.3" r="1.6"/><circle cx="80.4" cy="327.2" r="1.1"/><circle cx="81.7" cy="322.4" r="1.3"/><circle cx="93.2" cy="322.6" r="1.8"/><circle cx="93.5" cy="322.7" r="1.4"/><circle cx="100.5" cy="325.4" r="1.4"/><circle cx="86.4" cy="331.9" r="1.3"/><circle cx="94.6" cy="331.9" r="1.7"/><circle cx="94.5" cy="331.4" r="1.9"/><circle cx="133.0" cy="323.8" r="1.3"/><circle cx="134.8" cy="326.6" r="1.6"/><circle cx="133.9" cy="330.4" r="1.5"/><circle cx="129.3" cy="332.0" r="1.2"/><circle cx="120.5" cy="331.5" r="1.6"/><circle cx="117.0" cy="333.7" r="1.0"/><circle cx="129.1" cy="332.3" r="1.3"/><circle cx="128.8" cy="338.3" r="1.1"/><circle cx="121.7" cy="332.2" r="0.8"/><circle cx="123.8" cy="337.9" r="1.2"/><circle cx="121.8" cy="344.2" r="1.6"/><circle cx="128.5" cy="341.3" r="1.1"/><circle cx="129.6" cy="369.6" r="1.9"/><circle cx="132.9" cy="361.4" r="1.3"/><circle cx="140.2" cy="357.8" r="0.9"/><circle cx="143.3" cy="361.5" r="1.7"/><circle cx="147.0" cy="355.1" r="1.6"/><circle cx="146.2" cy="354.9" r="1.4"/><circle cx="149.1" cy="359.5" r="1.4"/><circle cx="93.0" cy="354.5" r="0.9"/><circle cx="86.3" cy="371.1" r="1.8"/><circle cx="85.3" cy="365.1" r="1.3"/><circle cx="84.2" cy="364.1" r="0.9"/><circle cx="104.4" cy="330.3" r="0.9"/><circle cx="110.3" cy="338.0" r="1.0"/><circle cx="105.6" cy="335.6" r="1.2"/><circle cx="103.2" cy="337.6" r="0.9"/><circle cx="100.6" cy="334.1" r="1.1"/><circle cx="97.0" cy="339.6" r="1.0"/><circle cx="97.8" cy="334.6" r="0.8"/><circle cx="132.7" cy="323.7" r="1.4"/><circle cx="127.5" cy="325.8" r="1.6"/><circle cx="129.9" cy="344.0" r="1.1"/><circle cx="134.2" cy="345.6" r="1.8"/><circle cx="134.2" cy="346.7" r="1.4"/><circle cx="130.4" cy="350.4" r="1.2"/><circle cx="126.3" cy="349.6" r="1.3"/><circle cx="137.6" cy="360.8" r="1.4"/><circle cx="139.4" cy="366.6" r="1.9"/><circle cx="142.4" cy="370.9" r="1.1"/><circle cx="141.3" cy="367.0" r="0.8"/><circle cx="143.7" cy="364.6" r="1.4"/><circle cx="146.7" cy="371.5" r="1.2"/><circle cx="148.5" cy="369.3" r="1.4"/><circle cx="148.7" cy="366.9" r="1.0"/><circle cx="84.2" cy="364.1" r="1.2"/><circle cx="106.6" cy="318.9" r="1.7"/><circle cx="108.3" cy="325.0" r="1.4"/><circle cx="113.1" cy="328.3" r="1.9"/><circle cx="113.5" cy="333.3" r="2.0"/><circle cx="120.6" cy="329.3" r="1.7"/><circle cx="137.7" cy="367.3" r="0.8"/><circle cx="135.0" cy="371.5" r="1.8"/><circle cx="135.6" cy="371.3" r="1.4"/><circle cx="89.8" cy="358.3" r="1.0"/><circle cx="89.1" cy="358.5" r="0.9"/><circle cx="90.4" cy="357.0" r="1.0"/><circle cx="82.2" cy="361.6" r="1.5"/><circle cx="77.4" cy="361.6" r="2.0"/><circle cx="82.5" cy="356.2" r="1.0"/><circle cx="116.5" cy="323.3" r="1.8"/><circle cx="116.9" cy="323.3" r="1.1"/><circle cx="125.6" cy="323.4" r="0.9"/><circle cx="119.5" cy="320.9" r="2.0"/><circle cx="77.4" cy="356.8" r="1.9"/><circle cx="82.0" cy="355.5" r="1.5"/><circle cx="85.6" cy="352.0" r="1.4"/><circle cx="82.4" cy="353.5" r="0.8"/><circle cx="87.5" cy="349.3" r="1.5"/><circle cx="79.8" cy="344.9" r="0.8"/></g></g></g>
<rect x="146.9" y="324.2" width="61.6" height="45.6" fill="#f4f2f4"/>
<clipPath id="ec22"><rect x="146.9" y="324.2" width="61.6" height="45.6"/></clipPath>
<g clip-path="url(#ec22)"><g filter="url(#tPnk)"><rect x="146.9" y="324.2" width="61.6" height="45.6" fill="none"/><path d="M154.9 323.2 L172.9 323.2 C170.9 334.2 177.9 342.2 173.9 351.2 C169.9 358.2 172.9 364.2 168.9 370.8 L152.9 370.8 C155.9 356.2 151.9 340.2 154.9 323.2 Z" fill="#000"/><g fill="none" stroke="#000" stroke-linecap="round"><path stroke-width="3.5" d="M185.3 323.0Q188.9 322.7 192.2 324.3M203.0 347.9Q200.7 351.9 200.1 356.5M197.7 371.2Q198.0 371.2 198.2 371.3M183.6 328.9Q180.6 331.1 177.3 332.7M177.0 336.4Q177.9 336.7 178.0 337.6M173.8 314.7Q173.5 318.7 173.6 322.6"/><path stroke-width="3.0" d="M184.9 322.6Q183.1 318.5 184.8 314.4M192.2 324.3Q193.8 319.7 197.6 316.7M177.3 332.7Q176.6 334.5 177.0 336.4M188.6 355.4Q188.9 355.3 189.1 355.1M191.3 344.4Q196.4 342.1 201.6 343.9M175.8 376.8Q173.4 371.5 176.7 366.6M187.9 365.8Q186.8 367.6 184.6 367.5M177.3 332.7Q176.4 327.5 172.1 324.6M198.8 331.3Q197.8 337.7 202.8 341.8M204.6 322.2Q204.8 324.3 205.3 326.4"/><path stroke-width="4.0" d="M212.1 361.5Q210.8 364.5 208.8 367.1M203.0 347.9Q209.0 348.1 213.2 352.5M210.9 357.3Q206.3 356.8 202.3 359.3M203.3 366.4Q205.9 367.9 208.8 367.1M203.3 366.4Q200.7 363.1 202.3 359.3M183.6 328.9Q188.1 330.6 189.4 335.2M185.3 323.0Q184.6 326.0 183.6 328.9M189.7 346.5Q184.2 345.0 178.6 345.5M188.6 355.4Q185.2 358.4 180.9 356.8M180.9 356.8Q179.6 355.2 177.7 354.3M177.5 346.8Q178.3 346.4 178.6 345.5M194.5 357.3Q192.0 355.6 189.1 355.1M184.6 367.5Q182.1 366.2 179.4 365.3M202.8 341.8Q208.0 339.9 212.9 337.6M201.6 343.9Q202.1 342.8 202.8 341.8"/><path stroke-width="4.5" d="M208.8 367.1Q211.2 369.3 213.5 371.6M194.1 367.3Q193.7 362.3 194.5 357.3M203.0 347.9Q203.2 345.6 201.6 343.9M179.4 365.3Q177.8 365.3 176.7 366.6M189.1 375.4Q193.9 374.3 197.7 371.2M205.3 326.4Q210.5 326.0 213.5 330.4"/><path stroke-width="2.5" d="M203.3 366.4Q199.5 367.5 198.2 371.3M177.7 354.3Q175.5 350.6 177.5 346.8M185.5 373.7Q186.3 370.4 184.6 367.5M180.9 356.8Q182.1 361.4 179.4 365.3M198.2 371.3Q200.4 373.3 200.3 376.2"/></g><g fill="#000"><circle cx="205.3" cy="326.4" r="2.6"/><circle cx="198.8" cy="331.3" r="1.7"/><circle cx="202.8" cy="341.8" r="2.6"/><circle cx="212.9" cy="337.6" r="2.6"/><circle cx="185.3" cy="323.0" r="3.0"/><circle cx="197.7" cy="371.2" r="2.5"/><circle cx="184.9" cy="322.6" r="1.9"/><circle cx="184.8" cy="314.4" r="3.0"/><circle cx="204.6" cy="322.2" r="2.7"/><circle cx="192.2" cy="324.3" r="2.6"/><circle cx="197.6" cy="316.7" r="2.8"/><circle cx="194.5" cy="357.3" r="2.5"/><circle cx="212.1" cy="361.5" r="2.7"/><circle cx="203.3" cy="366.4" r="3.1"/><circle cx="198.2" cy="371.3" r="2.1"/><circle cx="213.5" cy="371.6" r="2.0"/><circle cx="213.2" cy="352.5" r="2.1"/><circle cx="210.9" cy="357.3" r="2.6"/><circle cx="202.3" cy="359.3" r="2.0"/><circle cx="200.1" cy="356.5" r="1.8"/><circle cx="191.3" cy="344.4" r="2.7"/><circle cx="201.6" cy="343.9" r="3.2"/><circle cx="183.6" cy="328.9" r="2.6"/><circle cx="177.3" cy="332.7" r="2.3"/><circle cx="177.0" cy="336.4" r="3.3"/><circle cx="178.0" cy="337.6" r="3.3"/><circle cx="189.7" cy="346.5" r="3.3"/><circle cx="188.6" cy="355.4" r="1.7"/><circle cx="189.1" cy="355.1" r="1.8"/><circle cx="177.7" cy="354.3" r="3.3"/><circle cx="177.5" cy="346.8" r="3.0"/><circle cx="178.6" cy="345.5" r="3.2"/><circle cx="175.8" cy="376.8" r="1.8"/><circle cx="184.6" cy="367.5" r="2.8"/><circle cx="200.3" cy="376.2" r="2.3"/><circle cx="173.8" cy="314.7" r="2.3"/><circle cx="173.6" cy="322.6" r="3.3"/><circle cx="172.1" cy="324.6" r="1.8"/></g></g><g filter="url(#soft03)"><g fill="#f3e6f2"><ellipse cx="169.9" cy="358.3" rx="1.1" ry="1.2" transform="rotate(80 169.9 358.3)"/><ellipse cx="160.6" cy="368.2" rx="1.8" ry="1.5" transform="rotate(156 160.6 368.2)"/><ellipse cx="160.4" cy="340.9" rx="1.9" ry="1.7" transform="rotate(0 160.4 340.9)"/><ellipse cx="174.0" cy="324.7" rx="0.9" ry="0.8" transform="rotate(64 174.0 324.7)"/><ellipse cx="162.4" cy="325.4" rx="1.3" ry="1.5" transform="rotate(103 162.4 325.4)"/><ellipse cx="155.9" cy="334.9" rx="1.1" ry="1.6" transform="rotate(143 155.9 334.9)"/><ellipse cx="158.0" cy="331.7" rx="0.8" ry="0.9" transform="rotate(66 158.0 331.7)"/><ellipse cx="171.8" cy="328.0" rx="0.6" ry="0.6" transform="rotate(9 171.8 328.0)"/><ellipse cx="156.4" cy="365.7" rx="0.6" ry="0.8" transform="rotate(179 156.4 365.7)"/><ellipse cx="171.3" cy="368.5" rx="0.8" ry="1.5" transform="rotate(70 171.3 368.5)"/><ellipse cx="166.8" cy="368.3" rx="0.9" ry="0.7" transform="rotate(85 166.8 368.3)"/><ellipse cx="170.0" cy="364.7" rx="1.2" ry="1.0" transform="rotate(153 170.0 364.7)"/><ellipse cx="168.3" cy="349.2" rx="2.0" ry="1.3" transform="rotate(77 168.3 349.2)"/><ellipse cx="162.4" cy="363.1" rx="0.6" ry="0.7" transform="rotate(2 162.4 363.1)"/><ellipse cx="168.5" cy="336.0" rx="1.1" ry="0.8" transform="rotate(25 168.5 336.0)"/><ellipse cx="159.3" cy="360.0" rx="1.1" ry="1.2" transform="rotate(22 159.3 360.0)"/><ellipse cx="155.3" cy="354.5" rx="1.8" ry="1.3" transform="rotate(83 155.3 354.5)"/><ellipse cx="173.9" cy="332.2" rx="0.5" ry="0.9" transform="rotate(105 173.9 332.2)"/><ellipse cx="172.8" cy="352.2" rx="0.5" ry="0.9" transform="rotate(63 172.8 352.2)"/><ellipse cx="165.3" cy="352.4" rx="0.8" ry="1.1" transform="rotate(137 165.3 352.4)"/><ellipse cx="158.3" cy="351.8" rx="1.2" ry="1.0" transform="rotate(39 158.3 351.8)"/><ellipse cx="164.1" cy="355.5" rx="0.8" ry="1.0" transform="rotate(81 164.1 355.5)"/><ellipse cx="164.0" cy="335.3" rx="0.8" ry="0.6" transform="rotate(63 164.0 335.3)"/><ellipse cx="163.1" cy="345.4" rx="2.2" ry="1.6" transform="rotate(13 163.1 345.4)"/><ellipse cx="164.8" cy="360.6" rx="1.0" ry="1.8" transform="rotate(140 164.8 360.6)"/><ellipse cx="170.1" cy="330.9" rx="0.8" ry="1.0" transform="rotate(8 170.1 330.9)"/></g></g></g>
<rect x="210.3" y="324.2" width="61.6" height="45.6" fill="#f4f2f4"/>
<clipPath id="ec32"><rect x="210.3" y="324.2" width="61.6" height="45.6"/></clipPath>
<g clip-path="url(#ec32)"><g filter="url(#tPnk)"><rect x="210.3" y="324.2" width="61.6" height="45.6" fill="none"/><polyline points="228.9,320.4 226.8,324.2 224.9,328.0 223.3,331.8 222.1,335.6 221.1,339.4 220.5,343.2 220.2,347.0 220.1,350.8 220.4,354.6 221.0,358.4 221.9,362.2 223.1,366.0 224.6,369.8 226.4,373.6" fill="none" stroke="#000" stroke-width="3.6"/><g fill="none" stroke="#000" stroke-linecap="round"><path stroke-width="3.0" d="M254.9 334.6Q253.9 336.3 252.2 337.3M254.9 334.6Q257.8 334.5 260.6 334.8M252.2 337.3Q251.0 341.5 254.0 344.6M232.3 324.6Q232.3 326.7 234.2 327.9M223.0 358.3Q225.6 358.8 227.5 357.1M254.0 344.6Q253.8 345.2 253.3 345.4M258.4 354.3Q259.6 354.1 260.5 353.3M266.1 356.9Q265.5 356.8 265.0 357.2M230.0 370.7Q230.2 374.5 228.0 377.5M223.4 368.3Q224.7 368.3 225.8 368.0M232.2 360.7Q228.4 363.8 225.8 368.0M264.9 320.8Q263.7 324.2 262.0 327.4M256.4 325.0Q256.3 322.2 256.6 319.3M267.4 336.6Q269.8 335.9 270.6 333.5M269.4 322.1Q270.9 324.0 270.1 326.2M271.3 341.3Q270.1 339.9 268.2 339.8M270.2 358.9Q272.3 358.1 273.4 356.2M273.4 356.2Q273.4 355.7 273.4 355.2M255.8 374.1Q255.3 371.8 254.4 369.5"/><path stroke-width="2.0" d="M261.2 344.5Q261.3 344.4 261.4 344.2M261.4 344.2Q259.1 339.7 260.6 334.8M260.6 334.8Q260.7 334.7 260.8 334.6M251.7 327.4Q248.1 328.5 246.3 331.8M248.5 337.0Q245.6 337.4 244.2 340.0M234.2 327.9Q233.5 330.3 232.9 332.8M220.8 360.5Q221.9 359.4 223.0 358.3M223.0 358.3Q219.9 355.6 219.3 351.5M261.2 344.5Q260.9 347.2 262.4 349.3M253.6 353.6Q255.8 355.0 258.4 354.3M266.1 356.9Q266.1 353.4 269.0 351.6M258.9 362.1Q255.9 359.2 251.8 359.6M267.4 336.6Q263.8 336.7 260.8 334.6M261.4 344.2Q262.1 344.3 262.7 343.9M271.8 346.5Q271.6 346.3 271.6 346.1M270.2 358.9Q269.3 360.6 270.3 362.3M270.3 362.3Q272.9 362.8 274.6 365.0M270.2 358.9Q267.8 358.6 266.1 356.9M266.0 369.3Q266.2 366.8 264.3 365.3M258.9 362.1Q259.4 363.1 260.2 364.0M271.3 341.3Q272.6 339.9 274.2 339.1"/><path stroke-width="3.5" d="M252.4 327.6Q253.5 331.2 254.9 334.6M256.4 325.0Q259.8 324.7 262.0 327.4M232.7 322.5Q229.5 321.5 227.9 318.6M241.4 328.8Q243.6 326.5 244.0 323.4M246.3 331.8Q244.1 331.7 242.3 330.4M234.2 327.9Q237.7 329.4 241.4 328.8M239.7 337.0Q237.0 333.7 232.9 332.8M232.9 332.8Q230.5 333.2 229.6 335.5M222.8 341.9Q224.2 342.3 225.3 343.1M241.8 370.9Q240.4 366.2 242.7 361.9M260.5 353.3Q261.7 356.5 265.0 357.2M235.5 370.2Q232.9 371.5 230.0 370.7M241.8 371.0Q247.9 372.7 252.6 368.6M270.6 333.5Q270.7 333.2 270.6 332.8M276.0 323.9Q275.2 325.7 273.4 326.7M270.1 326.2Q271.7 326.8 273.4 326.7M252.6 368.6Q253.6 368.9 254.4 369.5M265.0 357.2Q262.1 360.0 262.4 364.0"/><path stroke-width="4.0" d="M252.4 327.6Q254.1 325.8 256.4 325.0M252.4 327.6Q252.1 327.6 251.7 327.4M246.3 331.8Q246.0 335.0 248.5 337.0M224.9 333.4Q223.4 334.2 222.0 335.1M237.2 371.3Q236.0 371.2 235.5 370.2M267.4 336.6Q267.4 338.3 268.2 339.8M262.4 364.0Q261.3 363.6 260.2 364.0M274.4 368.6Q270.2 368.4 266.0 369.3M270.3 362.3Q268.1 365.4 264.3 365.3"/><path stroke-width="2.5" d="M246.9 322.5Q248.1 321.4 248.1 319.9M246.9 322.5Q245.2 322.1 244.0 323.4M232.3 324.6Q232.2 323.5 232.7 322.5M226.9 346.5Q226.0 347.2 225.7 348.4M226.9 346.5Q229.2 347.2 231.4 346.5M227.5 357.1Q226.3 352.8 225.7 348.4M226.9 346.5Q226.2 344.8 225.3 343.1M225.3 343.1Q226.2 339.0 229.7 336.5M232.5 358.8Q232.7 359.8 232.2 360.7M237.2 371.3Q239.5 371.6 241.8 370.9M237.2 371.3Q233.7 375.8 232.1 381.3M241.8 370.9Q241.8 370.9 241.8 371.0M262.4 349.3Q260.3 350.8 260.5 353.3M262.4 349.3Q265.2 351.7 268.8 350.8M269.0 351.6Q269.1 351.1 268.8 350.8M230.0 370.7Q228.2 368.8 225.8 368.0M262.9 329.2Q265.5 329.8 268.1 329.2M268.1 329.2Q268.8 331.4 270.6 332.8M271.3 341.3Q272.0 343.7 271.6 346.1M271.8 346.5Q272.9 346.5 273.9 347.0M273.4 355.2Q275.6 354.3 276.6 352.2M264.3 365.3Q263.6 364.3 262.4 364.0M270.6 333.5Q272.7 335.3 274.4 337.4"/></g><g fill="#000"><circle cx="252.4" cy="327.6" r="1.4"/><circle cx="251.7" cy="327.4" r="2.4"/><circle cx="254.9" cy="334.6" r="2.8"/><circle cx="261.2" cy="344.5" r="2.4"/><circle cx="234.2" cy="327.9" r="1.9"/><circle cx="241.4" cy="328.8" r="3.0"/><circle cx="232.5" cy="358.8" r="2.6"/><circle cx="225.7" cy="348.4" r="1.6"/><circle cx="237.2" cy="371.3" r="2.9"/><circle cx="232.1" cy="381.3" r="1.7"/><circle cx="242.7" cy="361.9" r="2.3"/><circle cx="253.6" cy="353.6" r="2.4"/><circle cx="262.9" cy="329.2" r="1.5"/><circle cx="264.9" cy="320.8" r="2.5"/><circle cx="256.4" cy="325.0" r="1.7"/><circle cx="262.0" cy="327.4" r="2.2"/><circle cx="252.2" cy="337.3" r="2.1"/><circle cx="254.0" cy="344.6" r="2.6"/><circle cx="262.4" cy="349.3" r="2.4"/><circle cx="261.4" cy="344.2" r="2.1"/><circle cx="267.4" cy="336.6" r="3.0"/><circle cx="260.6" cy="334.8" r="1.9"/><circle cx="260.8" cy="334.6" r="2.7"/><circle cx="232.7" cy="322.5" r="2.4"/><circle cx="227.9" cy="318.6" r="2.3"/><circle cx="246.3" cy="331.8" r="2.3"/><circle cx="242.3" cy="330.4" r="3.0"/><circle cx="248.5" cy="337.0" r="2.0"/><circle cx="244.2" cy="340.0" r="2.1"/><circle cx="246.9" cy="322.5" r="2.6"/><circle cx="248.1" cy="319.9" r="1.8"/><circle cx="244.0" cy="323.4" r="2.1"/><circle cx="231.4" cy="346.5" r="1.9"/><circle cx="222.0" cy="335.1" r="1.3"/><circle cx="222.8" cy="341.9" r="2.0"/><circle cx="225.3" cy="343.1" r="2.3"/><circle cx="239.7" cy="337.0" r="2.5"/><circle cx="232.9" cy="332.8" r="2.6"/><circle cx="229.6" cy="335.5" r="2.4"/><circle cx="229.7" cy="336.5" r="1.6"/><circle cx="219.3" cy="351.5" r="2.7"/><circle cx="232.2" cy="360.7" r="2.9"/><circle cx="235.5" cy="370.2" r="3.0"/><circle cx="241.8" cy="371.0" r="2.2"/><circle cx="266.1" cy="356.9" r="2.2"/><circle cx="268.1" cy="329.2" r="2.3"/><circle cx="253.3" cy="345.4" r="1.5"/><circle cx="258.4" cy="354.3" r="1.6"/><circle cx="260.5" cy="353.3" r="2.6"/><circle cx="269.0" cy="351.6" r="2.8"/><circle cx="268.8" cy="350.8" r="2.7"/><circle cx="271.8" cy="346.5" r="2.0"/><circle cx="273.9" cy="347.0" r="2.8"/><circle cx="230.0" cy="370.7" r="2.4"/><circle cx="228.0" cy="377.5" r="1.6"/><circle cx="223.4" cy="368.3" r="1.9"/><circle cx="225.8" cy="368.0" r="1.4"/><circle cx="258.9" cy="362.1" r="2.7"/><circle cx="252.6" cy="368.6" r="1.7"/><circle cx="270.3" cy="362.3" r="2.3"/><circle cx="274.6" cy="365.0" r="2.8"/><circle cx="274.4" cy="368.6" r="2.8"/><circle cx="256.6" cy="319.3" r="1.4"/><circle cx="276.0" cy="323.9" r="1.3"/><circle cx="269.4" cy="322.1" r="2.9"/><circle cx="270.1" cy="326.2" r="1.9"/><circle cx="271.3" cy="341.3" r="2.0"/><circle cx="271.6" cy="346.1" r="1.9"/><circle cx="273.4" cy="356.2" r="2.8"/><circle cx="273.4" cy="355.2" r="2.5"/><circle cx="276.6" cy="352.2" r="2.4"/><circle cx="255.8" cy="374.1" r="2.9"/><circle cx="254.4" cy="369.5" r="1.4"/><circle cx="266.0" cy="369.3" r="3.0"/><circle cx="264.3" cy="365.3" r="1.6"/><circle cx="262.4" cy="364.0" r="2.4"/><circle cx="260.2" cy="364.0" r="2.2"/><circle cx="274.2" cy="339.1" r="1.7"/><circle cx="274.4" cy="337.4" r="1.6"/></g></g></g>
<rect x="22.799999999999997" y="319.5" width="3" height="0.5" fill="#555"/>
<rect x="85.80000000000001" y="319.5" width="3" height="0.5" fill="#555"/>
<rect x="149.3" y="319.5" width="3" height="0.5" fill="#555"/>
<rect x="212.70000000000002" y="319.5" width="3" height="0.5" fill="#555"/>
<rect x="22.799999999999997" y="365.8" width="3" height="0.5" fill="#555"/>
<rect x="85.80000000000001" y="365.8" width="3" height="0.5" fill="#555"/>
<rect x="149.3" y="365.8" width="3" height="0.5" fill="#555"/>
<rect x="212.70000000000002" y="365.8" width="3" height="0.5" fill="#555"/>
<rect x="20.95" y="231.75" width="60.5" height="45.199999999999996" fill="none" stroke="#595959" stroke-width="1.1"/>
<rect x="83.95" y="231.75" width="60.5" height="45.199999999999996" fill="none" stroke="#595959" stroke-width="1.1"/>
<rect x="147.45000000000002" y="231.75" width="60.5" height="45.199999999999996" fill="none" stroke="#595959" stroke-width="1.1"/>
<rect x="210.85000000000002" y="231.75" width="60.5" height="45.199999999999996" fill="none" stroke="#595959" stroke-width="1.1"/>
<rect x="20.95" y="278.45" width="60.5" height="44.4" fill="none" stroke="#595959" stroke-width="1.1"/>
<rect x="83.95" y="278.45" width="60.5" height="44.4" fill="none" stroke="#595959" stroke-width="1.1"/>
<rect x="147.45000000000002" y="278.45" width="60.5" height="44.4" fill="none" stroke="#595959" stroke-width="1.1"/>
<rect x="210.85000000000002" y="278.45" width="60.5" height="44.4" fill="none" stroke="#595959" stroke-width="1.1"/>
<rect x="20.95" y="324.75" width="60.5" height="44.5" fill="none" stroke="#595959" stroke-width="1.1"/>
<rect x="83.95" y="324.75" width="60.5" height="44.5" fill="none" stroke="#595959" stroke-width="1.1"/>
<rect x="147.45000000000002" y="324.75" width="60.5" height="44.5" fill="none" stroke="#595959" stroke-width="1.1"/>
<rect x="210.85000000000002" y="324.75" width="60.5" height="44.5" fill="none" stroke="#595959" stroke-width="1.1"/>
</g>
<g id="panelF">
<line x1="321.6" y1="242.29999999999995" x2="321.6" y2="353.0" stroke="#111" stroke-width="1.3"/>
<line x1="321" y1="352.4" x2="536" y2="352.4" stroke="#111" stroke-width="1.3"/>
<line x1="318" y1="352.40" x2="321.6" y2="352.40" stroke="#111" stroke-width="1"/>
<text class="b" x="315.2" y="355.00" font-size="8.6" text-anchor="end" textLength="5.9" lengthAdjust="spacingAndGlyphs" fill="#111">0</text>
<line x1="318" y1="338.70" x2="321.6" y2="338.70" stroke="#111" stroke-width="1"/>
<text class="b" x="315.2" y="341.30" font-size="8.6" text-anchor="end" textLength="5.9" lengthAdjust="spacingAndGlyphs" fill="#111">5</text>
<line x1="318" y1="325.00" x2="321.6" y2="325.00" stroke="#111" stroke-width="1"/>
<text class="b" x="315.2" y="327.60" font-size="8.6" text-anchor="end" textLength="11.8" lengthAdjust="spacingAndGlyphs" fill="#111">10</text>
<line x1="318" y1="311.30" x2="321.6" y2="311.30" stroke="#111" stroke-width="1"/>
<text class="b" x="315.2" y="313.90" font-size="8.6" text-anchor="end" textLength="11.8" lengthAdjust="spacingAndGlyphs" fill="#111">15</text>
<line x1="318" y1="297.60" x2="321.6" y2="297.60" stroke="#111" stroke-width="1"/>
<text class="b" x="315.2" y="300.20" font-size="8.6" text-anchor="end" textLength="11.8" lengthAdjust="spacingAndGlyphs" fill="#111">20</text>
<line x1="318" y1="283.90" x2="321.6" y2="283.90" stroke="#111" stroke-width="1"/>
<text class="b" x="315.2" y="286.50" font-size="8.6" text-anchor="end" textLength="11.8" lengthAdjust="spacingAndGlyphs" fill="#111">25</text>
<line x1="318" y1="270.20" x2="321.6" y2="270.20" stroke="#111" stroke-width="1"/>
<text class="b" x="315.2" y="272.80" font-size="8.6" text-anchor="end" textLength="11.8" lengthAdjust="spacingAndGlyphs" fill="#111">30</text>
<line x1="318" y1="256.50" x2="321.6" y2="256.50" stroke="#111" stroke-width="1"/>
<text class="b" x="315.2" y="259.10" font-size="8.6" text-anchor="end" textLength="11.8" lengthAdjust="spacingAndGlyphs" fill="#111">35</text>
<line x1="318" y1="242.80" x2="321.6" y2="242.80" stroke="#111" stroke-width="1"/>
<text class="b" x="315.2" y="245.40" font-size="8.6" text-anchor="end" textLength="11.8" lengthAdjust="spacingAndGlyphs" fill="#111">40</text>
<line x1="348.5" y1="352.4" x2="348.5" y2="355.4" stroke="#111" stroke-width="1"/>
<text class="b" x="351" y="365" font-size="7.65" text-anchor="middle" fill="#111">Total cells</text>
<line x1="401.8" y1="352.4" x2="401.8" y2="355.4" stroke="#111" stroke-width="1"/>
<text class="b" x="403.6" y="365" font-size="7.65" text-anchor="middle" fill="#111">Macrophages</text>
<line x1="455.3" y1="352.4" x2="455.3" y2="355.4" stroke="#111" stroke-width="1"/>
<text class="b" x="458.4" y="365" font-size="7.65" text-anchor="middle" fill="#111">Lymphocytes</text>
<line x1="508.3" y1="352.4" x2="508.3" y2="355.4" stroke="#111" stroke-width="1"/>
<text class="b" x="510" y="365" font-size="7.65" text-anchor="middle" fill="#111">Neutrophils</text>
<text class="b" transform="translate(295.6,297) rotate(-90)" font-size="7.95" text-anchor="middle" fill="#111">The number of cells (10<tspan font-size="4.4" dy="-2.4">3</tspan><tspan dy="2.4">/ml BAL)</tspan></text>
<path d="M331.8 325.00 V335.96 M329.6 325.00 H334.0 M329.6 335.96 H334.0" stroke="#222" stroke-width="1.15" fill="none"/>
<rect x="328.0" y="327.74" width="7.6" height="7.40" fill="#bcd9f7" stroke="#222" stroke-width="1.15"/>
<line x1="328.0" y1="330.48" x2="335.6" y2="330.48" stroke="#222" stroke-width="0.8"/>
<path d="M343.3 323.63 V339.25 M341.1 323.63 H345.5 M341.1 339.25 H345.5" stroke="#222" stroke-width="1.15" fill="none"/>
<rect x="339.5" y="331.85" width="7.6" height="0.55" fill="#fffde0" stroke="#222" stroke-width="1.15"/>
<line x1="339.2" y1="332.12" x2="347.40000000000003" y2="332.12" stroke="#222" stroke-width="0.8"/>
<path d="M354.6 253.76 V288.56 M352.40000000000003 253.76 H356.8 M352.40000000000003 288.56 H356.8" stroke="#222" stroke-width="1.15" fill="none"/>
<rect x="350.8" y="262.53" width="7.6" height="21.37" fill="#ffd5d5" stroke="#222" stroke-width="1.15"/>
<line x1="350.8" y1="275.68" x2="358.40000000000003" y2="275.68" stroke="#222" stroke-width="0.8"/>
<path d="M365.7 283.90 V327.19 M363.5 283.90 H367.9 M363.5 327.19 H367.9" stroke="#222" stroke-width="1.15" fill="none"/>
<rect x="361.9" y="286.09" width="7.6" height="36.17" fill="#f0c4fb" stroke="#222" stroke-width="1.15"/>
<line x1="361.9" y1="316.78" x2="369.5" y2="316.78" stroke="#222" stroke-width="0.8"/>
<path d="M385.3 333.22 V340.62 M383.1 333.22 H387.5 M383.1 340.62 H387.5" stroke="#222" stroke-width="1.15" fill="none"/>
<rect x="381.5" y="334.59" width="7.6" height="5.48" fill="#bcd9f7" stroke="#222" stroke-width="1.15"/>
<line x1="381.5" y1="337.06" x2="389.1" y2="337.06" stroke="#222" stroke-width="0.8"/>
<path d="M396.2 331.85 V344.18 M394.0 331.85 H398.4 M394.0 344.18 H398.4" stroke="#222" stroke-width="1.15" fill="none"/>
<rect x="392.4" y="337.06" width="7.6" height="0.55" fill="#fffde0" stroke="#222" stroke-width="1.15"/>
<line x1="392.09999999999997" y1="337.33" x2="400.3" y2="337.33" stroke="#222" stroke-width="0.8"/>
<path d="M407.7 281.71 V300.89 M405.5 281.71 H409.9 M405.5 300.89 H409.9" stroke="#222" stroke-width="1.15" fill="none"/>
<rect x="403.9" y="289.38" width="7.6" height="11.51" fill="#ffd5d5" stroke="#222" stroke-width="1.15"/>
<line x1="403.9" y1="300.34" x2="411.5" y2="300.34" stroke="#222" stroke-width="0.8"/>
<path d="M418.9 308.56 V332.67 M416.7 308.56 H421.09999999999997 M416.7 332.67 H421.09999999999997" stroke="#222" stroke-width="1.15" fill="none"/>
<rect x="415.09999999999997" y="309.11" width="7.6" height="21.37" fill="#f0c4fb" stroke="#222" stroke-width="1.15"/>
<line x1="415.09999999999997" y1="327.19" x2="422.7" y2="327.19" stroke="#222" stroke-width="0.8"/>
<path d="M438.8 345.00 V347.74 M436.6 345.00 H441.0 M436.6 347.74 H441.0" stroke="#222" stroke-width="1.15" fill="none"/>
<rect x="435.0" y="345.28" width="7.6" height="2.19" fill="#bcd9f7" stroke="#222" stroke-width="1.15"/>
<line x1="435.0" y1="346.37" x2="442.6" y2="346.37" stroke="#222" stroke-width="0.8"/>
<path d="M450.0 344.45 V348.29 M447.8 344.45 H452.2 M447.8 348.29 H452.2" stroke="#222" stroke-width="1.15" fill="none"/>
<rect x="446.2" y="347.19" width="7.6" height="1.10" fill="#fffde0" stroke="#222" stroke-width="1.15"/>
<line x1="445.9" y1="348.02" x2="454.1" y2="348.02" stroke="#222" stroke-width="0.8"/>
<path d="M461.7 325.55 V343.36 M459.5 325.55 H463.9 M459.5 343.36 H463.9" stroke="#222" stroke-width="1.15" fill="none"/>
<rect x="457.9" y="327.19" width="7.6" height="10.69" fill="#ffd5d5" stroke="#222" stroke-width="1.15"/>
<line x1="457.9" y1="332.67" x2="465.5" y2="332.67" stroke="#222" stroke-width="0.8"/>
<path d="M471.8 331.03 V347.47 M469.6 331.03 H474.0 M469.6 347.47 H474.0" stroke="#222" stroke-width="1.15" fill="none"/>
<rect x="468.0" y="333.77" width="7.6" height="11.78" fill="#f0c4fb" stroke="#222" stroke-width="1.15"/>
<line x1="468.0" y1="340.07" x2="475.6" y2="340.07" stroke="#222" stroke-width="0.8"/>
<path d="M491.4 351.99 V352.26 M489.2 351.99 H493.59999999999997 M489.2 352.26 H493.59999999999997" stroke="#222" stroke-width="1.15" fill="none"/>
<rect x="487.59999999999997" y="351.99" width="7.6" height="0.30" fill="#bcd9f7" stroke="#222" stroke-width="1.15"/>
<line x1="487.59999999999997" y1="352.13" x2="495.2" y2="352.13" stroke="#222" stroke-width="0.8"/>
<path d="M502.0 351.99 V352.26 M499.8 351.99 H504.2 M499.8 352.26 H504.2" stroke="#222" stroke-width="1.15" fill="none"/>
<rect x="498.2" y="351.99" width="7.6" height="0.30" fill="#fffde0" stroke="#222" stroke-width="1.15"/>
<line x1="497.9" y1="352.13" x2="506.1" y2="352.13" stroke="#222" stroke-width="0.8"/>
<path d="M513.8 347.47 V351.58 M511.59999999999997 347.47 H516.0 M511.59999999999997 351.58 H516.0" stroke="#222" stroke-width="1.15" fill="none"/>
<rect x="509.99999999999994" y="348.02" width="7.6" height="3.01" fill="#ffd5d5" stroke="#222" stroke-width="1.15"/>
<line x1="509.99999999999994" y1="349.66" x2="517.5999999999999" y2="349.66" stroke="#222" stroke-width="0.8"/>
<path d="M525.8 348.84 V352.13 M523.5999999999999 348.84 H528.0 M523.5999999999999 352.13 H528.0" stroke="#222" stroke-width="1.15" fill="none"/>
<rect x="522.0" y="350.76" width="7.6" height="1.10" fill="#f0c4fb" stroke="#222" stroke-width="1.15"/>
<line x1="522.0" y1="351.30" x2="529.5999999999999" y2="351.30" stroke="#222" stroke-width="0.8"/>
<path d="M331.8 320.5 V242.8 H353.9 V250.5" fill="none" stroke="#222" stroke-width="0.95"/>
<path d="M355.8 250.5 V242.8 H365.8 V282.3" fill="none" stroke="#222" stroke-width="0.95"/>
<path d="M385.2 332 V273.4 H407 V279.7" fill="none" stroke="#222" stroke-width="0.95"/>
<path d="M408.6 279.7 V273.4 H419 V304" fill="none" stroke="#222" stroke-width="0.95"/>
<path d="M438.6 343.4 V322.3 H461.2 V325" fill="none" stroke="#222" stroke-width="0.95"/>
<path d="M462.4 325 V322.3 H472.4 V329.5" fill="none" stroke="#222" stroke-width="0.95"/>
<path d="M491.4 349.8 V342.2 H513.4 V345" fill="none" stroke="#222" stroke-width="0.95"/>
<path d="M514.6 345 V342.2 H525.8 V346.5" fill="none" stroke="#222" stroke-width="0.95"/>
<text class="w" letter-spacing="0.7" x="343.6" y="243.2" font-size="9.6" text-anchor="middle" fill="#111">***</text>
<text class="w" letter-spacing="0.7" x="361.7" y="243.2" font-size="9.6" text-anchor="middle" fill="#111">*</text>
<text class="w" letter-spacing="0.7" x="396.4" y="273.8" font-size="9.6" text-anchor="middle" fill="#111">***</text>
<text class="w" letter-spacing="0.7" x="414.4" y="273.8" font-size="9.6" text-anchor="middle" fill="#111">**</text>
<text class="w" letter-spacing="0.7" x="450.8" y="322.7" font-size="9.6" text-anchor="middle" fill="#111">**</text>
<text class="w" x="468" y="321.3" font-size="5.9" text-anchor="middle" fill="#111">ns</text>
<text class="w" x="504.4" y="341.8" font-size="5.9" text-anchor="middle" fill="#111">ns</text>
<text class="w" x="521.2" y="341.8" font-size="5.9" text-anchor="middle" fill="#111">ns</text>
<rect x="481.2" y="250" width="14.2" height="4.9" fill="#bcd9f7" stroke="#333" stroke-width="0.7"/>
<text class="b" x="498.4" y="255.1" font-size="6.6" fill="#111">CTL</text>
<rect x="481.2" y="259.6" width="14.2" height="4.9" fill="#fffde0" stroke="#333" stroke-width="0.7"/>
<text class="b" x="498.4" y="264.70000000000005" font-size="6.6" fill="#111">Lcar</text>
<rect x="481.2" y="269" width="14.2" height="4.9" fill="#ffd5d5" stroke="#333" stroke-width="0.7"/>
<text class="b" x="498.4" y="274.1" font-size="6.6" fill="#111">BLM</text>
<rect x="481.2" y="278.4" width="14.2" height="4.9" fill="#f0c4fb" stroke="#333" stroke-width="0.7"/>
<text class="b" x="498.4" y="283.5" font-size="6.6" fill="#111">BLM+Lcar</text>
</g>
</svg></body></html>
